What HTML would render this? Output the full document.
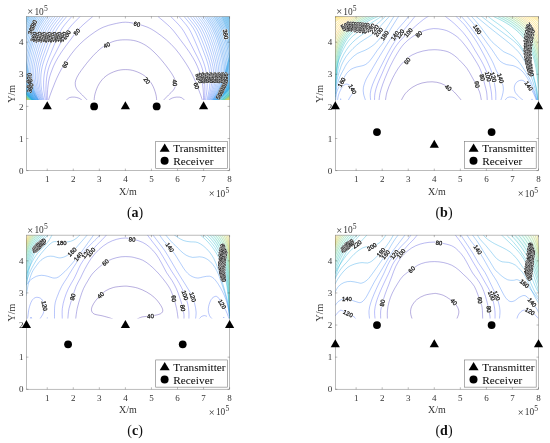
<!DOCTYPE html>
<html><head><meta charset="utf-8"><title>Figure</title>
<style>
html,body{margin:0;padding:0;background:#fff;}
svg{display:block;font-family:"Liberation Serif",serif;}
.tk{font-size:9px;fill:#333;}
.ax{stroke:#262626;stroke-width:0.6;fill:none;opacity:.52}
.lg{font-size:11.3px;fill:#000;}
.cap{font-size:14px;fill:#111;}
.clh{font-family:"Liberation Sans",sans-serif;font-size:6px;fill:#fff;stroke:#fff;stroke-width:1.3px;stroke-linejoin:round;}
.cmh{font-family:"Liberation Sans",sans-serif;font-size:6px;fill:#fff;stroke:#fff;stroke-width:0.55px;stroke-linejoin:round;}
.cc{font-family:"Liberation Sans",sans-serif;font-size:6px;fill:#1a1a1a;stroke:#1a1a1a;stroke-width:0.28px;}
.ct{fill:none;stroke-width:0.5;stroke-opacity:.74;}
</style></head><body>
<svg width="550" height="443" viewBox="0 0 550 443">
<rect width="550" height="443" fill="#fff"/>
<g id="panel-a">
<clipPath id="clip-a"><rect x="26.40" y="16.50" width="203.20" height="83.47"/></clipPath>
<g clip-path="url(#clip-a)">
<path d="M221.50 16.50L226.00 28.00L228.30 40.00L229.20 52.00L229.60 62.00L229.80 70.00L232.00 70.00L232.00 16.50Z" fill="#a6dbf3" fill-opacity=".55"/>
<path d="M18.80 16.50L18.80 70.00L21.00 70.00L21.20 62.00L21.60 52.00L22.50 40.00L24.80 28.00L29.30 16.50Z" fill="#a6dbf3" fill-opacity=".55"/>
<path d="M204.25 16.50L211.75 28.00L216.75 40.00L220.25 52.00L222.25 62.00L222.90 70.00L222.00 78.00L219.60 86.00L216.30 93.00L210.85 101.60L203.80 105.40L240.00 106.00L240.00 16.50Z" fill="#8fc3f5" fill-opacity="0.16"/>
<path d="M10.80 16.50L10.80 106.00L47.00 105.40L39.95 101.60L34.50 93.00L31.20 86.00L28.80 78.00L27.90 70.00L28.55 62.00L30.55 52.00L34.05 40.00L39.05 28.00L46.55 16.50Z" fill="#8fc3f5" fill-opacity="0.16"/>
<path d="M213.34 16.50L220.12 28.00L224.76 40.00L227.72 52.00L229.00 62.00L229.06 70.00L227.40 78.00L224.06 86.00L219.79 93.00L212.88 101.60L203.80 105.40L240.00 106.00L240.00 16.50Z" fill="#8fc3f5" fill-opacity="0.2"/>
<path d="M10.80 16.50L10.80 106.00L47.00 105.40L37.92 101.60L31.01 93.00L26.74 86.00L23.40 78.00L21.74 70.00L21.80 62.00L23.08 52.00L26.04 40.00L30.68 28.00L37.46 16.50Z" fill="#8fc3f5" fill-opacity="0.2"/>
<path d="M229.00 62.00L232.00 62.00L237.50 12.79L233.25 36.62L229.00 56.69L224.75 73.11L220.50 86.03L216.25 95.58L212.00 101.97L207.75 105.44L203.50 106.40L210.00 103.00L216.00 95.00L221.00 86.00L225.00 78.00L228.00 70.00Z" fill="#1da0e4" fill-opacity=".38"/>
<path d="M22.80 70.00L25.80 78.00L29.80 86.00L34.80 95.00L40.80 103.00L47.30 106.40L43.05 105.44L38.80 101.97L34.55 95.58L30.30 86.03L26.05 73.11L21.80 56.69L17.55 36.62L13.30 12.79L18.80 62.00L21.80 62.00Z" fill="#1da0e4" fill-opacity=".38"/>
<path d="M203.50 106.40L207.75 105.44L212.00 101.97L216.25 95.58L220.50 86.03L224.75 73.11L229.00 56.69L233.25 36.62L237.50 12.79L237.50 36.19L233.25 54.06L229.00 69.12L224.75 81.44L220.50 91.12L216.25 98.29L212.00 103.07L207.75 105.68L203.50 106.40Z" fill="#1ca1e2" fill-opacity="0.31"/>
<path d="M47.30 106.40L43.05 105.35L38.80 101.58L34.55 94.63L30.30 84.24L26.05 70.20L21.80 52.34L17.55 30.51L13.30 4.60L13.30 -29.33L17.55 5.22L21.80 34.32L26.05 58.14L30.30 76.86L34.55 90.71L38.80 99.97L43.05 105.00L47.30 106.40Z" fill="#1ca1e2" fill-opacity="0.31"/>
<path d="M203.50 106.40L207.75 105.68L212.00 103.07L216.25 98.29L220.50 91.12L224.75 81.44L229.00 69.12L233.25 54.06L237.50 36.19L237.50 50.24L233.25 64.53L229.00 76.57L224.75 86.43L220.50 94.18L216.25 99.91L212.00 103.74L207.75 105.82L203.50 106.40Z" fill="#1ba3e1" fill-opacity="0.32"/>
<path d="M47.30 106.40L43.05 105.56L38.80 102.54L34.55 96.99L30.30 88.68L26.05 77.44L21.80 63.15L17.55 45.69L13.30 24.96L13.30 4.60L17.55 30.51L21.80 52.34L26.05 70.20L30.30 84.24L34.55 94.63L38.80 101.58L43.05 105.35L47.30 106.40Z" fill="#1ba3e1" fill-opacity="0.32"/>
<path d="M203.50 106.40L207.75 105.82L212.00 103.74L216.25 99.91L220.50 94.18L224.75 86.43L229.00 76.57L233.25 64.53L237.50 50.24L237.50 57.49L233.25 69.94L229.00 80.43L224.75 89.01L220.50 95.76L216.25 100.75L212.00 104.08L207.75 105.90L203.50 106.40Z" fill="#19a6df" fill-opacity="0.35"/>
<path d="M47.30 106.40L43.05 105.67L38.80 103.04L34.55 98.20L30.30 90.97L26.05 81.18L21.80 68.74L17.55 53.53L13.30 35.48L13.30 24.96L17.55 45.69L21.80 63.15L26.05 77.44L30.30 88.68L34.55 96.99L38.80 102.54L43.05 105.56L47.30 106.40Z" fill="#19a6df" fill-opacity="0.35"/>
<path d="M203.50 106.40L207.75 105.90L212.00 104.08L216.25 100.75L220.50 95.76L224.75 89.01L229.00 80.43L233.25 69.94L237.50 57.49L237.50 66.62L233.25 76.74L229.00 85.27L224.75 92.25L220.50 97.74L216.25 101.80L212.00 104.52L207.75 105.99L203.50 106.40Z" fill="#17a9dd" fill-opacity="0.37"/>
<path d="M47.30 106.40L43.05 105.81L38.80 103.67L34.55 99.73L30.30 93.85L26.05 85.89L21.80 75.77L17.55 63.40L13.30 48.71L13.30 35.48L17.55 53.53L21.80 68.74L26.05 81.18L30.30 90.97L34.55 98.20L38.80 103.04L43.05 105.67L47.30 106.40Z" fill="#17a9dd" fill-opacity="0.37"/>
<path d="M203.50 106.40L207.75 105.99L212.00 104.52L216.25 101.80L220.50 97.74L224.75 92.25L229.00 85.27L233.25 76.74L237.50 66.62L237.50 73.64L233.25 81.98L229.00 89.00L224.75 94.75L220.50 99.27L216.25 102.61L212.00 104.85L207.75 106.06L203.50 106.40Z" fill="#13afd8" fill-opacity="0.42"/>
<path d="M47.30 106.40L43.05 105.91L38.80 104.15L34.55 100.91L30.30 96.06L26.05 89.51L21.80 81.17L17.55 70.99L13.30 58.89L13.30 48.71L17.55 63.40L21.80 75.77L26.05 85.89L30.30 93.85L34.55 99.73L38.80 103.67L43.05 105.81L47.30 106.40Z" fill="#13afd8" fill-opacity="0.42"/>
<path d="M203.50 106.40L207.75 106.06L212.00 104.85L216.25 102.61L220.50 99.27L224.75 94.75L229.00 89.00L233.25 81.98L237.50 73.64L237.50 78.79L233.25 85.81L229.00 91.74L224.75 96.58L220.50 100.39L216.25 103.21L212.00 105.09L207.75 106.12L203.50 106.40Z" fill="#17b5cd" fill-opacity="0.53"/>
<path d="M47.30 106.40L43.05 105.99L38.80 104.50L34.55 101.77L30.30 97.69L26.05 92.16L21.80 85.14L17.55 76.55L13.30 66.36L13.30 58.89L17.55 70.99L21.80 81.17L26.05 89.51L30.30 96.06L34.55 100.91L38.80 104.15L43.05 105.91L47.30 106.40Z" fill="#17b5cd" fill-opacity="0.53"/>
<path d="M203.50 106.40L207.75 106.12L212.00 105.09L216.25 103.21L220.50 100.39L224.75 96.58L229.00 91.74L233.25 85.81L237.50 78.79L237.50 83.23L233.25 89.13L229.00 94.10L224.75 98.16L220.50 101.36L216.25 103.72L212.00 105.30L207.75 106.16L203.50 106.40Z" fill="#22bbbb" fill-opacity="0.66"/>
<path d="M47.30 106.40L43.05 106.05L38.80 104.81L34.55 102.52L30.30 99.09L26.05 94.45L21.80 88.56L17.55 81.36L13.30 72.81L13.30 66.36L17.55 76.55L21.80 85.14L26.05 92.16L30.30 97.69L34.55 101.77L38.80 104.50L43.05 105.99L47.30 106.40Z" fill="#22bbbb" fill-opacity="0.66"/>
<path d="M203.50 106.40L207.75 106.16L212.00 105.30L216.25 103.72L220.50 101.36L224.75 98.16L229.00 94.10L233.25 89.13L237.50 83.23L237.50 85.81L233.25 91.05L229.00 95.46L224.75 99.08L220.50 101.92L216.25 104.02L212.00 105.42L207.75 106.19L203.50 106.40Z" fill="#2fc3a5" fill-opacity="0.79"/>
<path d="M47.30 106.40L43.05 106.09L38.80 104.99L34.55 102.95L30.30 99.90L26.05 95.78L21.80 90.54L17.55 84.14L13.30 76.54L13.30 72.81L17.55 81.36L21.80 88.56L26.05 94.45L30.30 99.09L34.55 102.52L38.80 104.81L43.05 106.05L47.30 106.40Z" fill="#2fc3a5" fill-opacity="0.79"/>
<path d="M203.50 106.40L207.75 106.19L212.00 105.42L216.25 104.02L220.50 101.92L224.75 99.08L229.00 95.46L233.25 91.05L237.50 85.81L237.50 87.68L233.25 92.44L229.00 96.46L224.75 99.74L220.50 102.33L216.25 104.24L212.00 105.51L207.75 106.21L203.50 106.40Z" fill="#4ec884" fill-opacity="0.92"/>
<path d="M47.30 106.40L43.05 106.12L38.80 105.11L34.55 103.26L30.30 100.49L26.05 96.75L21.80 91.98L17.55 86.16L13.30 79.25L13.30 76.54L17.55 84.14L21.80 90.54L26.05 95.78L30.30 99.90L34.55 102.95L38.80 104.99L43.05 106.09L47.30 106.40Z" fill="#4ec884" fill-opacity="0.92"/>
<path d="M203.50 106.40L207.75 106.21L212.00 105.51L216.25 104.24L220.50 102.33L224.75 99.74L229.00 96.46L233.25 92.44L237.50 87.68L237.50 89.32L233.25 93.67L229.00 97.33L224.75 100.33L220.50 102.68L216.25 104.43L212.00 105.59L207.75 106.22L203.50 106.40Z" fill="#7fc75d" fill-opacity="0.93"/>
<path d="M47.30 106.40L43.05 106.14L38.80 105.23L34.55 103.54L30.30 101.01L26.05 97.59L21.80 93.25L17.55 87.93L13.30 81.63L13.30 79.25L17.55 86.16L21.80 91.98L26.05 96.75L30.30 100.49L34.55 103.26L38.80 105.11L43.05 106.12L47.30 106.40Z" fill="#7fc75d" fill-opacity="0.93"/>
<path d="M203.50 106.40L207.75 106.22L212.00 105.59L216.25 104.43L220.50 102.68L224.75 100.33L229.00 97.33L233.25 93.67L237.50 89.32L237.50 90.72L233.25 94.71L229.00 98.07L224.75 100.82L220.50 102.99L216.25 104.59L212.00 105.66L207.75 106.24L203.50 106.40Z" fill="#a8c73c" fill-opacity="0.94"/>
<path d="M47.30 106.40L43.05 106.17L38.80 105.32L34.55 103.77L30.30 101.45L26.05 98.32L21.80 94.33L17.55 89.45L13.30 83.66L13.30 81.63L17.55 87.93L21.80 93.25L26.05 97.59L30.30 101.01L34.55 103.54L38.80 105.23L43.05 106.14L47.30 106.40Z" fill="#a8c73c" fill-opacity="0.94"/>
<path d="M203.50 106.40L207.75 106.24L212.00 105.66L216.25 104.59L220.50 102.99L224.75 100.82L229.00 98.07L233.25 94.71L237.50 90.72L237.50 92.12L233.25 95.76L229.00 98.82L224.75 101.32L220.50 103.29L216.25 104.75L212.00 105.72L207.75 106.25L203.50 106.40Z" fill="#c0c639" fill-opacity="0.95"/>
<path d="M47.30 106.40L43.05 106.19L38.80 105.42L34.55 104.01L30.30 101.90L26.05 99.04L21.80 95.41L17.55 90.97L13.30 85.70L13.30 83.66L17.55 89.45L21.80 94.33L26.05 98.32L30.30 101.45L34.55 103.77L38.80 105.32L43.05 106.17L47.30 106.40Z" fill="#c0c639" fill-opacity="0.95"/>
<path d="M203.50 106.40L207.75 106.25L212.00 105.72L216.25 104.75L220.50 103.29L224.75 101.32L229.00 98.82L233.25 95.76L237.50 92.12L237.50 93.53L233.25 96.81L229.00 99.56L224.75 101.82L220.50 103.60L216.25 104.91L212.00 105.79L207.75 106.27L203.50 106.40Z" fill="#d7c538" fill-opacity="0.96"/>
<path d="M47.30 106.40L43.05 106.21L38.80 105.52L34.55 104.24L30.30 102.34L26.05 99.76L21.80 96.49L17.55 92.49L13.30 87.74L13.30 85.70L17.55 90.97L21.80 95.41L26.05 99.04L30.30 101.90L34.55 104.01L38.80 105.42L43.05 106.19L47.30 106.40Z" fill="#d7c538" fill-opacity="0.96"/>
<path d="M203.50 106.40L207.75 106.27L212.00 105.79L216.25 104.91L220.50 103.60L224.75 101.82L229.00 99.56L233.25 96.81L237.50 93.53L237.50 94.93L233.25 97.85L229.00 100.31L224.75 102.32L220.50 103.90L216.25 105.07L212.00 105.86L207.75 106.28L203.50 106.40Z" fill="#eec438" fill-opacity="0.97"/>
<path d="M47.30 106.40L43.05 106.23L38.80 105.61L34.55 104.48L30.30 102.78L26.05 100.49L21.80 97.57L17.55 94.01L13.30 89.77L13.30 87.74L17.55 92.49L21.80 96.49L26.05 99.76L30.30 102.34L34.55 104.24L38.80 105.52L43.05 106.21L47.30 106.40Z" fill="#eec438" fill-opacity="0.97"/>
<path d="M203.50 106.40L207.75 106.28L212.00 105.86L216.25 105.07L220.50 103.90L224.75 102.32L229.00 100.31L233.25 97.85L237.50 94.93L237.50 96.57L233.25 99.07L229.00 101.18L224.75 102.91L220.50 104.26L216.25 105.26L212.00 105.93L207.75 106.30L203.50 106.40Z" fill="#fec437" fill-opacity="0.97"/>
<path d="M47.30 106.40L43.05 106.25L38.80 105.72L34.55 104.75L30.30 103.30L26.05 101.33L21.80 98.83L17.55 95.78L13.30 92.15L13.30 89.77L17.55 94.01L21.80 97.57L26.05 100.49L30.30 102.78L34.55 104.48L38.80 105.61L43.05 106.23L47.30 106.40Z" fill="#fec437" fill-opacity="0.97"/>
<path d="M203.50 106.40L207.75 106.30L212.00 105.93L216.25 105.26L220.50 104.26L224.75 102.91L229.00 101.18L233.25 99.07L237.50 96.57L237.50 99.38L233.25 101.17L229.00 102.67L224.75 103.90L220.50 104.87L216.25 105.59L212.00 106.07L207.75 106.33L203.50 106.40Z" fill="#fdd030" fill-opacity="0.98"/>
<path d="M47.30 106.40L43.05 106.30L38.80 105.92L34.55 105.22L30.30 104.18L26.05 102.78L21.80 100.99L17.55 98.81L13.30 96.22L13.30 92.15L17.55 95.78L21.80 98.83L26.05 101.33L30.30 103.30L34.55 104.75L38.80 105.72L43.05 106.25L47.30 106.40Z" fill="#fdd030" fill-opacity="0.98"/>
<path d="M203.50 106.40L207.75 106.33L212.00 106.07L216.25 105.59L220.50 104.87L224.75 103.90L229.00 102.67L233.25 101.17L237.50 99.38L237.50 106.40L233.25 106.40L229.00 106.40L224.75 106.40L220.50 106.40L216.25 106.40L212.00 106.40L207.75 106.40L203.50 106.40Z" fill="#fcd82b" fill-opacity="0.98"/>
<path d="M47.30 106.40L43.05 106.40L38.80 106.40L34.55 106.40L30.30 106.40L26.05 106.40L21.80 106.40L17.55 106.40L13.30 106.40L13.30 96.22L17.55 98.81L21.80 100.99L26.05 102.78L30.30 104.18L34.55 105.22L38.80 105.92L43.05 106.30L47.30 106.40Z" fill="#fcd82b" fill-opacity="0.98"/>
<path class="ct" d="M158.00 16.50C160.17 18.42 167.25 24.08 171.00 28.00C174.75 31.92 177.45 36.00 180.50 40.00C183.55 44.00 186.83 48.33 189.30 52.00C191.77 55.67 193.72 59.00 195.30 62.00C196.88 65.00 197.77 67.33 198.80 70.00C199.83 72.67 200.83 75.33 201.50 78.00C202.17 80.67 202.48 83.50 202.80 86.00C203.12 88.50 203.27 90.40 203.40 93.00C203.53 95.60 203.57 100.17 203.60 101.60" stroke="#4442d8"/>
<path class="ct" d="M47.20 101.60C47.23 100.17 47.27 95.60 47.40 93.00C47.53 90.40 47.68 88.50 48.00 86.00C48.32 83.50 48.63 80.67 49.30 78.00C49.97 75.33 50.97 72.67 52.00 70.00C53.03 67.33 53.92 65.00 55.50 62.00C57.08 59.00 59.03 55.67 61.50 52.00C63.97 48.33 67.25 44.00 70.30 40.00C73.35 36.00 76.05 31.92 79.80 28.00C83.55 24.08 90.63 18.42 92.80 16.50" stroke="#4442d8"/>
<path class="ct" d="M170.70 16.50C172.50 18.42 178.52 24.08 181.50 28.00C184.48 31.92 186.38 36.00 188.60 40.00C190.82 44.00 192.93 48.33 194.80 52.00C196.67 55.67 198.48 59.00 199.80 62.00C201.12 65.00 201.97 67.33 202.70 70.00C203.43 72.67 203.85 75.33 204.20 78.00C204.55 80.67 204.70 83.50 204.80 86.00C204.90 88.50 204.88 90.40 204.80 93.00C204.72 95.60 204.38 100.17 204.30 101.60" stroke="#474eed"/>
<path class="ct" d="M46.50 101.60C46.42 100.17 46.08 95.60 46.00 93.00C45.92 90.40 45.90 88.50 46.00 86.00C46.10 83.50 46.25 80.67 46.60 78.00C46.95 75.33 47.37 72.67 48.10 70.00C48.83 67.33 49.68 65.00 51.00 62.00C52.32 59.00 54.13 55.67 56.00 52.00C57.87 48.33 59.98 44.00 62.20 40.00C64.42 36.00 66.32 31.92 69.30 28.00C72.28 24.08 78.30 18.42 80.10 16.50" stroke="#474eed"/>
<path class="ct" d="M179.00 16.50C180.58 18.42 185.92 24.08 188.50 28.00C191.08 31.92 192.67 36.00 194.50 40.00C196.33 44.00 198.00 48.33 199.50 52.00C201.00 55.67 202.45 59.00 203.50 62.00C204.55 65.00 205.22 67.33 205.80 70.00C206.38 72.67 206.77 75.33 207.00 78.00C207.23 80.67 207.27 83.50 207.20 86.00C207.13 88.50 206.93 90.40 206.60 93.00C206.27 95.60 205.43 100.17 205.20 101.60" stroke="#4559f5"/>
<path class="ct" d="M45.60 101.60C45.37 100.17 44.53 95.60 44.20 93.00C43.87 90.40 43.67 88.50 43.60 86.00C43.53 83.50 43.57 80.67 43.80 78.00C44.03 75.33 44.42 72.67 45.00 70.00C45.58 67.33 46.25 65.00 47.30 62.00C48.35 59.00 49.80 55.67 51.30 52.00C52.80 48.33 54.47 44.00 56.30 40.00C58.13 36.00 59.72 31.92 62.30 28.00C64.88 24.08 70.22 18.42 71.80 16.50" stroke="#4559f5"/>
<path class="ct" d="M184.10 16.50C185.62 18.42 190.71 24.08 193.20 28.00C195.68 31.92 197.24 36.00 198.99 40.00C200.74 44.00 202.31 48.33 203.69 52.00C205.07 55.67 206.36 59.00 207.29 62.00C208.21 65.00 208.80 67.33 209.25 70.00C209.71 72.67 209.95 75.33 210.03 78.00C210.10 80.67 209.95 83.50 209.70 86.00C209.46 88.50 209.12 90.40 208.56 93.00C208.00 95.60 207.13 99.53 206.34 101.60C205.55 103.67 204.22 104.77 203.80 105.40" stroke="#3d67f5"/>
<path class="ct" d="M47.00 105.40C46.58 104.77 45.25 103.67 44.46 101.60C43.67 99.53 42.80 95.60 42.24 93.00C41.68 90.40 41.34 88.50 41.10 86.00C40.85 83.50 40.70 80.67 40.77 78.00C40.85 75.33 41.09 72.67 41.55 70.00C42.00 67.33 42.59 65.00 43.51 62.00C44.44 59.00 45.73 55.67 47.11 52.00C48.49 48.33 50.06 44.00 51.81 40.00C53.56 36.00 55.12 31.92 57.60 28.00C60.09 24.08 65.18 18.42 66.70 16.50" stroke="#3d67f5"/>
<path class="ct" d="M187.30 16.50C188.77 18.42 193.72 24.08 196.14 28.00C198.56 31.92 200.12 36.00 201.81 40.00C203.51 44.00 205.01 48.33 206.32 52.00C207.63 55.67 208.81 59.00 209.66 62.00C210.51 65.00 211.04 67.33 211.42 70.00C211.80 72.67 211.95 75.33 211.93 78.00C211.91 80.67 211.63 83.50 211.28 86.00C210.92 88.50 210.49 90.40 209.79 93.00C209.09 95.60 208.06 99.53 207.06 101.60C206.06 103.67 204.34 104.77 203.80 105.40" stroke="#3b6cf6"/>
<path class="ct" d="M47.00 105.40C46.46 104.77 44.74 103.67 43.74 101.60C42.74 99.53 41.71 95.60 41.01 93.00C40.31 90.40 39.88 88.50 39.52 86.00C39.17 83.50 38.89 80.67 38.87 78.00C38.85 75.33 39.00 72.67 39.38 70.00C39.76 67.33 40.29 65.00 41.14 62.00C41.99 59.00 43.17 55.67 44.48 52.00C45.79 48.33 47.29 44.00 48.99 40.00C50.68 36.00 52.24 31.92 54.66 28.00C57.08 24.08 62.03 18.42 63.50 16.50" stroke="#3b6cf6"/>
<path class="ct" d="M190.30 16.50C191.73 18.42 196.55 24.08 198.90 28.00C201.26 31.92 202.81 36.00 204.46 40.00C206.10 44.00 207.55 48.33 208.79 52.00C210.03 55.67 211.11 59.00 211.89 62.00C212.67 65.00 213.15 67.33 213.45 70.00C213.76 72.67 213.83 75.33 213.71 78.00C213.60 80.67 213.21 83.50 212.75 86.00C212.29 88.50 211.78 90.40 210.94 93.00C210.10 95.60 208.92 99.53 207.73 101.60C206.54 103.67 204.45 104.77 203.80 105.40" stroke="#3970f6"/>
<path class="ct" d="M47.00 105.40C46.35 104.77 44.26 103.67 43.07 101.60C41.88 99.53 40.70 95.60 39.86 93.00C39.02 90.40 38.51 88.50 38.05 86.00C37.59 83.50 37.20 80.67 37.09 78.00C36.97 75.33 37.04 72.67 37.35 70.00C37.65 67.33 38.13 65.00 38.91 62.00C39.69 59.00 40.77 55.67 42.01 52.00C43.25 48.33 44.70 44.00 46.34 40.00C47.99 36.00 49.54 31.92 51.90 28.00C54.25 24.08 59.07 18.42 60.50 16.50" stroke="#3970f6"/>
<path class="ct" d="M193.00 16.50C194.40 18.42 199.08 24.08 201.39 28.00C203.70 31.92 205.23 36.00 206.84 40.00C208.44 44.00 209.83 48.33 211.00 52.00C212.18 55.67 213.18 59.00 213.90 62.00C214.61 65.00 215.04 67.33 215.28 70.00C215.52 72.67 215.52 75.33 215.32 78.00C215.12 80.67 214.63 83.50 214.08 86.00C213.52 88.50 212.94 90.40 211.98 93.00C211.02 95.60 209.70 99.53 208.33 101.60C206.97 103.67 204.56 104.77 203.80 105.40" stroke="#3774f6"/>
<path class="ct" d="M47.00 105.40C46.24 104.77 43.83 103.67 42.47 101.60C41.10 99.53 39.78 95.60 38.82 93.00C37.86 90.40 37.28 88.50 36.72 86.00C36.17 83.50 35.68 80.67 35.48 78.00C35.28 75.33 35.28 72.67 35.52 70.00C35.76 67.33 36.19 65.00 36.90 62.00C37.62 59.00 38.62 55.67 39.80 52.00C40.97 48.33 42.36 44.00 43.96 40.00C45.57 36.00 47.10 31.92 49.41 28.00C51.72 24.08 56.40 18.42 57.80 16.50" stroke="#3774f6"/>
<path class="ct" d="M195.60 16.50C196.96 18.42 201.53 24.08 203.79 28.00C206.04 31.92 207.57 36.00 209.13 40.00C210.69 44.00 212.03 48.33 213.14 52.00C214.26 55.67 215.18 59.00 215.83 62.00C216.48 65.00 216.87 67.33 217.04 70.00C217.21 72.67 217.14 75.33 216.86 78.00C216.58 80.67 216.00 83.50 215.35 86.00C214.70 88.50 214.05 90.40 212.98 93.00C211.90 95.60 210.44 99.53 208.91 101.60C207.38 103.67 204.65 104.77 203.80 105.40" stroke="#3578f6"/>
<path class="ct" d="M47.00 105.40C46.15 104.77 43.42 103.67 41.89 101.60C40.36 99.53 38.90 95.60 37.82 93.00C36.75 90.40 36.10 88.50 35.45 86.00C34.80 83.50 34.22 80.67 33.94 78.00C33.66 75.33 33.59 72.67 33.76 70.00C33.93 67.33 34.32 65.00 34.97 62.00C35.62 59.00 36.54 55.67 37.66 52.00C38.77 48.33 40.11 44.00 41.67 40.00C43.23 36.00 44.76 31.92 47.01 28.00C49.27 24.08 53.84 18.42 55.20 16.50" stroke="#3578f6"/>
<path class="ct" d="M198.00 16.50C199.33 18.42 203.79 24.08 206.00 28.00C208.20 31.92 209.72 36.00 211.24 40.00C212.76 44.00 214.05 48.33 215.11 52.00C216.17 55.67 217.02 59.00 217.61 62.00C218.20 65.00 218.55 67.33 218.67 70.00C218.78 72.67 218.64 75.33 218.29 78.00C217.93 80.67 217.26 83.50 216.53 86.00C215.80 88.50 215.08 90.40 213.90 93.00C212.72 95.60 211.13 99.53 209.45 101.60C207.77 103.67 204.74 104.77 203.80 105.40" stroke="#337cf6"/>
<path class="ct" d="M47.00 105.40C46.06 104.77 43.03 103.67 41.35 101.60C39.67 99.53 38.08 95.60 36.90 93.00C35.72 90.40 35.00 88.50 34.27 86.00C33.54 83.50 32.87 80.67 32.51 78.00C32.16 75.33 32.02 72.67 32.13 70.00C32.25 67.33 32.60 65.00 33.19 62.00C33.78 59.00 34.63 55.67 35.69 52.00C36.75 48.33 38.04 44.00 39.56 40.00C41.08 36.00 42.60 31.92 44.80 28.00C47.01 24.08 51.47 18.42 52.80 16.50" stroke="#337cf6"/>
<path class="ct" d="M200.30 16.50C201.60 18.42 205.95 24.08 208.11 28.00C210.27 31.92 211.79 36.00 213.27 40.00C214.75 44.00 216.00 48.33 217.00 52.00C218.01 55.67 218.78 59.00 219.32 62.00C219.85 65.00 220.17 67.33 220.22 70.00C220.28 72.67 220.08 75.33 219.65 78.00C219.23 80.67 218.47 83.50 217.66 86.00C216.85 88.50 216.06 90.40 214.78 93.00C213.50 95.60 211.80 99.53 209.97 101.60C208.14 103.67 204.83 104.77 203.80 105.40" stroke="#317ff6"/>
<path class="ct" d="M47.00 105.40C45.97 104.77 42.66 103.67 40.83 101.60C39.00 99.53 37.30 95.60 36.02 93.00C34.74 90.40 33.95 88.50 33.14 86.00C32.33 83.50 31.57 80.67 31.15 78.00C30.72 75.33 30.52 72.67 30.58 70.00C30.63 67.33 30.95 65.00 31.48 62.00C32.02 59.00 32.79 55.67 33.80 52.00C34.80 48.33 36.05 44.00 37.53 40.00C39.01 36.00 40.53 31.92 42.69 28.00C44.85 24.08 49.20 18.42 50.50 16.50" stroke="#317ff6"/>
<path class="ct" d="M202.50 16.50C203.77 18.42 208.02 24.08 210.14 28.00C212.26 31.92 213.76 36.00 215.21 40.00C216.65 44.00 217.85 48.33 218.81 52.00C219.77 55.67 220.47 59.00 220.95 62.00C221.43 65.00 221.71 67.33 221.71 70.00C221.72 72.67 221.46 75.33 220.96 78.00C220.46 80.67 219.63 83.50 218.74 86.00C217.85 88.50 217.01 90.40 215.63 93.00C214.25 95.60 212.43 99.53 210.46 101.60C208.49 103.67 204.91 104.77 203.80 105.40" stroke="#3082f7"/>
<path class="ct" d="M47.00 105.40C45.89 104.77 42.31 103.67 40.34 101.60C38.37 99.53 36.55 95.60 35.17 93.00C33.79 90.40 32.95 88.50 32.06 86.00C31.17 83.50 30.34 80.67 29.84 78.00C29.34 75.33 29.08 72.67 29.09 70.00C29.09 67.33 29.37 65.00 29.85 62.00C30.33 59.00 31.03 55.67 31.99 52.00C32.95 48.33 34.15 44.00 35.59 40.00C37.04 36.00 38.54 31.92 40.66 28.00C42.78 24.08 47.03 18.42 48.30 16.50" stroke="#3082f7"/>
<path class="ct" d="M204.60 16.50C205.85 18.42 210.00 24.08 212.07 28.00C214.15 31.92 215.65 36.00 217.06 40.00C218.47 44.00 219.63 48.33 220.54 52.00C221.45 55.67 222.08 59.00 222.51 62.00C222.94 65.00 223.19 67.33 223.14 70.00C223.09 72.67 222.77 75.33 222.21 78.00C221.65 80.67 220.73 83.50 219.77 86.00C218.81 88.50 217.91 90.40 216.43 93.00C214.96 95.60 213.03 99.53 210.93 101.60C208.82 103.67 204.99 104.77 203.80 105.40" stroke="#2e85f7"/>
<path class="ct" d="M47.00 105.40C45.81 104.77 41.98 103.67 39.87 101.60C37.77 99.53 35.84 95.60 34.37 93.00C32.89 90.40 31.99 88.50 31.03 86.00C30.07 83.50 29.15 80.67 28.59 78.00C28.03 75.33 27.71 72.67 27.66 70.00C27.61 67.33 27.86 65.00 28.29 62.00C28.72 59.00 29.35 55.67 30.26 52.00C31.17 48.33 32.33 44.00 33.74 40.00C35.15 36.00 36.65 31.92 38.73 28.00C40.80 24.08 44.95 18.42 46.20 16.50" stroke="#2e85f7"/>
<path class="ct" d="M206.60 16.50C207.82 18.42 211.88 24.08 213.91 28.00C215.95 31.92 217.44 36.00 218.82 40.00C220.20 44.00 221.32 48.33 222.18 52.00C223.04 55.67 223.61 59.00 224.00 62.00C224.38 65.00 224.59 67.33 224.49 70.00C224.39 72.67 224.02 75.33 223.40 78.00C222.77 80.67 221.79 83.50 220.75 86.00C219.72 88.50 218.77 90.40 217.20 93.00C215.64 95.60 213.61 99.53 211.38 101.60C209.14 103.67 205.06 104.77 203.80 105.40" stroke="#2d88f6"/>
<path class="ct" d="M47.00 105.40C45.74 104.77 41.66 103.67 39.42 101.60C37.19 99.53 35.16 95.60 33.60 93.00C32.03 90.40 31.08 88.50 30.05 86.00C29.01 83.50 28.03 80.67 27.40 78.00C26.78 75.33 26.41 72.67 26.31 70.00C26.21 67.33 26.42 65.00 26.80 62.00C27.19 59.00 27.76 55.67 28.62 52.00C29.48 48.33 30.60 44.00 31.98 40.00C33.36 36.00 34.85 31.92 36.89 28.00C38.92 24.08 42.98 18.42 44.20 16.50" stroke="#2d88f6"/>
<path class="ct" d="M208.50 16.50C209.69 18.42 213.66 24.08 215.66 28.00C217.66 31.92 219.15 36.00 220.50 40.00C221.84 44.00 222.92 48.33 223.74 52.00C224.56 55.67 225.07 59.00 225.41 62.00C225.75 65.00 225.93 67.33 225.78 70.00C225.63 72.67 225.21 75.33 224.52 78.00C223.84 80.67 222.79 83.50 221.69 86.00C220.59 88.50 219.58 90.40 217.93 93.00C216.28 95.60 214.16 99.53 211.80 101.60C209.45 103.67 205.13 104.77 203.80 105.40" stroke="#2b8af4"/>
<path class="ct" d="M47.00 105.40C45.67 104.77 41.35 103.67 39.00 101.60C36.64 99.53 34.52 95.60 32.87 93.00C31.22 90.40 30.21 88.50 29.11 86.00C28.01 83.50 26.96 80.67 26.28 78.00C25.59 75.33 25.17 72.67 25.02 70.00C24.87 67.33 25.05 65.00 25.39 62.00C25.73 59.00 26.24 55.67 27.06 52.00C27.88 48.33 28.96 44.00 30.30 40.00C31.65 36.00 33.14 31.92 35.14 28.00C37.14 24.08 41.11 18.42 42.30 16.50" stroke="#2b8af4"/>
<path class="ct" d="M210.40 16.50C211.57 18.42 215.45 24.08 217.41 28.00C219.37 31.92 220.85 36.00 222.17 40.00C223.48 44.00 224.53 48.33 225.30 52.00C226.08 55.67 226.52 59.00 226.82 62.00C227.11 65.00 227.26 67.33 227.06 70.00C226.87 72.67 226.39 75.33 225.65 78.00C224.91 80.67 223.79 83.50 222.62 86.00C221.46 88.50 220.39 90.40 218.66 93.00C216.93 95.60 214.70 99.53 212.23 101.60C209.75 103.67 205.20 104.77 203.80 105.40" stroke="#2a8cf3"/>
<path class="ct" d="M47.00 105.40C45.60 104.77 41.05 103.67 38.57 101.60C36.10 99.53 33.87 95.60 32.14 93.00C30.41 90.40 29.34 88.50 28.18 86.00C27.01 83.50 25.89 80.67 25.15 78.00C24.41 75.33 23.93 72.67 23.74 70.00C23.54 67.33 23.69 65.00 23.98 62.00C24.28 59.00 24.72 55.67 25.50 52.00C26.27 48.33 27.32 44.00 28.63 40.00C29.95 36.00 31.43 31.92 33.39 28.00C35.35 24.08 39.23 18.42 40.40 16.50" stroke="#2a8cf3"/>
<path class="ct" d="M212.20 16.50C213.35 18.42 217.14 24.08 219.07 28.00C221.00 31.92 222.47 36.00 223.76 40.00C225.04 44.00 226.05 48.33 226.78 52.00C227.52 55.67 227.90 59.00 228.15 62.00C228.40 65.00 228.52 67.33 228.28 70.00C228.05 72.67 227.52 75.33 226.72 78.00C225.93 80.67 224.73 83.50 223.50 86.00C222.28 88.50 221.17 90.40 219.35 93.00C217.54 95.60 215.22 99.53 212.63 101.60C210.04 103.67 205.27 104.77 203.80 105.40" stroke="#288ff1"/>
<path class="ct" d="M47.00 105.40C45.53 104.77 40.76 103.67 38.17 101.60C35.58 99.53 33.26 95.60 31.45 93.00C29.63 90.40 28.52 88.50 27.30 86.00C26.07 83.50 24.87 80.67 24.08 78.00C23.28 75.33 22.75 72.67 22.52 70.00C22.28 67.33 22.40 65.00 22.65 62.00C22.90 59.00 23.28 55.67 24.02 52.00C24.75 48.33 25.76 44.00 27.04 40.00C28.33 36.00 29.80 31.92 31.73 28.00C33.66 24.08 37.45 18.42 38.60 16.50" stroke="#288ff1"/>
<path class="ct" d="M214.00 16.50C215.12 18.42 218.84 24.08 220.73 28.00C222.62 31.92 224.09 36.00 225.34 40.00C226.60 44.00 227.57 48.33 228.26 52.00C228.95 55.67 229.28 59.00 229.49 62.00C229.70 65.00 229.79 67.33 229.50 70.00C229.22 72.67 228.64 75.33 227.79 78.00C226.94 80.67 225.68 83.50 224.39 86.00C223.10 88.50 221.94 90.40 220.05 93.00C218.15 95.60 215.74 99.53 213.03 101.60C210.32 103.67 205.34 104.77 203.80 105.40" stroke="#2791ef"/>
<path class="ct" d="M47.00 105.40C45.46 104.77 40.48 103.67 37.77 101.60C35.06 99.53 32.65 95.60 30.75 93.00C28.86 90.40 27.70 88.50 26.41 86.00C25.12 83.50 23.86 80.67 23.01 78.00C22.16 75.33 21.58 72.67 21.30 70.00C21.01 67.33 21.10 65.00 21.31 62.00C21.52 59.00 21.85 55.67 22.54 52.00C23.23 48.33 24.20 44.00 25.46 40.00C26.71 36.00 28.18 31.92 30.07 28.00C31.96 24.08 35.68 18.42 36.80 16.50" stroke="#2791ef"/>
<path class="ct" d="M215.70 16.50C216.80 18.42 220.44 24.08 222.29 28.00C224.15 31.92 225.61 36.00 226.84 40.00C228.07 44.00 229.01 48.33 229.66 52.00C230.31 55.67 230.59 59.00 230.75 62.00C230.92 65.00 230.98 67.33 230.65 70.00C230.33 72.67 229.71 75.33 228.80 78.00C227.90 80.67 226.57 83.50 225.22 86.00C223.87 88.50 222.67 90.40 220.70 93.00C218.73 95.60 216.23 99.53 213.41 101.60C210.60 103.67 205.40 104.77 203.80 105.40" stroke="#2693ee"/>
<path class="ct" d="M47.00 105.40C45.40 104.77 40.20 103.67 37.39 101.60C34.57 99.53 32.07 95.60 30.10 93.00C28.13 90.40 26.93 88.50 25.58 86.00C24.23 83.50 22.90 80.67 22.00 78.00C21.09 75.33 20.47 72.67 20.15 70.00C19.82 67.33 19.88 65.00 20.05 62.00C20.21 59.00 20.49 55.67 21.14 52.00C21.79 48.33 22.73 44.00 23.96 40.00C25.19 36.00 26.65 31.92 28.51 28.00C30.36 24.08 34.00 18.42 35.10 16.50" stroke="#2693ee"/>
<path class="ct" d="M217.30 16.50C218.38 18.42 221.94 24.08 223.77 28.00C225.59 31.92 227.05 36.00 228.25 40.00C229.45 44.00 230.36 48.33 230.97 52.00C231.59 55.67 231.81 59.00 231.94 62.00C232.07 65.00 232.10 67.33 231.74 70.00C231.37 72.67 230.71 75.33 229.75 78.00C228.80 80.67 227.42 83.50 226.01 86.00C224.60 88.50 223.35 90.40 221.31 93.00C219.27 95.60 216.69 99.53 213.77 101.60C210.85 103.67 205.46 104.77 203.80 105.40" stroke="#2594ec"/>
<path class="ct" d="M47.00 105.40C45.34 104.77 39.95 103.67 37.03 101.60C34.11 99.53 31.53 95.60 29.49 93.00C27.45 90.40 26.20 88.50 24.79 86.00C23.38 83.50 22.00 80.67 21.05 78.00C20.09 75.33 19.43 72.67 19.06 70.00C18.70 67.33 18.73 65.00 18.86 62.00C18.99 59.00 19.21 55.67 19.83 52.00C20.44 48.33 21.35 44.00 22.55 40.00C23.75 36.00 25.21 31.92 27.03 28.00C28.86 24.08 32.42 18.42 33.50 16.50" stroke="#2594ec"/>
<path class="ct" d="M218.90 16.50C219.96 18.42 223.45 24.08 225.24 28.00C227.03 31.92 228.48 36.00 229.66 40.00C230.83 44.00 231.71 48.33 232.29 52.00C232.87 55.67 233.04 59.00 233.13 62.00C233.22 65.00 233.23 67.33 232.82 70.00C232.42 72.67 231.71 75.33 230.70 78.00C229.70 80.67 228.26 83.50 226.79 86.00C225.33 88.50 224.04 90.40 221.93 93.00C219.82 95.60 217.15 99.53 214.13 101.60C211.11 103.67 205.52 104.77 203.80 105.40" stroke="#2396eb"/>
<path class="ct" d="M47.00 105.40C45.28 104.77 39.69 103.67 36.67 101.60C33.65 99.53 30.98 95.60 28.87 93.00C26.76 90.40 25.47 88.50 24.01 86.00C22.54 83.50 21.10 80.67 20.10 78.00C19.09 75.33 18.38 72.67 17.98 70.00C17.57 67.33 17.58 65.00 17.67 62.00C17.76 59.00 17.93 55.67 18.51 52.00C19.09 48.33 19.97 44.00 21.14 40.00C22.32 36.00 23.77 31.92 25.56 28.00C27.35 24.08 30.84 18.42 31.90 16.50" stroke="#2396eb"/>
<path class="ct" d="M220.40 16.50C221.44 18.42 224.86 24.08 226.62 28.00C228.38 31.92 229.83 36.00 230.98 40.00C232.13 44.00 232.98 48.33 233.52 52.00C234.07 55.67 234.19 59.00 234.24 62.00C234.30 65.00 234.28 67.33 233.84 70.00C233.40 72.67 232.65 75.33 231.59 78.00C230.54 80.67 229.05 83.50 227.53 86.00C226.02 88.50 224.68 90.40 222.50 93.00C220.33 95.60 217.58 99.53 214.46 101.60C211.35 103.67 205.58 104.77 203.80 105.40" stroke="#2298e9"/>
<path class="ct" d="M47.00 105.40C45.22 104.77 39.45 103.67 36.34 101.60C33.22 99.53 30.47 95.60 28.30 93.00C26.12 90.40 24.78 88.50 23.27 86.00C21.75 83.50 20.26 80.67 19.21 78.00C18.15 75.33 17.40 72.67 16.96 70.00C16.52 67.33 16.50 65.00 16.56 62.00C16.61 59.00 16.73 55.67 17.28 52.00C17.82 48.33 18.67 44.00 19.82 40.00C20.97 36.00 22.42 31.92 24.18 28.00C25.94 24.08 29.36 18.42 30.40 16.50" stroke="#2298e9"/>
<path class="ct" d="M221.80 16.50C222.82 18.42 226.17 24.08 227.91 28.00C229.65 31.92 231.09 36.00 232.21 40.00C233.34 44.00 234.16 48.33 234.67 52.00C235.18 55.67 235.26 59.00 235.28 62.00C235.30 65.00 235.26 67.33 234.79 70.00C234.31 72.67 233.52 75.33 232.43 78.00C231.33 80.67 229.78 83.50 228.22 86.00C226.65 88.50 225.28 90.40 223.04 93.00C220.80 95.60 217.98 99.53 214.78 101.60C211.57 103.67 205.63 104.77 203.80 105.40" stroke="#219ae8"/>
<path class="ct" d="M47.00 105.40C45.17 104.77 39.23 103.67 36.02 101.60C32.82 99.53 30.00 95.60 27.76 93.00C25.52 90.40 24.15 88.50 22.58 86.00C21.02 83.50 19.47 80.67 18.37 78.00C17.28 75.33 16.49 72.67 16.01 70.00C15.54 67.33 15.50 65.00 15.52 62.00C15.54 59.00 15.62 55.67 16.13 52.00C16.64 48.33 17.46 44.00 18.59 40.00C19.71 36.00 21.15 31.92 22.89 28.00C24.63 24.08 27.98 18.42 29.00 16.50" stroke="#219ae8"/>
<path class="ct" d="M223.20 16.50C224.20 18.42 227.49 24.08 229.20 28.00C230.91 31.92 232.34 36.00 233.45 40.00C234.55 44.00 235.34 48.33 235.82 52.00C236.30 55.67 236.34 59.00 236.32 62.00C236.31 65.00 236.24 67.33 235.73 70.00C235.22 72.67 234.40 75.33 233.26 78.00C232.12 80.67 230.52 83.50 228.91 86.00C227.29 88.50 225.88 90.40 223.58 93.00C221.28 95.60 218.39 99.53 215.09 101.60C211.79 103.67 205.68 104.77 203.80 105.40" stroke="#209be7"/>
<path class="ct" d="M47.00 105.40C45.12 104.77 39.01 103.67 35.71 101.60C32.41 99.53 29.52 95.60 27.22 93.00C24.92 90.40 23.51 88.50 21.89 86.00C20.28 83.50 18.68 80.67 17.54 78.00C16.40 75.33 15.58 72.67 15.07 70.00C14.56 67.33 14.49 65.00 14.48 62.00C14.46 59.00 14.50 55.67 14.98 52.00C15.46 48.33 16.25 44.00 17.35 40.00C18.46 36.00 19.89 31.92 21.60 28.00C23.31 24.08 26.60 18.42 27.60 16.50" stroke="#209be7"/>
<path class="ct" d="M224.50 16.50C225.48 18.42 228.71 24.08 230.40 28.00C232.08 31.92 233.51 36.00 234.59 40.00C235.68 44.00 236.44 48.33 236.89 52.00C237.34 55.67 237.33 59.00 237.29 62.00C237.24 65.00 237.16 67.33 236.61 70.00C236.07 72.67 235.21 75.33 234.03 78.00C232.85 80.67 231.20 83.50 229.54 86.00C227.89 88.50 226.44 90.40 224.08 93.00C221.72 95.60 218.76 99.53 215.38 101.60C212.00 103.67 205.73 104.77 203.80 105.40" stroke="#1f9de6"/>
<path class="ct" d="M47.00 105.40C45.07 104.77 38.80 103.67 35.42 101.60C32.04 99.53 29.08 95.60 26.72 93.00C24.36 90.40 22.91 88.50 21.26 86.00C19.60 83.50 17.95 80.67 16.77 78.00C15.59 75.33 14.73 72.67 14.19 70.00C13.64 67.33 13.56 65.00 13.51 62.00C13.47 59.00 13.46 55.67 13.91 52.00C14.36 48.33 15.12 44.00 16.21 40.00C17.29 36.00 18.72 31.92 20.40 28.00C22.09 24.08 25.32 18.42 26.30 16.50" stroke="#1f9de6"/>
<path class="ct" d="M225.70 16.50C226.67 18.42 229.84 24.08 231.50 28.00C233.16 31.92 234.59 36.00 235.65 40.00C236.71 44.00 237.46 48.33 237.88 52.00C238.30 55.67 238.25 59.00 238.18 62.00C238.10 65.00 238.00 67.33 237.43 70.00C236.85 72.67 235.96 75.33 234.74 78.00C233.53 80.67 231.83 83.50 230.13 86.00C228.43 88.50 226.95 90.40 224.54 93.00C222.13 95.60 219.11 99.53 215.65 101.60C212.19 103.67 205.77 104.77 203.80 105.40" stroke="#1e9ee5"/>
<path class="ct" d="M47.00 105.40C45.03 104.77 38.61 103.67 35.15 101.60C31.69 99.53 28.67 95.60 26.26 93.00C23.85 90.40 22.37 88.50 20.67 86.00C18.97 83.50 17.27 80.67 16.06 78.00C14.84 75.33 13.95 72.67 13.37 70.00C12.80 67.33 12.70 65.00 12.62 62.00C12.55 59.00 12.50 55.67 12.92 52.00C13.34 48.33 14.09 44.00 15.15 40.00C16.21 36.00 17.64 31.92 19.30 28.00C20.96 24.08 24.13 18.42 25.10 16.50" stroke="#1e9ee5"/>
<path class="ct" d="M226.80 16.50C227.75 18.42 230.88 24.08 232.51 28.00C234.15 31.92 235.58 36.00 236.62 40.00C237.67 44.00 238.39 48.33 238.78 52.00C239.18 55.67 239.10 59.00 239.00 62.00C238.89 65.00 238.77 67.33 238.17 70.00C237.57 72.67 236.65 75.33 235.40 78.00C234.15 80.67 232.41 83.50 230.67 86.00C228.94 88.50 227.43 90.40 224.96 93.00C222.50 95.60 219.42 99.53 215.90 101.60C212.37 103.67 205.82 104.77 203.80 105.40" stroke="#1da0e4"/>
<path class="ct" d="M47.00 105.40C44.98 104.77 38.43 103.67 34.90 101.60C31.38 99.53 28.30 95.60 25.84 93.00C23.37 90.40 21.86 88.50 20.13 86.00C18.39 83.50 16.65 80.67 15.40 78.00C14.15 75.33 13.23 72.67 12.63 70.00C12.03 67.33 11.91 65.00 11.80 62.00C11.70 59.00 11.62 55.67 12.02 52.00C12.41 48.33 13.13 44.00 14.18 40.00C15.22 36.00 16.65 31.92 18.29 28.00C19.92 24.08 23.05 18.42 24.00 16.50" stroke="#1da0e4"/>
<path class="ct" d="M227.80 16.50C228.74 18.42 231.82 24.08 233.43 28.00C235.05 31.92 236.47 36.00 237.50 40.00C238.53 44.00 239.23 48.33 239.60 52.00C239.98 55.67 239.86 59.00 239.74 62.00C239.61 65.00 239.47 67.33 238.85 70.00C238.22 72.67 237.27 75.33 235.99 78.00C234.71 80.67 232.94 83.50 231.17 86.00C229.39 88.50 227.85 90.40 225.35 93.00C222.84 95.60 219.71 99.53 216.12 101.60C212.53 103.67 205.85 104.77 203.80 105.40" stroke="#1ca1e3"/>
<path class="ct" d="M47.00 105.40C44.95 104.77 38.27 103.67 34.68 101.60C31.09 99.53 27.96 95.60 25.45 93.00C22.95 90.40 21.41 88.50 19.63 86.00C17.86 83.50 16.09 80.67 14.81 78.00C13.53 75.33 12.58 72.67 11.95 70.00C11.33 67.33 11.19 65.00 11.06 62.00C10.94 59.00 10.82 55.67 11.20 52.00C11.57 48.33 12.27 44.00 13.30 40.00C14.33 36.00 15.75 31.92 17.37 28.00C18.98 24.08 22.06 18.42 23.00 16.50" stroke="#1ca1e3"/>
<path class="ct" d="M228.80 16.50C229.73 18.42 232.76 24.08 234.36 28.00C235.95 31.92 237.37 36.00 238.38 40.00C239.39 44.00 240.08 48.33 240.42 52.00C240.77 55.67 240.63 59.00 240.48 62.00C240.33 65.00 240.18 67.33 239.53 70.00C238.88 72.67 237.90 75.33 236.58 78.00C235.27 80.67 233.47 83.50 231.66 86.00C229.85 88.50 228.28 90.40 225.73 93.00C223.18 95.60 220.00 99.53 216.34 101.60C212.69 103.67 205.89 104.77 203.80 105.40" stroke="#1ca2e2"/>
<path class="ct" d="M47.00 105.40C44.91 104.77 38.11 103.67 34.46 101.60C30.80 99.53 27.62 95.60 25.07 93.00C22.52 90.40 20.95 88.50 19.14 86.00C17.33 83.50 15.53 80.67 14.22 78.00C12.90 75.33 11.92 72.67 11.27 70.00C10.62 67.33 10.47 65.00 10.32 62.00C10.17 59.00 10.03 55.67 10.38 52.00C10.72 48.33 11.41 44.00 12.42 40.00C13.43 36.00 14.85 31.92 16.44 28.00C18.04 24.08 21.07 18.42 22.00 16.50" stroke="#1ca2e2"/>
<path class="ct" d="M94.00 102.00C94.17 100.67 94.17 97.00 95.00 94.00C95.83 91.00 97.17 87.00 99.00 84.00C100.83 81.00 103.17 78.17 106.00 76.00C108.83 73.83 112.77 72.07 116.00 71.00C119.23 69.93 122.27 69.60 125.40 69.60C128.53 69.60 131.57 69.93 134.80 71.00C138.03 72.07 141.97 73.83 144.80 76.00C147.63 78.17 149.97 81.00 151.80 84.00C153.63 87.00 154.97 91.00 155.80 94.00C156.63 97.00 156.63 100.67 156.80 102.00" stroke="#3e26a8"/>
<path class="ct" d="M87.60 100.50C86.72 99.58 84.02 96.75 82.30 95.00C80.58 93.25 78.47 91.67 77.30 90.00C76.13 88.33 75.55 86.67 75.30 85.00C75.05 83.33 75.22 81.83 75.80 80.00C76.38 78.17 77.47 76.17 78.80 74.00C80.13 71.83 81.97 69.42 83.80 67.00C85.63 64.58 87.63 62.00 89.80 59.50C91.97 57.00 94.30 54.33 96.80 52.00C99.30 49.67 101.80 47.33 104.80 45.50C107.80 43.67 111.37 41.95 114.80 41.00C118.23 40.05 121.87 39.80 125.40 39.80C128.93 39.80 132.57 40.05 136.00 41.00C139.43 41.95 143.00 43.67 146.00 45.50C149.00 47.33 151.50 49.67 154.00 52.00C156.50 54.33 158.83 57.00 161.00 59.50C163.17 62.00 165.17 64.58 167.00 67.00C168.83 69.42 170.67 71.83 172.00 74.00C173.33 76.17 174.42 78.17 175.00 80.00C175.58 81.83 175.75 83.33 175.50 85.00C175.25 86.67 174.67 88.33 173.50 90.00C172.33 91.67 170.22 93.25 168.50 95.00C166.78 96.75 164.08 99.58 163.20 100.50" stroke="#3f2db3"/>
<path class="ct" d="M168.30 100.60C168.75 100.27 169.97 99.13 171.00 98.60C172.03 98.07 173.33 97.65 174.50 97.40C175.67 97.15 176.83 97.05 178.00 97.10C179.17 97.15 180.33 97.12 181.50 97.70C182.67 98.28 184.42 100.12 185.00 100.60" stroke="#3f2db3"/>
<path class="ct" d="M65.80 100.60C66.38 100.12 68.13 98.28 69.30 97.70C70.47 97.12 71.63 97.15 72.80 97.10C73.97 97.05 75.13 97.15 76.30 97.40C77.47 97.65 78.77 98.07 79.80 98.60C80.83 99.13 82.05 100.27 82.50 100.60" stroke="#3f2db3"/>
<path class="ct" d="M48.20 101.00C48.58 99.83 49.60 96.50 50.50 94.00C51.40 91.50 52.55 88.63 53.60 86.00C54.65 83.37 55.52 80.98 56.80 78.20C58.08 75.42 59.47 72.50 61.30 69.30C63.13 66.10 65.47 62.38 67.80 59.00C70.13 55.62 72.55 52.17 75.30 49.00C78.05 45.83 81.05 42.83 84.30 40.00C87.55 37.17 91.55 34.17 94.80 32.00C98.05 29.83 100.63 28.33 103.80 27.00C106.97 25.67 110.20 24.80 113.80 24.00C117.40 23.20 121.53 22.20 125.40 22.20C129.27 22.20 133.40 23.20 137.00 24.00C140.60 24.80 143.83 25.67 147.00 27.00C150.17 28.33 152.75 29.83 156.00 32.00C159.25 34.17 163.25 37.17 166.50 40.00C169.75 42.83 172.75 45.83 175.50 49.00C178.25 52.17 180.67 55.62 183.00 59.00C185.33 62.38 187.67 66.10 189.50 69.30C191.33 72.50 192.72 75.42 194.00 78.20C195.28 80.98 196.15 83.37 197.20 86.00C198.25 88.63 199.40 91.50 200.30 94.00C201.20 96.50 202.22 99.83 202.60 101.00" stroke="#4136c3"/>
</g>
<text class="clh" transform="translate(147.00 80.60) rotate(52.0)" text-anchor="middle" dy="2.05">20</text><text class="cc" transform="translate(147.00 80.60) rotate(52.0)" text-anchor="middle" dy="2.05">20</text>
<text class="clh" transform="translate(106.80 45.20) rotate(-27.0)" text-anchor="middle" dy="2.05">40</text><text class="cc" transform="translate(106.80 45.20) rotate(-27.0)" text-anchor="middle" dy="2.05">40</text>
<text class="clh" transform="translate(174.80 82.80) rotate(84.0)" text-anchor="middle" dy="2.05">40</text><text class="cc" transform="translate(174.80 82.80) rotate(84.0)" text-anchor="middle" dy="2.05">40</text>
<text class="clh" transform="translate(137.00 24.20) rotate(12.0)" text-anchor="middle" dy="2.05">60</text><text class="cc" transform="translate(137.00 24.20) rotate(12.0)" text-anchor="middle" dy="2.05">60</text>
<text class="clh" transform="translate(65.20 64.80) rotate(-62.0)" text-anchor="middle" dy="2.05">60</text><text class="cc" transform="translate(65.20 64.80) rotate(-62.0)" text-anchor="middle" dy="2.05">60</text>
<text class="clh" transform="translate(196.40 85.80) rotate(74.0)" text-anchor="middle" dy="2.05">60</text><text class="cc" transform="translate(196.40 85.80) rotate(74.0)" text-anchor="middle" dy="2.05">60</text>
<text class="clh" transform="translate(76.80 32.00) rotate(-50.0)" text-anchor="middle" dy="2.05">80</text><text class="cc" transform="translate(76.80 32.00) rotate(-50.0)" text-anchor="middle" dy="2.05">80</text>
<text class="clh" transform="translate(66.60 35.00) rotate(-56.0)" text-anchor="middle" dy="2.05">100</text><text class="cc" transform="translate(66.60 35.00) rotate(-56.0)" text-anchor="middle" dy="2.05">100</text>
<text class="cmh" transform="translate(63.20 36.80) rotate(-66.0)" text-anchor="middle" dy="2.05">120</text><text class="cc" transform="translate(63.20 36.80) rotate(-66.0)" text-anchor="middle" dy="2.05">120</text>
<text class="cmh" transform="translate(60.75 37.70) rotate(-66.6)" text-anchor="middle" dy="2.05">140</text><text class="cc" transform="translate(60.75 37.70) rotate(-66.6)" text-anchor="middle" dy="2.05">140</text>
<text class="cmh" transform="translate(58.30 36.80) rotate(-67.2)" text-anchor="middle" dy="2.05">160</text><text class="cc" transform="translate(58.30 36.80) rotate(-67.2)" text-anchor="middle" dy="2.05">160</text>
<text class="cmh" transform="translate(55.85 37.70) rotate(-67.8)" text-anchor="middle" dy="2.05">180</text><text class="cc" transform="translate(55.85 37.70) rotate(-67.8)" text-anchor="middle" dy="2.05">180</text>
<text class="cmh" transform="translate(53.40 36.80) rotate(-68.5)" text-anchor="middle" dy="2.05">200</text><text class="cc" transform="translate(53.40 36.80) rotate(-68.5)" text-anchor="middle" dy="2.05">200</text>
<text class="cmh" transform="translate(50.95 37.70) rotate(-69.1)" text-anchor="middle" dy="2.05">220</text><text class="cc" transform="translate(50.95 37.70) rotate(-69.1)" text-anchor="middle" dy="2.05">220</text>
<text class="cmh" transform="translate(48.50 36.80) rotate(-69.7)" text-anchor="middle" dy="2.05">240</text><text class="cc" transform="translate(48.50 36.80) rotate(-69.7)" text-anchor="middle" dy="2.05">240</text>
<text class="cmh" transform="translate(46.05 37.70) rotate(-70.3)" text-anchor="middle" dy="2.05">260</text><text class="cc" transform="translate(46.05 37.70) rotate(-70.3)" text-anchor="middle" dy="2.05">260</text>
<text class="cmh" transform="translate(43.60 36.80) rotate(-70.9)" text-anchor="middle" dy="2.05">280</text><text class="cc" transform="translate(43.60 36.80) rotate(-70.9)" text-anchor="middle" dy="2.05">280</text>
<text class="cmh" transform="translate(41.15 37.70) rotate(-71.5)" text-anchor="middle" dy="2.05">300</text><text class="cc" transform="translate(41.15 37.70) rotate(-71.5)" text-anchor="middle" dy="2.05">300</text>
<text class="cmh" transform="translate(38.70 36.80) rotate(-72.1)" text-anchor="middle" dy="2.05">320</text><text class="cc" transform="translate(38.70 36.80) rotate(-72.1)" text-anchor="middle" dy="2.05">320</text>
<text class="cmh" transform="translate(36.25 37.70) rotate(-72.7)" text-anchor="middle" dy="2.05">340</text><text class="cc" transform="translate(36.25 37.70) rotate(-72.7)" text-anchor="middle" dy="2.05">340</text>
<text class="cmh" transform="translate(33.80 36.80) rotate(-73.4)" text-anchor="middle" dy="2.05">360</text><text class="cc" transform="translate(33.80 36.80) rotate(-73.4)" text-anchor="middle" dy="2.05">360</text>
<text class="cmh" transform="translate(31.30 29.50) rotate(-70.0)" text-anchor="middle" dy="2.05">360</text><text class="cc" transform="translate(31.30 29.50) rotate(-70.0)" text-anchor="middle" dy="2.05">360</text>
<text class="cmh" transform="translate(33.40 25.00) rotate(-68.0)" text-anchor="middle" dy="2.05">380</text><text class="cc" transform="translate(33.40 25.00) rotate(-68.0)" text-anchor="middle" dy="2.05">380</text>
<text class="cmh" transform="translate(29.20 78.00) rotate(-85.0)" text-anchor="middle" dy="2.05">320</text><text class="cc" transform="translate(29.20 78.00) rotate(-85.0)" text-anchor="middle" dy="2.05">320</text>
<text class="cmh" transform="translate(29.60 83.50) rotate(-80.0)" text-anchor="middle" dy="2.05">340</text><text class="cc" transform="translate(29.60 83.50) rotate(-80.0)" text-anchor="middle" dy="2.05">340</text>
<text class="cmh" transform="translate(30.40 88.00) rotate(-74.0)" text-anchor="middle" dy="2.05">360</text><text class="cc" transform="translate(30.40 88.00) rotate(-74.0)" text-anchor="middle" dy="2.05">360</text>
<text class="cmh" transform="translate(198.00 77.00) rotate(80.0)" text-anchor="middle" dy="2.05">80</text><text class="cc" transform="translate(198.00 77.00) rotate(80.0)" text-anchor="middle" dy="2.05">80</text>
<text class="cmh" transform="translate(199.90 78.20) rotate(80.7)" text-anchor="middle" dy="2.05">100</text><text class="cc" transform="translate(199.90 78.20) rotate(80.7)" text-anchor="middle" dy="2.05">100</text>
<text class="cmh" transform="translate(201.80 77.00) rotate(81.3)" text-anchor="middle" dy="2.05">120</text><text class="cc" transform="translate(201.80 77.00) rotate(81.3)" text-anchor="middle" dy="2.05">120</text>
<text class="cmh" transform="translate(203.70 78.20) rotate(82.0)" text-anchor="middle" dy="2.05">140</text><text class="cc" transform="translate(203.70 78.20) rotate(82.0)" text-anchor="middle" dy="2.05">140</text>
<text class="cmh" transform="translate(205.60 77.00) rotate(82.7)" text-anchor="middle" dy="2.05">160</text><text class="cc" transform="translate(205.60 77.00) rotate(82.7)" text-anchor="middle" dy="2.05">160</text>
<text class="cmh" transform="translate(207.50 78.20) rotate(83.3)" text-anchor="middle" dy="2.05">180</text><text class="cc" transform="translate(207.50 78.20) rotate(83.3)" text-anchor="middle" dy="2.05">180</text>
<text class="cmh" transform="translate(209.40 77.00) rotate(84.0)" text-anchor="middle" dy="2.05">200</text><text class="cc" transform="translate(209.40 77.00) rotate(84.0)" text-anchor="middle" dy="2.05">200</text>
<text class="cmh" transform="translate(211.30 78.20) rotate(84.7)" text-anchor="middle" dy="2.05">220</text><text class="cc" transform="translate(211.30 78.20) rotate(84.7)" text-anchor="middle" dy="2.05">220</text>
<text class="cmh" transform="translate(213.20 77.00) rotate(85.3)" text-anchor="middle" dy="2.05">240</text><text class="cc" transform="translate(213.20 77.00) rotate(85.3)" text-anchor="middle" dy="2.05">240</text>
<text class="cmh" transform="translate(215.10 78.20) rotate(86.0)" text-anchor="middle" dy="2.05">260</text><text class="cc" transform="translate(215.10 78.20) rotate(86.0)" text-anchor="middle" dy="2.05">260</text>
<text class="cmh" transform="translate(217.00 77.00) rotate(86.7)" text-anchor="middle" dy="2.05">280</text><text class="cc" transform="translate(217.00 77.00) rotate(86.7)" text-anchor="middle" dy="2.05">280</text>
<text class="cmh" transform="translate(218.90 78.20) rotate(87.3)" text-anchor="middle" dy="2.05">300</text><text class="cc" transform="translate(218.90 78.20) rotate(87.3)" text-anchor="middle" dy="2.05">300</text>
<text class="cmh" transform="translate(220.80 77.00) rotate(88.0)" text-anchor="middle" dy="2.05">320</text><text class="cc" transform="translate(220.80 77.00) rotate(88.0)" text-anchor="middle" dy="2.05">320</text>
<text class="cmh" transform="translate(222.70 78.20) rotate(88.6)" text-anchor="middle" dy="2.05">340</text><text class="cc" transform="translate(222.70 78.20) rotate(88.6)" text-anchor="middle" dy="2.05">340</text>
<text class="cmh" transform="translate(224.60 77.00) rotate(89.3)" text-anchor="middle" dy="2.05">360</text><text class="cc" transform="translate(224.60 77.00) rotate(89.3)" text-anchor="middle" dy="2.05">360</text>
<text class="cmh" transform="translate(226.50 78.20) rotate(90.0)" text-anchor="middle" dy="2.05">380</text><text class="cc" transform="translate(226.50 78.20) rotate(90.0)" text-anchor="middle" dy="2.05">380</text>
<text class="cmh" transform="translate(223.60 86.00) rotate(-62.0)" text-anchor="middle" dy="2.05">400</text><text class="cc" transform="translate(223.60 86.00) rotate(-62.0)" text-anchor="middle" dy="2.05">400</text>
<text class="cmh" transform="translate(222.85 87.70) rotate(-62.0)" text-anchor="middle" dy="2.05">420</text><text class="cc" transform="translate(222.85 87.70) rotate(-62.0)" text-anchor="middle" dy="2.05">420</text>
<text class="cmh" transform="translate(222.10 89.40) rotate(-62.0)" text-anchor="middle" dy="2.05">440</text><text class="cc" transform="translate(222.10 89.40) rotate(-62.0)" text-anchor="middle" dy="2.05">440</text>
<text class="cmh" transform="translate(221.35 91.10) rotate(-62.0)" text-anchor="middle" dy="2.05">460</text><text class="cc" transform="translate(221.35 91.10) rotate(-62.0)" text-anchor="middle" dy="2.05">460</text>
<text class="cmh" transform="translate(220.60 92.80) rotate(-62.0)" text-anchor="middle" dy="2.05">480</text><text class="cc" transform="translate(220.60 92.80) rotate(-62.0)" text-anchor="middle" dy="2.05">480</text>
<text class="cmh" transform="translate(219.85 94.50) rotate(-62.0)" text-anchor="middle" dy="2.05">500</text><text class="cc" transform="translate(219.85 94.50) rotate(-62.0)" text-anchor="middle" dy="2.05">500</text>
<text class="clh" transform="translate(225.60 34.20) rotate(80.0)" text-anchor="middle" dy="2.05">380</text><text class="cc" transform="translate(225.60 34.20) rotate(80.0)" text-anchor="middle" dy="2.05">380</text>
<rect class="ax" x="26.40" y="16.50" width="203.20" height="154.10"/>
<path class="ax" d="M47.24 170.60v-2.0M47.24 16.50v2.0M73.29 170.60v-2.0M73.29 16.50v2.0M99.34 170.60v-2.0M99.34 16.50v2.0M125.39 170.60v-2.0M125.39 16.50v2.0M151.45 170.60v-2.0M151.45 16.50v2.0M177.50 170.60v-2.0M177.50 16.50v2.0M203.55 170.60v-2.0M203.55 16.50v2.0M229.60 170.60v-2.0M229.60 16.50v2.0M26.40 170.60h2.0M229.60 170.60h-2.0M26.40 138.50h2.0M229.60 138.50h-2.0M26.40 106.39h2.0M229.60 106.39h-2.0M26.40 74.29h2.0M229.60 74.29h-2.0M26.40 42.18h2.0M229.60 42.18h-2.0"/>
<text class="tk" x="47.24" y="182.40" text-anchor="middle">1</text>
<text class="tk" x="73.29" y="182.40" text-anchor="middle">2</text>
<text class="tk" x="99.34" y="182.40" text-anchor="middle">3</text>
<text class="tk" x="125.39" y="182.40" text-anchor="middle">4</text>
<text class="tk" x="151.45" y="182.40" text-anchor="middle">5</text>
<text class="tk" x="177.50" y="182.40" text-anchor="middle">6</text>
<text class="tk" x="203.55" y="182.40" text-anchor="middle">7</text>
<text class="tk" x="229.60" y="182.40" text-anchor="middle">8</text>
<text class="tk" x="23.40" y="173.80" text-anchor="end">0</text>
<text class="tk" x="23.40" y="141.70" text-anchor="end">1</text>
<text class="tk" x="23.40" y="109.59" text-anchor="end">2</text>
<text class="tk" x="23.40" y="77.49" text-anchor="end">3</text>
<text class="tk" x="23.40" y="45.38" text-anchor="end">4</text>
<text class="tk" x="128.00" y="194.70" text-anchor="middle" style="font-size:10px">X/m</text>
<text class="tk" transform="translate(14.50 93.85) rotate(-90)" text-anchor="middle" style="font-size:10px">Y/m</text>
<text class="tk" x="229.20" y="196.80" text-anchor="end" style="font-size:9.4px"><tspan style="font-size:10.5px" dy="0.6">×</tspan><tspan dx="1.2" dy="-0.6">10</tspan><tspan dy="-4.0" dx="0.1" style="font-size:7.6px">5</tspan></text>
<text class="tk" x="27.30" y="14.50" style="font-size:9.4px"><tspan style="font-size:10.5px" dy="0.6">×</tspan><tspan dx="1.2" dy="-0.6">10</tspan><tspan dy="-4.0" dx="0.1" style="font-size:7.6px">5</tspan></text>
<path d="M42.64 109.27L51.84 109.27L47.24 101.27Z" fill="#000"/>
<path d="M120.79 109.27L129.99 109.27L125.39 101.27Z" fill="#000"/>
<path d="M198.95 109.27L208.15 109.27L203.55 101.27Z" fill="#000"/>
<circle cx="94.13" cy="106.39" r="3.9" fill="#000"/>
<circle cx="156.66" cy="106.39" r="3.9" fill="#000"/>
<rect x="155.70" y="141.30" width="71.6" height="27.2" fill="#fff" stroke="#262626" stroke-width="0.6" stroke-opacity=".62"/>
<path d="M159.70 151.69L169.70 151.69L164.70 143.39Z" fill="#000"/>
<circle cx="164.60" cy="160.80" r="4.0" fill="#000"/>
<text class="lg" x="173.30" y="152.30">Transmitter</text>
<text class="lg" x="173.30" y="164.90">Receiver</text>
<text class="cap" x="135.10" y="216.60" text-anchor="middle">(<tspan font-weight="bold">a</tspan>)</text>
</g>
<g id="panel-b">
<clipPath id="clip-b"><rect x="335.30" y="16.50" width="203.20" height="83.47"/></clipPath>
<g clip-path="url(#clip-b)">
<path d="M378.00 16.50L368.88 20.76L359.86 26.28L352.60 32.42L347.14 38.98L343.19 45.88L340.41 53.06L338.49 60.49L337.19 68.14L336.32 75.98L335.75 83.99L335.38 92.17L335.14 100.50L335.03 88.50L335.36 81.36L335.84 74.35L336.55 67.48L337.56 60.76L339.00 54.21L341.03 47.84L343.83 41.68L347.63 35.77L352.64 30.14L359.04 24.89L366.70 20.15L374.20 16.50Z" fill="#1fb9c0" fill-opacity="0.07"/>
<path d="M374.20 16.50L366.70 20.15L359.04 24.89L352.64 30.14L347.63 35.77L343.83 41.68L341.03 47.84L339.00 54.21L337.56 60.76L336.55 67.48L335.84 74.35L335.36 81.36L335.03 88.50L334.89 78.50L335.31 72.35L335.90 66.32L336.71 60.40L337.84 54.61L339.38 48.97L341.45 43.49L344.20 38.18L347.78 33.09L352.34 28.25L357.95 23.72L364.47 19.64L370.67 16.50Z" fill="#2ac0ad" fill-opacity="0.07"/>
<path d="M370.67 16.50L364.47 19.64L357.95 23.72L352.34 28.25L347.78 33.09L344.20 38.18L341.45 43.49L339.38 48.97L337.84 54.61L336.71 60.40L335.90 66.32L335.31 72.35L334.89 78.50L334.75 71.00L335.24 65.60L335.89 60.29L336.78 55.09L337.95 50.00L339.51 45.04L341.55 40.22L344.18 35.56L347.50 31.08L351.62 26.83L356.56 22.85L362.16 19.26L367.38 16.50Z" fill="#35c79a" fill-opacity="0.07"/>
<path d="M367.38 16.50L362.16 19.26L356.56 22.85L351.62 26.83L347.50 31.08L344.18 35.56L341.55 40.22L339.51 45.04L337.95 50.00L336.78 55.09L335.89 60.29L335.24 65.60L334.75 71.00L334.54 63.50L335.11 58.84L335.84 54.26L336.80 49.78L338.04 45.39L339.63 41.11L341.63 36.96L344.13 32.94L347.20 29.08L350.90 25.40L355.21 21.97L359.97 18.88L364.32 16.50Z" fill="#55c87e" fill-opacity="0.07"/>
<path d="M364.32 16.50L359.97 18.88L355.21 21.97L350.90 25.40L347.20 29.08L344.13 32.94L341.63 36.96L339.63 41.11L338.04 45.39L336.80 49.78L335.84 54.26L335.11 58.84L334.54 63.50L334.36 58.17L334.97 54.04L335.74 49.98L336.72 46.00L337.96 42.11L339.50 38.32L341.42 34.64L343.75 31.07L346.56 27.65L349.87 24.39L353.66 21.35L357.77 18.61L361.48 16.50Z" fill="#79c762" fill-opacity="0.07"/>
<path d="M361.48 16.50L357.77 18.61L353.66 21.35L349.87 24.39L346.56 27.65L343.75 31.07L341.42 34.64L339.50 38.32L337.96 42.11L336.72 46.00L335.74 49.98L334.97 54.04L334.36 58.17L334.12 52.83L334.77 49.23L335.58 45.69L336.59 42.23L337.83 38.84L339.34 35.53L341.16 32.32L343.34 29.21L345.90 26.22L348.85 23.38L352.17 20.73L355.70 18.34L358.84 16.50Z" fill="#9cc745" fill-opacity="0.07"/>
<path d="M358.84 16.50L355.70 18.34L352.17 20.73L348.85 23.38L345.90 26.22L343.34 29.21L341.16 32.32L339.34 35.53L337.83 38.84L336.59 42.23L335.58 45.69L334.77 49.23L334.12 52.83L333.75 47.50L334.46 44.43L335.33 41.41L336.37 38.45L337.62 35.56L339.10 32.74L340.84 29.99L342.87 27.34L345.20 24.79L347.83 22.37L350.72 20.11L353.74 18.07L356.38 16.50Z" fill="#bac639" fill-opacity="0.07"/>
<path d="M356.38 16.50L353.74 18.07L350.72 20.11L347.83 22.37L345.20 24.79L342.87 27.34L340.84 29.99L339.10 32.74L337.62 35.56L336.37 38.45L335.33 41.41L334.46 44.43L333.75 47.50L333.45 43.67L334.18 40.97L335.05 38.33L336.09 35.74L337.30 33.20L338.71 30.73L340.34 28.32L342.21 26.00L344.33 23.77L346.68 21.65L349.22 19.66L351.83 17.88L354.09 16.50Z" fill="#d3c538" fill-opacity="0.07"/>
<path d="M354.09 16.50L351.83 17.88L349.22 19.66L346.68 21.65L344.33 23.77L342.21 26.00L340.34 28.32L338.71 30.73L337.30 33.20L336.09 35.74L335.05 38.33L334.18 40.97L333.45 43.67L333.01 39.83L333.77 37.52L334.66 35.25L335.70 33.02L336.88 30.84L338.24 28.72L339.78 26.66L341.51 24.66L343.43 22.74L345.53 20.92L347.76 19.22L350.03 17.68L351.97 16.50Z" fill="#ecc438" fill-opacity="0.07"/>
<path d="M351.97 16.50L350.03 17.68L347.76 19.22L345.53 20.92L343.43 22.74L341.51 24.66L339.78 26.66L338.24 28.72L336.88 30.84L335.70 33.02L334.66 35.25L333.77 37.52L333.01 39.83L332.32 36.00L333.14 34.07L334.06 32.17L335.11 30.31L336.29 28.49L337.62 26.71L339.09 24.99L340.71 23.32L342.47 21.72L344.36 20.19L346.34 18.77L348.32 17.49L349.99 16.50Z" fill="#fec835" fill-opacity="0.07"/>
<path d="M349.99 16.50L348.32 17.49L346.34 18.77L344.36 20.19L342.47 21.72L340.71 23.32L339.09 24.99L337.62 26.71L336.29 28.49L335.11 30.31L334.06 32.17L333.14 34.07L332.32 36.00L331.75 33.33L332.57 31.66L333.49 30.03L334.52 28.42L335.67 26.85L336.93 25.32L338.32 23.83L339.82 22.39L341.44 21.00L343.16 19.69L344.93 18.46L346.69 17.35L348.15 16.50Z" fill="#fdd42d" fill-opacity="0.07"/>
<path d="M348.15 16.50L346.69 17.35L344.93 18.46L343.16 19.69L341.44 21.00L339.82 22.39L338.32 23.83L336.93 25.32L335.67 26.85L334.52 28.42L333.49 30.03L332.57 31.66L331.75 33.33L330.81 30.67L331.67 29.26L332.61 27.88L333.66 26.53L334.80 25.21L336.03 23.92L337.37 22.67L338.81 21.45L340.33 20.29L341.92 19.18L343.54 18.15L345.13 17.22L346.44 16.50Z" fill="#fdd42d" fill-opacity="0.07"/>
<path d="M346.44 16.50L345.13 17.22L343.54 18.15L341.92 19.18L340.33 20.29L338.81 21.45L337.37 22.67L336.03 23.92L334.80 25.21L333.66 26.53L332.61 27.88L331.67 29.26L330.81 30.67L328.97 28.00L329.93 26.86L330.98 25.74L332.10 24.64L333.31 23.57L334.61 22.52L335.98 21.51L337.44 20.52L338.95 19.58L340.51 18.68L342.09 17.84L343.61 17.08L344.85 16.50Z" fill="#fdd42d" fill-opacity="0.07"/>
<path d="M344.85 16.50L343.61 17.08L342.09 17.84L340.51 18.68L338.95 19.58L337.44 20.52L335.98 21.51L334.61 22.52L333.31 23.57L332.10 24.64L330.98 25.74L329.93 26.86L328.97 28.00L328.36 26.88L329.29 25.85L330.30 24.84L331.39 23.85L332.55 22.88L333.78 21.93L335.09 21.02L336.46 20.13L337.88 19.28L339.34 18.47L340.81 17.71L342.22 17.03L343.37 16.50Z" fill="#fdd42d" fill-opacity="0.07"/>
<path d="M343.37 16.50L342.22 17.03L340.81 17.71L339.34 18.47L337.88 19.28L336.46 20.13L335.09 21.02L333.78 21.93L332.55 22.88L331.39 23.85L330.30 24.84L329.29 25.85L328.36 26.88L327.27 25.75L328.22 24.83L329.24 23.93L330.33 23.05L331.48 22.19L332.70 21.34L333.99 20.53L335.33 19.74L336.71 18.98L338.13 18.25L339.54 17.58L340.89 16.97L341.99 16.50Z" fill="#fdd42d" fill-opacity="0.07"/>
<path d="M341.99 16.50L340.89 16.97L339.54 17.58L338.13 18.25L336.71 18.98L335.33 19.74L333.99 20.53L332.70 21.34L331.48 22.19L330.33 23.05L329.24 23.93L328.22 24.83L327.27 25.75L324.99 24.62L326.04 23.82L327.16 23.03L328.34 22.25L329.60 21.49L330.91 20.76L332.29 20.04L333.72 19.34L335.19 18.67L336.68 18.04L338.16 17.45L339.57 16.91L340.71 16.50Z" fill="#fdd42d" fill-opacity="0.07"/>
<path d="M340.71 16.50L339.57 16.91L338.16 17.45L336.68 18.04L335.19 18.67L333.72 19.34L332.29 20.04L330.91 20.76L329.60 21.49L328.34 22.25L327.16 23.03L326.04 23.82L324.99 24.62L317.49 23.50L319.02 22.81L320.64 22.12L322.34 21.46L324.13 20.80L325.99 20.17L327.93 19.55L329.92 18.95L331.96 18.37L334.02 17.83L336.05 17.32L337.97 16.85L339.52 16.50Z" fill="#fdd42d" fill-opacity="0.07"/>
<path d="M339.52 16.50L337.97 16.85L336.05 17.32L334.02 17.83L331.96 18.37L329.92 18.95L327.93 19.55L325.99 20.17L324.13 20.80L322.34 21.46L320.64 22.12L319.02 22.81L317.49 23.50L322.40 23.50L323.49 22.81L324.65 22.12L325.87 21.46L327.15 20.80L328.50 20.17L329.91 19.55L331.36 18.95L332.85 18.37L334.36 17.83L335.85 17.32L337.27 16.85L338.42 16.50Z" fill="#fdd42d" fill-opacity="0.07"/>
<path d="M338.42 16.50L337.27 16.85L335.85 17.32L334.36 17.83L332.85 18.37L331.36 18.95L329.91 19.55L328.50 20.17L327.15 20.80L325.87 21.46L324.65 22.12L323.49 22.81L322.40 23.50L327.12 23.50L327.80 22.81L328.52 22.12L329.29 21.46L330.10 20.80L330.95 20.17L331.84 19.55L332.77 18.95L333.72 18.37L334.69 17.83L335.65 17.32L336.57 16.85L337.32 16.50Z" fill="#fdd42d" fill-opacity="0.07"/>
<path d="M337.32 16.50L336.57 16.85L335.65 17.32L334.69 17.83L333.72 18.37L332.77 18.95L331.84 19.55L330.95 20.17L330.10 20.80L329.29 21.46L328.52 22.12L327.80 22.81L327.12 23.50L331.67 23.50L331.96 22.81L332.28 22.12L332.61 21.46L332.97 20.80L333.35 20.17L333.75 19.55L334.16 18.95L334.59 18.37L335.02 17.83L335.46 17.32L335.88 16.85L336.22 16.50Z" fill="#fdd42d" fill-opacity="0.07"/>
<path d="M336.22 16.50L335.88 16.85L335.46 17.32L335.02 17.83L334.59 18.37L334.16 18.95L333.75 19.55L333.35 20.17L332.97 20.80L332.61 21.46L332.28 22.12L331.96 22.81L331.67 23.50L332.30 23.50L332.30 16.50Z" fill="#fdd42d" fill-opacity="0.10"/>
<path class="ct" d="M378.00 16.50C376.48 17.21 371.91 19.13 368.88 20.76C365.86 22.39 362.57 24.34 359.86 26.28C357.14 28.23 354.72 30.30 352.60 32.42C350.49 34.53 348.71 36.73 347.14 38.98C345.58 41.22 344.31 43.53 343.19 45.88C342.07 48.23 341.19 50.63 340.41 53.06C339.62 55.50 339.02 57.98 338.49 60.49C337.95 63.01 337.55 65.56 337.19 68.14C336.83 70.72 336.56 73.33 336.32 75.98C336.08 78.62 335.91 81.29 335.75 83.99C335.59 86.69 335.48 89.42 335.38 92.17C335.28 94.92 335.18 99.11 335.14 100.50" stroke="#1fb9c0"/>
<path class="ct" d="M374.20 16.50C372.95 17.11 369.23 18.75 366.70 20.15C364.18 21.55 361.38 23.22 359.04 24.89C356.70 26.55 354.55 28.33 352.64 30.14C350.74 31.95 349.09 33.84 347.63 35.77C346.16 37.69 344.93 39.67 343.83 41.68C342.73 43.69 341.83 45.75 341.03 47.84C340.22 49.93 339.58 52.05 339.00 54.21C338.42 56.36 337.97 58.55 337.56 60.76C337.15 62.97 336.83 65.22 336.55 67.48C336.26 69.75 336.04 72.04 335.84 74.35C335.65 76.66 335.50 79.00 335.36 81.36C335.23 83.72 335.09 87.31 335.03 88.50" stroke="#2ac0ad" stroke-opacity="0.72"/>
<path class="ct" d="M370.67 16.50C369.63 17.02 366.58 18.44 364.47 19.64C362.35 20.85 359.98 22.29 357.95 23.72C355.93 25.16 354.04 26.69 352.34 28.25C350.65 29.81 349.14 31.43 347.78 33.09C346.42 34.75 345.25 36.45 344.20 38.18C343.14 39.92 342.25 41.69 341.45 43.49C340.64 45.28 339.98 47.12 339.38 48.97C338.77 50.83 338.28 52.71 337.84 54.61C337.40 56.52 337.04 58.45 336.71 60.40C336.39 62.35 336.13 64.32 335.90 66.32C335.66 68.31 335.48 70.32 335.31 72.35C335.14 74.38 334.96 77.48 334.89 78.50" stroke="#35c79a" stroke-opacity="0.68"/>
<path class="ct" d="M367.38 16.50C366.51 16.96 363.96 18.21 362.16 19.26C360.35 20.32 358.32 21.59 356.56 22.85C354.81 24.11 353.13 25.45 351.62 26.83C350.11 28.20 348.74 29.63 347.50 31.08C346.26 32.54 345.17 34.04 344.18 35.56C343.19 37.08 342.33 38.64 341.55 40.22C340.77 41.80 340.11 43.41 339.51 45.04C338.91 46.67 338.41 48.33 337.95 50.00C337.50 51.68 337.12 53.38 336.78 55.09C336.43 56.80 336.15 58.54 335.89 60.29C335.64 62.04 335.43 63.81 335.24 65.60C335.05 67.38 334.83 70.10 334.75 71.00" stroke="#55c87e" stroke-opacity="0.64"/>
<path class="ct" d="M364.32 16.50C363.60 16.90 361.49 17.97 359.97 18.88C358.45 19.80 356.72 20.89 355.21 21.97C353.70 23.06 352.23 24.22 350.90 25.40C349.57 26.59 348.33 27.82 347.20 29.08C346.08 30.33 345.06 31.62 344.13 32.94C343.20 34.25 342.38 35.60 341.63 36.96C340.88 38.32 340.23 39.71 339.63 41.11C339.03 42.52 338.51 43.95 338.04 45.39C337.57 46.84 337.17 48.30 336.80 49.78C336.44 51.26 336.13 52.75 335.84 54.26C335.56 55.77 335.32 57.30 335.11 58.84C334.89 60.38 334.64 62.72 334.54 63.50" stroke="#79c762" stroke-opacity="0.60"/>
<path class="ct" d="M361.48 16.50C360.86 16.85 359.08 17.80 357.77 18.61C356.47 19.42 354.98 20.39 353.66 21.35C352.34 22.32 351.05 23.34 349.87 24.39C348.69 25.44 347.58 26.54 346.56 27.65C345.54 28.76 344.61 29.91 343.75 31.07C342.89 32.24 342.12 33.43 341.42 34.64C340.71 35.84 340.08 37.08 339.50 38.32C338.93 39.57 338.42 40.83 337.96 42.11C337.50 43.39 337.09 44.69 336.72 46.00C336.35 47.31 336.03 48.64 335.74 49.98C335.45 51.32 335.20 52.67 334.97 54.04C334.74 55.40 334.47 57.48 334.36 58.17" stroke="#9cc745" stroke-opacity="0.56"/>
<path class="ct" d="M358.84 16.50C358.31 16.81 356.81 17.64 355.70 18.34C354.59 19.05 353.31 19.89 352.17 20.73C351.03 21.57 349.90 22.47 348.85 23.38C347.81 24.30 346.82 25.25 345.90 26.22C344.98 27.19 344.13 28.19 343.34 29.21C342.55 30.22 341.83 31.26 341.16 32.32C340.49 33.37 339.89 34.44 339.34 35.53C338.78 36.62 338.29 37.72 337.83 38.84C337.37 39.95 336.97 41.08 336.59 42.23C336.22 43.37 335.89 44.53 335.58 45.69C335.28 46.86 335.01 48.04 334.77 49.23C334.53 50.42 334.23 52.23 334.12 52.83" stroke="#bac639" stroke-opacity="0.52"/>
<path class="ct" d="M356.38 16.50C355.94 16.76 354.69 17.47 353.74 18.07C352.80 18.67 351.71 19.39 350.72 20.11C349.74 20.83 348.75 21.59 347.83 22.37C346.91 23.15 346.03 23.97 345.20 24.79C344.38 25.62 343.60 26.48 342.87 27.34C342.14 28.21 341.47 29.09 340.84 29.99C340.21 30.89 339.64 31.81 339.10 32.74C338.56 33.66 338.07 34.60 337.62 35.56C337.16 36.51 336.75 37.47 336.37 38.45C335.99 39.43 335.65 40.41 335.33 41.41C335.01 42.40 334.73 43.41 334.46 44.43C334.20 45.44 333.87 46.99 333.75 47.50" stroke="#d3c538" stroke-opacity="0.49"/>
<path class="ct" d="M354.09 16.50C353.72 16.73 352.65 17.35 351.83 17.88C351.02 18.40 350.07 19.04 349.22 19.66C348.36 20.29 347.49 20.96 346.68 21.65C345.86 22.33 345.07 23.04 344.33 23.77C343.58 24.49 342.88 25.24 342.21 26.00C341.55 26.76 340.93 27.54 340.34 28.32C339.76 29.11 339.22 29.92 338.71 30.73C338.20 31.54 337.73 32.37 337.30 33.20C336.86 34.04 336.46 34.88 336.09 35.74C335.71 36.59 335.37 37.46 335.05 38.33C334.74 39.20 334.45 40.08 334.18 40.97C333.91 41.86 333.57 43.22 333.45 43.67" stroke="#ecc438" stroke-opacity="0.45"/>
<path class="ct" d="M351.97 16.50C351.64 16.70 350.73 17.23 350.03 17.68C349.33 18.14 348.51 18.68 347.76 19.22C347.01 19.76 346.25 20.33 345.53 20.92C344.81 21.51 344.10 22.12 343.43 22.74C342.76 23.37 342.12 24.01 341.51 24.66C340.90 25.31 340.32 25.98 339.78 26.66C339.23 27.33 338.72 28.02 338.24 28.72C337.76 29.42 337.31 30.13 336.88 30.84C336.46 31.56 336.07 32.29 335.70 33.02C335.33 33.76 334.99 34.50 334.66 35.25C334.34 36.00 334.05 36.76 333.77 37.52C333.50 38.28 333.14 39.45 333.01 39.83" stroke="#fec835" stroke-opacity="0.41"/>
<path class="ct" d="M349.99 16.50C349.71 16.66 348.93 17.11 348.32 17.49C347.72 17.87 347.00 18.32 346.34 18.77C345.68 19.22 345.01 19.70 344.36 20.19C343.72 20.69 343.08 21.20 342.47 21.72C341.86 22.24 341.27 22.77 340.71 23.32C340.14 23.86 339.60 24.42 339.09 24.99C338.57 25.55 338.08 26.13 337.62 26.71C337.15 27.30 336.71 27.89 336.29 28.49C335.88 29.09 335.48 29.69 335.11 30.31C334.74 30.92 334.39 31.54 334.06 32.17C333.73 32.79 333.43 33.43 333.14 34.07C332.85 34.71 332.46 35.68 332.32 36.00" stroke="#fdd42d" stroke-opacity="0.40"/>
<path class="ct" d="M348.15 16.50C347.90 16.64 347.22 17.03 346.69 17.35C346.15 17.68 345.52 18.07 344.93 18.46C344.34 18.85 343.74 19.27 343.16 19.69C342.58 20.11 342.00 20.55 341.44 21.00C340.89 21.45 340.34 21.92 339.82 22.39C339.30 22.86 338.80 23.34 338.32 23.83C337.84 24.32 337.37 24.81 336.93 25.32C336.49 25.82 336.07 26.33 335.67 26.85C335.27 27.37 334.89 27.89 334.52 28.42C334.16 28.95 333.82 29.48 333.49 30.03C333.17 30.57 332.86 31.11 332.57 31.66C332.28 32.22 331.89 33.06 331.75 33.33" stroke="#fdd42d" stroke-opacity="0.40"/>
<path class="ct" d="M346.44 16.50C346.22 16.62 345.61 16.94 345.13 17.22C344.64 17.49 344.07 17.82 343.54 18.15C343.00 18.48 342.45 18.83 341.92 19.18C341.38 19.54 340.85 19.91 340.33 20.29C339.81 20.67 339.30 21.06 338.81 21.45C338.31 21.85 337.83 22.26 337.37 22.67C336.91 23.08 336.46 23.50 336.03 23.92C335.60 24.34 335.19 24.77 334.80 25.21C334.40 25.64 334.02 26.09 333.66 26.53C333.29 26.98 332.95 27.43 332.61 27.88C332.28 28.34 331.97 28.80 331.67 29.26C331.36 29.73 330.95 30.43 330.81 30.67" stroke="#fdd42d" stroke-opacity="0.40"/>
<path class="ct" d="M344.85 16.50C344.64 16.60 344.07 16.86 343.61 17.08C343.15 17.31 342.60 17.57 342.09 17.84C341.57 18.11 341.04 18.39 340.51 18.68C339.99 18.97 339.46 19.27 338.95 19.58C338.44 19.88 337.93 20.20 337.44 20.52C336.94 20.84 336.45 21.17 335.98 21.51C335.51 21.84 335.05 22.18 334.61 22.52C334.16 22.87 333.73 23.22 333.31 23.57C332.90 23.92 332.49 24.28 332.10 24.64C331.71 25.00 331.34 25.37 330.98 25.74C330.62 26.11 330.27 26.48 329.93 26.86C329.60 27.24 329.13 27.81 328.97 28.00" stroke="#fdd42d" stroke-opacity="0.40"/>
<path class="ct" d="M343.37 16.50C343.18 16.59 342.65 16.82 342.22 17.03C341.79 17.23 341.29 17.47 340.81 17.71C340.33 17.95 339.83 18.20 339.34 18.47C338.86 18.73 338.36 19.00 337.88 19.28C337.40 19.55 336.93 19.84 336.46 20.13C335.99 20.42 335.54 20.72 335.09 21.02C334.64 21.32 334.21 21.62 333.78 21.93C333.36 22.24 332.95 22.56 332.55 22.88C332.15 23.20 331.76 23.52 331.39 23.85C331.02 24.17 330.65 24.50 330.30 24.84C329.96 25.17 329.62 25.51 329.29 25.85C328.97 26.19 328.51 26.70 328.36 26.88" stroke="#fdd42d" stroke-opacity="0.40"/>
<path class="ct" d="M341.99 16.50C341.81 16.58 341.30 16.79 340.89 16.97C340.49 17.15 340.00 17.36 339.54 17.58C339.08 17.79 338.60 18.02 338.13 18.25C337.66 18.49 337.18 18.73 336.71 18.98C336.25 19.22 335.78 19.48 335.33 19.74C334.87 19.99 334.42 20.26 333.99 20.53C333.55 20.79 333.12 21.07 332.70 21.34C332.28 21.62 331.88 21.90 331.48 22.19C331.08 22.47 330.70 22.76 330.33 23.05C329.95 23.34 329.59 23.64 329.24 23.93C328.89 24.23 328.55 24.53 328.22 24.83C327.89 25.14 327.43 25.60 327.27 25.75" stroke="#fdd42d" stroke-opacity="0.40"/>
<path class="ct" d="M340.71 16.50C340.52 16.57 340.00 16.75 339.57 16.91C339.15 17.07 338.64 17.26 338.16 17.45C337.68 17.63 337.17 17.83 336.68 18.04C336.18 18.24 335.68 18.46 335.19 18.67C334.69 18.89 334.20 19.11 333.72 19.34C333.24 19.57 332.76 19.80 332.29 20.04C331.82 20.27 331.36 20.51 330.91 20.76C330.46 21.00 330.03 21.25 329.60 21.49C329.17 21.74 328.75 22.00 328.34 22.25C327.94 22.51 327.54 22.77 327.16 23.03C326.77 23.29 326.40 23.55 326.04 23.82C325.68 24.09 325.16 24.49 324.99 24.62" stroke="#fdd42d" stroke-opacity="0.40"/>
<path class="ct" d="M339.52 16.50C339.26 16.56 338.55 16.72 337.97 16.85C337.39 16.99 336.71 17.15 336.05 17.32C335.39 17.48 334.70 17.65 334.02 17.83C333.33 18.00 332.64 18.19 331.96 18.37C331.28 18.56 330.59 18.75 329.92 18.95C329.25 19.14 328.58 19.34 327.93 19.55C327.27 19.75 326.62 19.96 325.99 20.17C325.36 20.38 324.74 20.59 324.13 20.80C323.52 21.02 322.92 21.24 322.34 21.46C321.76 21.68 321.19 21.90 320.64 22.12C320.08 22.35 319.54 22.58 319.02 22.81C318.49 23.04 317.74 23.38 317.49 23.50" stroke="#fdd42d" stroke-opacity="0.40"/>
<path class="ct" d="M338.42 16.50C338.23 16.56 337.70 16.72 337.27 16.85C336.84 16.99 336.34 17.15 335.85 17.32C335.36 17.48 334.86 17.65 334.36 17.83C333.86 18.00 333.35 18.19 332.85 18.37C332.35 18.56 331.85 18.75 331.36 18.95C330.87 19.14 330.38 19.34 329.91 19.55C329.43 19.75 328.96 19.96 328.50 20.17C328.04 20.38 327.59 20.59 327.15 20.80C326.71 21.02 326.29 21.24 325.87 21.46C325.45 21.68 325.04 21.90 324.65 22.12C324.25 22.35 323.86 22.58 323.49 22.81C323.11 23.04 322.58 23.38 322.40 23.50" stroke="#fdd42d" stroke-opacity="0.40"/>
<path class="ct" d="M337.32 16.50C337.19 16.56 336.85 16.72 336.57 16.85C336.30 16.99 335.97 17.15 335.65 17.32C335.34 17.48 335.01 17.65 334.69 17.83C334.37 18.00 334.04 18.19 333.72 18.37C333.40 18.56 333.08 18.75 332.77 18.95C332.46 19.14 332.15 19.34 331.84 19.55C331.54 19.75 331.24 19.96 330.95 20.17C330.66 20.38 330.38 20.59 330.10 20.80C329.82 21.02 329.55 21.24 329.29 21.46C329.03 21.68 328.77 21.90 328.52 22.12C328.27 22.35 328.03 22.58 327.80 22.81C327.57 23.04 327.24 23.38 327.12 23.50" stroke="#fdd42d" stroke-opacity="0.40"/>
<path class="ct" d="M336.22 16.50C336.16 16.56 336.00 16.72 335.88 16.85C335.75 16.99 335.60 17.15 335.46 17.32C335.32 17.48 335.17 17.65 335.02 17.83C334.88 18.00 334.73 18.19 334.59 18.37C334.44 18.56 334.30 18.75 334.16 18.95C334.02 19.14 333.88 19.34 333.75 19.55C333.61 19.75 333.48 19.96 333.35 20.17C333.22 20.38 333.09 20.59 332.97 20.80C332.85 21.02 332.73 21.24 332.61 21.46C332.50 21.68 332.39 21.90 332.28 22.12C332.17 22.35 332.06 22.58 331.96 22.81C331.86 23.04 331.72 23.38 331.67 23.50" stroke="#fdd42d" stroke-opacity="0.40"/>
<path d="M493.40 16.50L502.23 20.76L511.21 26.28L518.66 32.42L524.47 38.98L528.84 45.88L532.03 53.06L534.33 60.49L535.95 68.14L537.08 75.98L537.86 83.99L538.38 92.17L538.74 100.50L538.87 88.50L538.42 81.36L537.78 74.35L536.88 67.48L535.62 60.76L533.90 54.21L531.57 47.84L528.44 41.68L524.34 35.77L519.08 30.14L512.57 24.89L504.97 20.15L497.70 16.50Z" fill="#1fb9c0" fill-opacity="0.07"/>
<path d="M497.70 16.50L504.97 20.15L512.57 24.89L519.08 30.14L524.34 35.77L528.44 41.68L531.57 47.84L533.90 54.21L535.62 60.76L536.88 67.48L537.78 74.35L538.42 81.36L538.87 88.50L539.02 78.50L538.48 72.35L537.75 66.32L536.75 60.40L535.42 54.61L533.66 48.97L531.34 43.49L528.35 38.18L524.55 33.09L519.83 28.25L514.16 23.72L507.72 19.64L501.70 16.50Z" fill="#2ac0ad" fill-opacity="0.07"/>
<path d="M501.70 16.50L507.72 19.64L514.16 23.72L519.83 28.25L524.55 33.09L528.35 38.18L531.34 43.49L533.66 48.97L535.42 54.61L536.75 60.40L537.75 66.32L538.48 72.35L539.02 78.50L539.17 71.00L538.58 65.60L537.79 60.29L536.76 55.09L535.41 50.00L533.67 45.04L531.45 40.22L528.65 35.56L525.18 31.08L520.96 26.83L516.01 22.85L510.49 19.26L505.42 16.50Z" fill="#35c79a" fill-opacity="0.07"/>
<path d="M505.42 16.50L510.49 19.26L516.01 22.85L520.96 26.83L525.18 31.08L528.65 35.56L531.45 40.22L533.67 45.04L535.41 50.00L536.76 55.09L537.79 60.29L538.58 65.60L539.17 71.00L539.38 63.50L538.73 58.84L537.88 54.26L536.80 49.78L535.43 45.39L533.72 41.11L531.58 36.96L528.97 32.94L525.81 29.08L522.07 25.40L517.78 21.97L513.10 18.88L508.88 16.50Z" fill="#55c87e" fill-opacity="0.07"/>
<path d="M508.88 16.50L513.10 18.88L517.78 21.97L522.07 25.40L525.81 29.08L528.97 32.94L531.58 36.96L533.72 41.11L535.43 45.39L536.80 49.78L537.88 54.26L538.73 58.84L539.38 63.50L539.54 58.17L538.87 54.04L538.01 49.98L536.95 46.00L535.62 42.11L533.99 38.32L532.00 34.64L529.61 31.07L526.76 27.65L523.45 24.39L519.71 21.35L515.68 18.61L512.09 16.50Z" fill="#79c762" fill-opacity="0.07"/>
<path d="M512.09 16.50L515.68 18.61L519.71 21.35L523.45 24.39L526.76 27.65L529.61 31.07L532.00 34.64L533.99 38.32L535.62 42.11L536.95 46.00L538.01 49.98L538.87 54.04L539.54 58.17L539.77 52.83L539.06 49.23L538.20 45.69L537.14 42.23L535.85 38.84L534.30 35.53L532.45 32.32L530.26 29.21L527.70 26.22L524.79 23.38L521.54 20.73L518.11 18.34L515.08 16.50Z" fill="#9cc745" fill-opacity="0.07"/>
<path d="M515.08 16.50L518.11 18.34L521.54 20.73L524.79 23.38L527.70 26.22L530.26 29.21L532.45 32.32L534.30 35.53L535.85 38.84L537.14 42.23L538.20 45.69L539.06 49.23L539.77 52.83L540.09 47.50L539.36 44.43L538.47 41.41L537.41 38.45L536.16 35.56L534.68 32.74L532.94 29.99L530.94 27.34L528.66 24.79L526.09 22.37L523.30 20.11L520.39 18.07L517.87 16.50Z" fill="#bac639" fill-opacity="0.07"/>
<path d="M517.87 16.50L520.39 18.07L523.30 20.11L526.09 22.37L528.66 24.79L530.94 27.34L532.94 29.99L534.68 32.74L536.16 35.56L537.41 38.45L538.47 41.41L539.36 44.43L540.09 47.50L540.33 43.67L539.60 40.97L538.74 38.33L537.73 35.74L536.55 33.20L535.17 30.73L533.59 28.32L531.78 26.00L529.75 23.77L527.51 21.65L525.08 19.66L522.60 17.88L520.45 16.50Z" fill="#d3c538" fill-opacity="0.07"/>
<path d="M520.45 16.50L522.60 17.88L525.08 19.66L527.51 21.65L529.75 23.77L531.78 26.00L533.59 28.32L535.17 30.73L536.55 33.20L537.73 35.74L538.74 38.33L539.60 40.97L540.33 43.67L540.67 39.83L539.95 37.52L539.10 35.25L538.13 33.02L537.00 30.84L535.72 28.72L534.27 26.66L532.65 24.66L530.84 22.74L528.88 20.92L526.79 19.22L524.67 17.68L522.86 16.50Z" fill="#ecc438" fill-opacity="0.07"/>
<path d="M522.86 16.50L524.67 17.68L526.79 19.22L528.88 20.92L530.84 22.74L532.65 24.66L534.27 26.66L535.72 28.72L537.00 30.84L538.13 33.02L539.10 35.25L539.95 37.52L540.67 39.83L541.20 36.00L540.47 34.07L539.62 32.17L538.67 30.31L537.60 28.49L536.39 26.71L535.05 24.99L533.57 23.32L531.96 21.72L530.24 20.19L528.43 18.77L526.62 17.49L525.10 16.50Z" fill="#fec835" fill-opacity="0.07"/>
<path d="M525.10 16.50L526.62 17.49L528.43 18.77L530.24 20.19L531.96 21.72L533.57 23.32L535.05 24.99L536.39 26.71L537.60 28.49L538.67 30.31L539.62 32.17L540.47 34.07L541.20 36.00L541.58 33.33L540.87 31.66L540.07 30.03L539.18 28.42L538.18 26.85L537.07 25.32L535.86 23.83L534.54 22.39L533.11 21.00L531.60 19.69L530.03 18.46L528.48 17.35L527.18 16.50Z" fill="#fdd42d" fill-opacity="0.07"/>
<path d="M527.18 16.50L528.48 17.35L530.03 18.46L531.60 19.69L533.11 21.00L534.54 22.39L535.86 23.83L537.07 25.32L538.18 26.85L539.18 28.42L540.07 30.03L540.87 31.66L541.58 33.33L542.19 30.67L541.49 29.26L540.72 27.88L539.86 26.53L538.92 25.21L537.89 23.92L536.77 22.67L535.57 21.45L534.30 20.29L532.96 19.18L531.58 18.15L530.23 17.22L529.11 16.50Z" fill="#fdd42d" fill-opacity="0.07"/>
<path d="M529.11 16.50L530.23 17.22L531.58 18.15L532.96 19.18L534.30 20.29L535.57 21.45L536.77 22.67L537.89 23.92L538.92 25.21L539.86 26.53L540.72 27.88L541.49 29.26L542.19 30.67L543.37 28.00L542.64 26.86L541.85 25.74L540.98 24.64L540.05 23.57L539.04 22.52L537.96 21.51L536.82 20.52L535.63 19.58L534.39 18.68L533.13 17.84L531.91 17.08L530.91 16.50Z" fill="#fdd42d" fill-opacity="0.07"/>
<path d="M530.91 16.50L531.91 17.08L533.13 17.84L534.39 18.68L535.63 19.58L536.82 20.52L537.96 21.51L539.04 22.52L540.05 23.57L540.98 24.64L541.85 25.74L542.64 26.86L543.37 28.00L543.39 26.88L542.74 25.85L542.04 24.84L541.28 23.85L540.46 22.88L539.59 21.93L538.65 21.02L537.66 20.13L536.63 19.28L535.56 18.47L534.48 17.71L533.44 17.03L532.59 16.50Z" fill="#fdd42d" fill-opacity="0.07"/>
<path d="M532.59 16.50L533.44 17.03L534.48 17.71L535.56 18.47L536.63 19.28L537.66 20.13L538.65 21.02L539.59 21.93L540.46 22.88L541.28 23.85L542.04 24.84L542.74 25.85L543.39 26.88L543.48 25.75L542.91 24.83L542.29 23.93L541.62 23.05L540.91 22.19L540.15 21.34L539.34 20.53L538.48 19.74L537.59 18.98L536.68 18.25L535.76 17.58L534.87 16.97L534.15 16.50Z" fill="#fdd42d" fill-opacity="0.07"/>
<path d="M534.15 16.50L534.87 16.97L535.76 17.58L536.68 18.25L537.59 18.98L538.48 19.74L539.34 20.53L540.15 21.34L540.91 22.19L541.62 23.05L542.29 23.93L542.91 24.83L543.48 25.75L543.74 24.62L543.22 23.82L542.67 23.03L542.08 22.25L541.45 21.49L540.78 20.76L540.07 20.04L539.33 19.34L538.56 18.67L537.77 18.04L536.98 17.45L536.21 16.91L535.59 16.50Z" fill="#fdd42d" fill-opacity="0.07"/>
<path d="M535.59 16.50L536.21 16.91L536.98 17.45L537.77 18.04L538.56 18.67L539.33 19.34L540.07 20.04L540.78 20.76L541.45 21.49L542.08 22.25L542.67 23.03L543.22 23.82L543.74 24.62L544.68 23.50L544.18 22.81L543.64 22.12L543.07 21.46L542.46 20.80L541.82 20.17L541.15 19.55L540.44 18.95L539.71 18.37L538.97 17.83L538.23 17.32L537.52 16.85L536.94 16.50Z" fill="#fdd42d" fill-opacity="0.07"/>
<path d="M536.94 16.50L537.52 16.85L538.23 17.32L538.97 17.83L539.71 18.37L540.44 18.95L541.15 19.55L541.82 20.17L542.46 20.80L543.07 21.46L543.64 22.12L544.18 22.81L544.68 23.50L541.50 23.50L541.50 16.50Z" fill="#fdd42d" fill-opacity="0.10"/>
<path class="ct" d="M493.40 16.50C494.87 17.21 499.26 19.13 502.23 20.76C505.20 22.39 508.47 24.34 511.21 26.28C513.95 28.23 516.45 30.30 518.66 32.42C520.87 34.53 522.77 36.73 524.47 38.98C526.17 41.22 527.58 43.53 528.84 45.88C530.10 48.23 531.12 50.63 532.03 53.06C532.95 55.50 533.68 57.98 534.33 60.49C534.98 63.01 535.49 65.56 535.95 68.14C536.41 70.72 536.76 73.33 537.08 75.98C537.40 78.62 537.64 81.29 537.86 83.99C538.07 86.69 538.24 89.42 538.38 92.17C538.53 94.92 538.68 99.11 538.74 100.50" stroke="#1fb9c0"/>
<path class="ct" d="M497.70 16.50C498.91 17.11 502.49 18.75 504.97 20.15C507.45 21.55 510.22 23.22 512.57 24.89C514.92 26.55 517.12 28.33 519.08 30.14C521.04 31.95 522.78 33.84 524.34 35.77C525.90 37.69 527.24 39.67 528.44 41.68C529.65 43.69 530.66 45.75 531.57 47.84C532.48 49.93 533.23 52.05 533.90 54.21C534.58 56.36 535.13 58.55 535.62 60.76C536.12 62.97 536.52 65.22 536.88 67.48C537.23 69.75 537.52 72.04 537.78 74.35C538.03 76.66 538.23 79.00 538.42 81.36C538.60 83.72 538.79 87.31 538.87 88.50" stroke="#2ac0ad" stroke-opacity="0.72"/>
<path class="ct" d="M501.70 16.50C502.70 17.02 505.64 18.44 507.72 19.64C509.80 20.85 512.14 22.29 514.16 23.72C516.18 25.16 518.10 26.69 519.83 28.25C521.56 29.81 523.13 31.43 524.55 33.09C525.97 34.75 527.22 36.45 528.35 38.18C529.48 39.92 530.46 41.69 531.34 43.49C532.23 45.28 532.98 47.12 533.66 48.97C534.34 50.83 534.91 52.71 535.42 54.61C535.94 56.52 536.37 58.45 536.75 60.40C537.14 62.35 537.46 64.32 537.75 66.32C538.04 68.31 538.27 70.32 538.48 72.35C538.70 74.38 538.93 77.48 539.02 78.50" stroke="#35c79a" stroke-opacity="0.68"/>
<path class="ct" d="M505.42 16.50C506.26 16.96 508.73 18.21 510.49 19.26C512.26 20.32 514.26 21.59 516.01 22.85C517.75 24.11 519.43 25.45 520.96 26.83C522.49 28.20 523.89 29.63 525.18 31.08C526.46 32.54 527.60 34.04 528.65 35.56C529.69 37.08 530.61 38.64 531.45 40.22C532.29 41.80 533.01 43.41 533.67 45.04C534.33 46.67 534.90 48.33 535.41 50.00C535.93 51.68 536.36 53.38 536.76 55.09C537.15 56.80 537.49 58.54 537.79 60.29C538.09 62.04 538.35 63.81 538.58 65.60C538.81 67.38 539.07 70.10 539.17 71.00" stroke="#55c87e" stroke-opacity="0.64"/>
<path class="ct" d="M508.88 16.50C509.58 16.90 511.62 17.97 513.10 18.88C514.59 19.80 516.28 20.89 517.78 21.97C519.27 23.06 520.73 24.22 522.07 25.40C523.41 26.59 524.66 27.82 525.81 29.08C526.96 30.33 528.01 31.62 528.97 32.94C529.93 34.25 530.79 35.60 531.58 36.96C532.38 38.32 533.07 39.71 533.72 41.11C534.36 42.52 534.92 43.95 535.43 45.39C535.95 46.84 536.39 48.30 536.80 49.78C537.21 51.26 537.56 52.75 537.88 54.26C538.20 55.77 538.47 57.30 538.73 58.84C538.98 60.38 539.27 62.72 539.38 63.50" stroke="#79c762" stroke-opacity="0.60"/>
<path class="ct" d="M512.09 16.50C512.69 16.85 514.42 17.80 515.68 18.61C516.95 19.42 518.41 20.39 519.71 21.35C521.00 22.32 522.28 23.34 523.45 24.39C524.63 25.44 525.74 26.54 526.76 27.65C527.79 28.76 528.73 29.91 529.61 31.07C530.48 32.24 531.27 33.43 532.00 34.64C532.73 35.84 533.39 37.08 533.99 38.32C534.60 39.57 535.13 40.83 535.62 42.11C536.12 43.39 536.55 44.69 536.95 46.00C537.35 47.31 537.69 48.64 538.01 49.98C538.33 51.32 538.61 52.67 538.87 54.04C539.12 55.40 539.43 57.48 539.54 58.17" stroke="#9cc745" stroke-opacity="0.56"/>
<path class="ct" d="M515.08 16.50C515.59 16.81 517.03 17.64 518.11 18.34C519.18 19.05 520.43 19.89 521.54 20.73C522.65 21.57 523.76 22.47 524.79 23.38C525.81 24.30 526.79 25.25 527.70 26.22C528.62 27.19 529.47 28.19 530.26 29.21C531.05 30.22 531.77 31.26 532.45 32.32C533.12 33.37 533.74 34.44 534.30 35.53C534.87 36.62 535.38 37.72 535.85 38.84C536.33 39.95 536.75 41.08 537.14 42.23C537.53 43.37 537.88 44.53 538.20 45.69C538.52 46.86 538.80 48.04 539.06 49.23C539.33 50.42 539.65 52.23 539.77 52.83" stroke="#bac639" stroke-opacity="0.52"/>
<path class="ct" d="M517.87 16.50C518.29 16.76 519.49 17.47 520.39 18.07C521.30 18.67 522.35 19.39 523.30 20.11C524.25 20.83 525.20 21.59 526.09 22.37C526.99 23.15 527.85 23.97 528.66 24.79C529.46 25.62 530.23 26.48 530.94 27.34C531.66 28.21 532.32 29.09 532.94 29.99C533.57 30.89 534.14 31.81 534.68 32.74C535.21 33.66 535.70 34.60 536.16 35.56C536.61 36.51 537.03 37.47 537.41 38.45C537.80 39.43 538.15 40.41 538.47 41.41C538.79 42.40 539.09 43.41 539.36 44.43C539.63 45.44 539.97 46.99 540.09 47.50" stroke="#d3c538" stroke-opacity="0.49"/>
<path class="ct" d="M520.45 16.50C520.81 16.73 521.82 17.35 522.60 17.88C523.37 18.40 524.27 19.04 525.08 19.66C525.90 20.29 526.73 20.96 527.51 21.65C528.28 22.33 529.04 23.04 529.75 23.77C530.47 24.49 531.15 25.24 531.78 26.00C532.42 26.76 533.02 27.54 533.59 28.32C534.15 29.11 534.68 29.92 535.17 30.73C535.66 31.54 536.12 32.37 536.55 33.20C536.97 34.04 537.36 34.88 537.73 35.74C538.09 36.59 538.43 37.46 538.74 38.33C539.05 39.20 539.34 40.08 539.60 40.97C539.87 41.86 540.21 43.22 540.33 43.67" stroke="#ecc438" stroke-opacity="0.45"/>
<path class="ct" d="M522.86 16.50C523.16 16.70 524.01 17.23 524.67 17.68C525.32 18.14 526.09 18.68 526.79 19.22C527.49 19.76 528.20 20.33 528.88 20.92C529.55 21.51 530.22 22.12 530.84 22.74C531.47 23.37 532.08 24.01 532.65 24.66C533.22 25.31 533.76 25.98 534.27 26.66C534.79 27.33 535.27 28.02 535.72 28.72C536.18 29.42 536.60 30.13 537.00 30.84C537.40 31.56 537.78 32.29 538.13 33.02C538.48 33.76 538.80 34.50 539.10 35.25C539.40 36.00 539.68 36.76 539.95 37.52C540.21 38.28 540.55 39.45 540.67 39.83" stroke="#fec835" stroke-opacity="0.41"/>
<path class="ct" d="M525.10 16.50C525.35 16.66 526.06 17.11 526.62 17.49C527.18 17.87 527.83 18.32 528.43 18.77C529.03 19.22 529.65 19.70 530.24 20.19C530.83 20.69 531.41 21.20 531.96 21.72C532.52 22.24 533.06 22.77 533.57 23.32C534.09 23.86 534.58 24.42 535.05 24.99C535.52 25.55 535.97 26.13 536.39 26.71C536.82 27.30 537.22 27.89 537.60 28.49C537.98 29.09 538.33 29.69 538.67 30.31C539.01 30.92 539.33 31.54 539.62 32.17C539.92 32.79 540.20 33.43 540.47 34.07C540.73 34.71 541.08 35.68 541.20 36.00" stroke="#fdd42d" stroke-opacity="0.40"/>
<path class="ct" d="M527.18 16.50C527.40 16.64 528.00 17.03 528.48 17.35C528.95 17.68 529.51 18.07 530.03 18.46C530.55 18.85 531.09 19.27 531.60 19.69C532.11 20.11 532.62 20.55 533.11 21.00C533.60 21.45 534.08 21.92 534.54 22.39C535.00 22.86 535.44 23.34 535.86 23.83C536.28 24.32 536.69 24.81 537.07 25.32C537.46 25.82 537.83 26.33 538.18 26.85C538.53 27.37 538.86 27.89 539.18 28.42C539.49 28.95 539.79 29.48 540.07 30.03C540.35 30.57 540.62 31.11 540.87 31.66C541.12 32.22 541.46 33.06 541.58 33.33" stroke="#fdd42d" stroke-opacity="0.40"/>
<path class="ct" d="M529.11 16.50C529.30 16.62 529.82 16.94 530.23 17.22C530.64 17.49 531.13 17.82 531.58 18.15C532.03 18.48 532.50 18.83 532.96 19.18C533.41 19.54 533.86 19.91 534.30 20.29C534.73 20.67 535.16 21.06 535.57 21.45C535.99 21.85 536.39 22.26 536.77 22.67C537.16 23.08 537.53 23.50 537.89 23.92C538.25 24.34 538.59 24.77 538.92 25.21C539.25 25.64 539.56 26.09 539.86 26.53C540.16 26.98 540.44 27.43 540.72 27.88C540.99 28.34 541.25 28.80 541.49 29.26C541.74 29.73 542.08 30.43 542.19 30.67" stroke="#fdd42d" stroke-opacity="0.40"/>
<path class="ct" d="M530.91 16.50C531.08 16.60 531.54 16.86 531.91 17.08C532.28 17.31 532.72 17.57 533.13 17.84C533.54 18.11 533.97 18.39 534.39 18.68C534.80 18.97 535.22 19.27 535.63 19.58C536.03 19.88 536.43 20.20 536.82 20.52C537.21 20.84 537.60 21.17 537.96 21.51C538.33 21.84 538.69 22.18 539.04 22.52C539.39 22.87 539.72 23.22 540.05 23.57C540.37 23.92 540.68 24.28 540.98 24.64C541.28 25.00 541.57 25.37 541.85 25.74C542.12 26.11 542.39 26.48 542.64 26.86C542.90 27.24 543.25 27.81 543.37 28.00" stroke="#fdd42d" stroke-opacity="0.40"/>
<path class="ct" d="M532.59 16.50C532.73 16.59 533.13 16.82 533.44 17.03C533.76 17.23 534.13 17.47 534.48 17.71C534.84 17.95 535.20 18.20 535.56 18.47C535.92 18.73 536.28 19.00 536.63 19.28C536.98 19.55 537.33 19.84 537.66 20.13C538.00 20.42 538.33 20.72 538.65 21.02C538.97 21.32 539.28 21.62 539.59 21.93C539.89 22.24 540.18 22.56 540.46 22.88C540.75 23.20 541.02 23.52 541.28 23.85C541.54 24.17 541.80 24.50 542.04 24.84C542.28 25.17 542.52 25.51 542.74 25.85C542.97 26.19 543.28 26.70 543.39 26.88" stroke="#fdd42d" stroke-opacity="0.40"/>
<path class="ct" d="M534.15 16.50C534.27 16.58 534.60 16.79 534.87 16.97C535.14 17.15 535.46 17.36 535.76 17.58C536.06 17.79 536.37 18.02 536.68 18.25C536.99 18.49 537.29 18.73 537.59 18.98C537.89 19.22 538.19 19.48 538.48 19.74C538.77 19.99 539.06 20.26 539.34 20.53C539.61 20.79 539.88 21.07 540.15 21.34C540.41 21.62 540.66 21.90 540.91 22.19C541.15 22.47 541.39 22.76 541.62 23.05C541.85 23.34 542.07 23.64 542.29 23.93C542.50 24.23 542.71 24.53 542.91 24.83C543.10 25.14 543.38 25.60 543.48 25.75" stroke="#fdd42d" stroke-opacity="0.40"/>
<path class="ct" d="M535.59 16.50C535.70 16.57 535.98 16.75 536.21 16.91C536.44 17.07 536.72 17.26 536.98 17.45C537.23 17.63 537.50 17.83 537.77 18.04C538.03 18.24 538.30 18.46 538.56 18.67C538.82 18.89 539.08 19.11 539.33 19.34C539.58 19.57 539.83 19.80 540.07 20.04C540.32 20.27 540.55 20.51 540.78 20.76C541.01 21.00 541.24 21.25 541.45 21.49C541.67 21.74 541.88 22.00 542.08 22.25C542.29 22.51 542.48 22.77 542.67 23.03C542.86 23.29 543.05 23.55 543.22 23.82C543.40 24.09 543.65 24.49 543.74 24.62" stroke="#fdd42d" stroke-opacity="0.40"/>
<path class="ct" d="M536.94 16.50C537.04 16.56 537.30 16.72 537.52 16.85C537.73 16.99 537.98 17.15 538.23 17.32C538.47 17.48 538.72 17.65 538.97 17.83C539.22 18.00 539.47 18.19 539.71 18.37C539.96 18.56 540.20 18.75 540.44 18.95C540.68 19.14 540.92 19.34 541.15 19.55C541.38 19.75 541.60 19.96 541.82 20.17C542.04 20.38 542.26 20.59 542.46 20.80C542.67 21.02 542.88 21.24 543.07 21.46C543.27 21.68 543.46 21.90 543.64 22.12C543.83 22.35 544.01 22.58 544.18 22.81C544.35 23.04 544.60 23.38 544.68 23.50" stroke="#fdd42d" stroke-opacity="0.40"/>
<path class="ct" d="M401.00 100.80C401.75 99.55 403.50 95.62 405.50 93.30C407.50 90.98 410.25 88.62 413.00 86.90C415.75 85.18 418.80 83.85 422.00 83.00C425.20 82.15 429.03 81.73 432.20 81.80C435.37 81.87 438.37 82.50 441.00 83.40C443.63 84.30 445.80 85.77 448.00 87.20C450.20 88.63 451.90 89.73 454.20 92.00C456.50 94.27 460.53 99.33 461.80 100.80" stroke="#3e26a8"/>
<path class="ct" d="M385.40 100.80C385.67 99.33 385.98 95.38 387.00 92.00C388.02 88.62 389.70 84.33 391.50 80.50C393.30 76.67 395.72 72.17 397.80 69.00C399.88 65.83 401.63 63.83 404.00 61.50C406.37 59.17 408.83 56.75 412.00 55.00C415.17 53.25 419.25 51.88 423.00 51.00C426.75 50.12 430.67 49.67 434.50 49.70C438.33 49.73 442.92 50.38 446.00 51.20C449.08 52.02 450.78 53.13 453.00 54.60C455.22 56.07 456.97 57.68 459.30 60.00C461.63 62.32 464.88 65.67 467.00 68.50C469.12 71.33 470.50 74.35 472.00 77.00C473.50 79.65 474.73 81.90 476.00 84.40C477.27 86.90 478.68 89.27 479.60 92.00C480.52 94.73 481.18 99.33 481.50 100.80" stroke="#4134bf"/>
<path class="ct" d="M379.00 100.80C379.17 99.55 379.37 96.10 380.00 93.30C380.63 90.50 381.57 87.47 382.80 84.00C384.03 80.53 385.62 76.53 387.40 72.50C389.18 68.47 391.10 64.13 393.50 59.80C395.90 55.47 399.13 49.98 401.80 46.50C404.47 43.02 407.05 40.93 409.50 38.90C411.95 36.87 414.00 35.70 416.50 34.30C419.00 32.90 421.67 31.45 424.50 30.50C427.33 29.55 430.42 28.75 433.50 28.60C436.58 28.45 440.18 28.97 443.00 29.60C445.82 30.23 447.68 30.88 450.40 32.40C453.12 33.92 456.33 35.85 459.30 38.70C462.27 41.55 465.67 46.12 468.20 49.50C470.73 52.88 472.60 55.95 474.50 59.00C476.40 62.05 478.25 64.97 479.60 67.80C480.95 70.63 481.75 73.23 482.60 76.00C483.45 78.77 484.03 81.73 484.70 84.40C485.37 87.07 486.17 89.27 486.60 92.00C487.03 94.73 487.18 99.33 487.30 100.80" stroke="#4441d7"/>
<path class="ct" d="M374.50 100.80C374.58 99.50 374.48 95.80 375.00 93.00C375.52 90.20 376.40 87.28 377.60 84.00C378.80 80.72 380.50 77.22 382.20 73.30C383.90 69.38 385.70 64.75 387.80 60.50C389.90 56.25 392.47 51.40 394.80 47.80C397.13 44.20 399.50 41.47 401.80 38.90C404.10 36.33 406.30 34.55 408.60 32.40C410.90 30.25 413.15 28.13 415.60 26.00C418.05 23.87 421.10 21.27 423.30 19.60C425.50 17.93 427.88 16.60 428.80 16.00" stroke="#474eee"/>
<path class="ct" d="M444.80 16.00C446.37 17.25 451.17 20.77 454.20 23.50C457.23 26.23 460.45 29.48 463.00 32.40C465.55 35.32 467.53 38.07 469.50 41.00C471.47 43.93 472.88 46.80 474.80 50.00C476.72 53.20 479.23 57.03 481.00 60.20C482.77 63.37 484.20 66.28 485.40 69.00C486.60 71.72 487.47 73.93 488.20 76.50C488.93 79.07 489.28 81.82 489.80 84.40C490.32 86.98 490.93 89.27 491.30 92.00C491.67 94.73 491.88 99.33 492.00 100.80" stroke="#474eee"/>
<path class="ct" d="M370.70 100.80C370.63 99.55 370.02 95.93 370.30 93.30C370.58 90.67 371.28 88.13 372.40 85.00C373.52 81.87 375.20 78.33 377.00 74.50C378.80 70.67 380.97 66.33 383.20 62.00C385.43 57.67 388.03 52.57 390.40 48.50C392.77 44.43 395.32 40.52 397.40 37.60C399.48 34.68 400.92 33.35 402.90 31.00C404.88 28.65 407.23 26.00 409.30 23.50C411.37 21.00 414.30 17.25 415.30 16.00" stroke="#425ef5"/>
<path class="ct" d="M455.60 16.00C457.07 17.45 461.67 21.55 464.40 24.70C467.13 27.85 469.90 31.93 472.00 34.90C474.10 37.87 475.45 39.98 477.00 42.50C478.55 45.02 479.70 47.05 481.30 50.00C482.90 52.95 485.07 57.03 486.60 60.20C488.13 63.37 489.43 66.37 490.50 69.00C491.57 71.63 492.32 73.43 493.00 76.00C493.68 78.57 494.15 81.73 494.60 84.40C495.05 87.07 495.50 89.27 495.70 92.00C495.90 94.73 495.78 99.33 495.80 100.80" stroke="#425ef5"/>
<path class="ct" d="M365.70 100.80C365.35 99.67 363.98 96.22 363.60 94.00C363.22 91.78 362.97 89.97 363.40 87.50C363.83 85.03 364.93 81.95 366.20 79.20C367.47 76.45 369.23 74.03 371.00 71.00C372.77 67.97 374.72 64.50 376.80 61.00C378.88 57.50 381.30 53.53 383.50 50.00C385.70 46.47 387.67 43.22 390.00 39.80C392.33 36.38 395.08 32.55 397.50 29.50C399.92 26.45 402.58 23.75 404.50 21.50C406.42 19.25 408.25 16.92 409.00 16.00" stroke="#3a6ef6"/>
<path class="ct" d="M461.00 16.00C462.42 17.67 466.83 22.63 469.50 26.00C472.17 29.37 474.92 33.28 477.00 36.20C479.08 39.12 480.50 41.20 482.00 43.50C483.50 45.80 484.27 47.00 486.00 50.00C487.73 53.00 490.70 58.10 492.40 61.50C494.10 64.90 495.05 67.98 496.20 70.40C497.35 72.82 498.27 73.85 499.30 76.00C500.33 78.15 501.72 81.03 502.40 83.30C503.08 85.57 503.43 87.48 503.40 89.60C503.37 91.72 502.67 94.13 502.20 96.00C501.73 97.87 500.87 100.00 500.60 100.80" stroke="#3a6ef6"/>
<path class="ct" d="M337.40 100.80C337.58 99.83 338.02 96.72 338.50 95.00C338.98 93.28 339.63 91.90 340.30 90.50C340.97 89.10 341.67 87.63 342.50 86.60C343.33 85.57 344.35 84.67 345.30 84.30C346.25 83.93 347.20 83.98 348.20 84.40C349.20 84.82 350.50 85.87 351.30 86.80C352.10 87.73 352.83 88.83 353.00 90.00C353.17 91.17 352.75 92.70 352.30 93.80C351.85 94.90 351.02 95.43 350.30 96.60C349.58 97.77 348.38 100.10 348.00 100.80" stroke="#3a6ef6"/>
<path class="ct" d="M523.80 100.80C523.05 100.17 520.70 98.37 519.30 97.00C517.90 95.63 516.23 94.23 515.40 92.60C514.57 90.97 514.15 88.87 514.30 87.20C514.45 85.53 515.42 83.72 516.30 82.60C517.18 81.48 518.55 80.87 519.60 80.50C520.65 80.13 521.63 80.10 522.60 80.40C523.57 80.70 524.37 81.37 525.40 82.30C526.43 83.23 527.70 84.63 528.80 86.00C529.90 87.37 531.02 88.83 532.00 90.50C532.98 92.17 533.95 94.28 534.70 96.00C535.45 97.72 536.20 100.00 536.50 100.80" stroke="#3a6ef6"/>
<path class="ct" d="M504.50 100.80C505.00 100.27 506.42 98.23 507.50 97.60C508.58 96.97 509.80 96.95 511.00 97.00C512.20 97.05 513.53 97.27 514.70 97.90C515.87 98.53 517.45 100.32 518.00 100.80" stroke="#3a6ef6"/>
<circle cx="340.7" cy="99.2" r="0.6" fill="#3a6ef6" fill-opacity=".6"/>
<circle cx="532" cy="99.3" r="0.6" fill="#3a6ef6" fill-opacity=".6"/>
<path class="ct" d="M335.60 100.80C335.73 99.50 335.90 95.22 336.40 93.00C336.90 90.78 337.78 89.33 338.60 87.50C339.42 85.67 340.43 83.58 341.30 82.00C342.17 80.42 342.88 79.47 343.80 78.00C344.72 76.53 345.57 74.67 346.80 73.20C348.03 71.73 349.57 70.23 351.20 69.20C352.83 68.17 354.63 67.60 356.60 67.00C358.57 66.40 361.18 66.23 363.00 65.60C364.82 64.97 366.00 64.47 367.50 63.20C369.00 61.93 370.33 60.20 372.00 58.00C373.67 55.80 375.67 52.50 377.50 50.00C379.33 47.50 381.50 45.27 383.00 43.00C384.50 40.73 385.30 38.60 386.50 36.40C387.70 34.20 388.78 32.20 390.20 29.80C391.62 27.40 393.57 24.30 395.00 22.00C396.43 19.70 398.17 17.00 398.80 16.00" stroke="#327ef6"/>
<path class="ct" d="M466.70 16.00C467.80 17.25 471.50 21.25 473.30 23.50C475.10 25.75 476.02 27.38 477.50 29.50C478.98 31.62 480.62 33.95 482.20 36.20C483.78 38.45 485.33 40.70 487.00 43.00C488.67 45.30 490.62 47.75 492.20 50.00C493.78 52.25 495.12 54.58 496.50 56.50C497.88 58.42 498.83 60.15 500.50 61.50C502.17 62.85 504.42 63.92 506.50 64.60C508.58 65.28 511.02 65.00 513.00 65.60C514.98 66.20 516.73 67.13 518.40 68.20C520.07 69.27 521.48 70.33 523.00 72.00C524.52 73.67 526.17 76.03 527.50 78.20C528.83 80.37 529.83 82.45 531.00 85.00C532.17 87.55 533.50 90.87 534.50 93.50C535.50 96.13 536.58 99.58 537.00 100.80" stroke="#327ef6"/>
<path class="ct" d="M335.50 97.00C335.68 95.50 336.08 90.83 336.60 88.00C337.12 85.17 337.83 82.33 338.60 80.00C339.37 77.67 340.32 75.83 341.20 74.00C342.08 72.17 343.00 70.67 343.90 69.00C344.80 67.33 345.38 65.75 346.60 64.00C347.82 62.25 349.38 60.27 351.20 58.50C353.02 56.73 355.23 54.75 357.50 53.40C359.77 52.05 362.52 51.52 364.80 50.40C367.08 49.28 369.23 48.07 371.20 46.70C373.17 45.33 374.80 44.07 376.60 42.20C378.40 40.33 380.27 37.95 382.00 35.50C383.73 33.05 384.97 30.75 387.00 27.50C389.03 24.25 393.00 17.92 394.20 16.00" stroke="#2a8cf3"/>
<path class="ct" d="M471.20 16.00C472.00 16.92 474.37 19.58 476.00 21.50C477.63 23.42 479.25 25.25 481.00 27.50C482.75 29.75 484.67 32.62 486.50 35.00C488.33 37.38 490.17 39.87 492.00 41.80C493.83 43.73 495.53 44.93 497.50 46.60C499.47 48.27 501.68 50.47 503.80 51.80C505.92 53.13 508.23 53.53 510.20 54.60C512.17 55.67 513.93 56.70 515.60 58.20C517.27 59.70 518.83 61.80 520.20 63.60C521.57 65.40 522.43 66.87 523.80 69.00C525.17 71.13 527.12 74.07 528.40 76.40C529.68 78.73 530.40 80.23 531.50 83.00C532.60 85.77 534.03 90.03 535.00 93.00C535.97 95.97 536.92 99.50 537.30 100.80" stroke="#2a8cf3"/>
<path class="ct" d="M335.40 94.00C335.55 92.33 335.87 87.00 336.30 84.00C336.73 81.00 337.35 78.50 338.00 76.00C338.65 73.50 339.53 71.00 340.20 69.00C340.87 67.00 340.93 66.20 342.00 64.00C343.07 61.80 344.77 58.38 346.60 55.80C348.43 53.22 350.72 50.77 353.00 48.50C355.28 46.23 357.88 44.02 360.30 42.20C362.72 40.38 365.22 39.13 367.50 37.60C369.78 36.07 371.75 35.02 374.00 33.00C376.25 30.98 378.38 28.33 381.00 25.50C383.62 22.67 388.25 17.58 389.70 16.00" stroke="#2199e9"/>
<path class="ct" d="M475.60 16.00C477.00 17.17 481.27 20.75 484.00 23.00C486.73 25.25 489.50 27.50 492.00 29.50C494.50 31.50 496.73 33.22 499.00 35.00C501.27 36.78 503.43 38.45 505.60 40.20C507.77 41.95 509.87 43.57 512.00 45.50C514.13 47.43 516.57 49.68 518.40 51.80C520.23 53.92 521.73 56.17 523.00 58.20C524.27 60.23 524.92 61.70 526.00 64.00C527.08 66.30 528.33 69.00 529.50 72.00C530.67 75.00 531.92 78.67 533.00 82.00C534.08 85.33 535.20 88.87 536.00 92.00C536.80 95.13 537.50 99.33 537.80 100.80" stroke="#2199e9"/>
<path class="ct" d="M335.40 90.00C335.53 88.33 335.83 83.00 336.20 80.00C336.57 77.00 337.07 74.67 337.60 72.00C338.13 69.33 338.35 67.00 339.40 64.00C340.45 61.00 342.23 57.03 343.90 54.00C345.57 50.97 347.43 48.22 349.40 45.80C351.37 43.38 353.43 41.47 355.70 39.50C357.97 37.53 360.72 35.52 363.00 34.00C365.28 32.48 367.07 32.07 369.40 30.40C371.73 28.73 374.23 26.40 377.00 24.00C379.77 21.60 384.50 17.33 386.00 16.00" stroke="#19a6df"/>
<path class="ct" d="M481.10 16.00C482.58 17.17 487.18 20.83 490.00 23.00C492.82 25.17 495.33 27.00 498.00 29.00C500.67 31.00 503.50 33.10 506.00 35.00C508.50 36.90 510.78 38.50 513.00 40.40C515.22 42.30 517.50 44.35 519.30 46.40C521.10 48.45 522.55 50.68 523.80 52.70C525.05 54.72 525.77 56.12 526.80 58.50C527.83 60.88 528.88 63.75 530.00 67.00C531.12 70.25 532.45 74.33 533.50 78.00C534.55 81.67 535.55 85.20 536.30 89.00C537.05 92.80 537.72 98.83 538.00 100.80" stroke="#19a6df"/>
<path class="ct" d="M335.40 86.00C335.50 84.33 335.65 79.67 336.00 76.00C336.35 72.33 336.63 67.67 337.50 64.00C338.37 60.33 339.83 57.18 341.20 54.00C342.57 50.82 344.03 47.63 345.70 44.90C347.37 42.17 349.38 39.58 351.20 37.60C353.02 35.62 354.47 34.67 356.60 33.00C358.73 31.33 361.43 29.35 364.00 27.60C366.57 25.85 368.97 24.43 372.00 22.50C375.03 20.57 380.50 17.08 382.20 16.00" stroke="#13b2d3"/>
<path class="ct" d="M487.40 16.00C488.50 16.83 491.73 19.33 494.00 21.00C496.27 22.67 498.67 24.17 501.00 26.00C503.33 27.83 505.75 29.92 508.00 32.00C510.25 34.08 512.50 36.33 514.50 38.50C516.50 40.67 518.38 42.83 520.00 45.00C521.62 47.17 523.00 49.42 524.20 51.50C525.40 53.58 526.15 55.08 527.20 57.50C528.25 59.92 529.40 62.75 530.50 66.00C531.60 69.25 532.78 73.17 533.80 77.00C534.82 80.83 535.88 85.03 536.60 89.00C537.32 92.97 537.85 98.83 538.10 100.80" stroke="#13b2d3"/>
</g>
<text class="cmh" transform="translate(345.60 25.30) rotate(-30.0)" text-anchor="middle" dy="2.05">560</text><text class="cc" transform="translate(345.60 25.30) rotate(-30.0)" text-anchor="middle" dy="2.05">560</text>
<text class="cmh" transform="translate(346.86 27.22) rotate(-30.8)" text-anchor="middle" dy="2.05">540</text><text class="cc" transform="translate(346.86 27.22) rotate(-30.8)" text-anchor="middle" dy="2.05">540</text>
<text class="cmh" transform="translate(348.12 25.54) rotate(-31.6)" text-anchor="middle" dy="2.05">520</text><text class="cc" transform="translate(348.12 25.54) rotate(-31.6)" text-anchor="middle" dy="2.05">520</text>
<text class="cmh" transform="translate(349.38 27.45) rotate(-32.5)" text-anchor="middle" dy="2.05">500</text><text class="cc" transform="translate(349.38 27.45) rotate(-32.5)" text-anchor="middle" dy="2.05">500</text>
<text class="cmh" transform="translate(350.64 25.77) rotate(-33.3)" text-anchor="middle" dy="2.05">480</text><text class="cc" transform="translate(350.64 25.77) rotate(-33.3)" text-anchor="middle" dy="2.05">480</text>
<text class="cmh" transform="translate(351.89 27.69) rotate(-34.1)" text-anchor="middle" dy="2.05">460</text><text class="cc" transform="translate(351.89 27.69) rotate(-34.1)" text-anchor="middle" dy="2.05">460</text>
<text class="cmh" transform="translate(353.15 26.01) rotate(-34.9)" text-anchor="middle" dy="2.05">440</text><text class="cc" transform="translate(353.15 26.01) rotate(-34.9)" text-anchor="middle" dy="2.05">440</text>
<text class="cmh" transform="translate(354.41 27.92) rotate(-35.8)" text-anchor="middle" dy="2.05">420</text><text class="cc" transform="translate(354.41 27.92) rotate(-35.8)" text-anchor="middle" dy="2.05">420</text>
<text class="cmh" transform="translate(355.67 26.24) rotate(-36.6)" text-anchor="middle" dy="2.05">400</text><text class="cc" transform="translate(355.67 26.24) rotate(-36.6)" text-anchor="middle" dy="2.05">400</text>
<text class="cmh" transform="translate(356.93 28.16) rotate(-37.4)" text-anchor="middle" dy="2.05">380</text><text class="cc" transform="translate(356.93 28.16) rotate(-37.4)" text-anchor="middle" dy="2.05">380</text>
<text class="cmh" transform="translate(358.19 26.48) rotate(-38.2)" text-anchor="middle" dy="2.05">360</text><text class="cc" transform="translate(358.19 26.48) rotate(-38.2)" text-anchor="middle" dy="2.05">360</text>
<text class="cmh" transform="translate(359.45 28.39) rotate(-39.1)" text-anchor="middle" dy="2.05">340</text><text class="cc" transform="translate(359.45 28.39) rotate(-39.1)" text-anchor="middle" dy="2.05">340</text>
<text class="cmh" transform="translate(360.71 26.71) rotate(-39.9)" text-anchor="middle" dy="2.05">320</text><text class="cc" transform="translate(360.71 26.71) rotate(-39.9)" text-anchor="middle" dy="2.05">320</text>
<text class="cmh" transform="translate(361.96 28.63) rotate(-40.7)" text-anchor="middle" dy="2.05">300</text><text class="cc" transform="translate(361.96 28.63) rotate(-40.7)" text-anchor="middle" dy="2.05">300</text>
<text class="cmh" transform="translate(363.22 26.95) rotate(-41.5)" text-anchor="middle" dy="2.05">280</text><text class="cc" transform="translate(363.22 26.95) rotate(-41.5)" text-anchor="middle" dy="2.05">280</text>
<text class="cmh" transform="translate(364.48 28.86) rotate(-42.4)" text-anchor="middle" dy="2.05">260</text><text class="cc" transform="translate(364.48 28.86) rotate(-42.4)" text-anchor="middle" dy="2.05">260</text>
<text class="cmh" transform="translate(365.74 27.18) rotate(-43.2)" text-anchor="middle" dy="2.05">240</text><text class="cc" transform="translate(365.74 27.18) rotate(-43.2)" text-anchor="middle" dy="2.05">240</text>
<text class="cmh" transform="translate(367.00 29.10) rotate(-44.0)" text-anchor="middle" dy="2.05">220</text><text class="cc" transform="translate(367.00 29.10) rotate(-44.0)" text-anchor="middle" dy="2.05">220</text>
<text class="clh" transform="translate(370.30 27.80) rotate(-42.0)" text-anchor="middle" dy="2.05">240</text><text class="cc" transform="translate(370.30 27.80) rotate(-42.0)" text-anchor="middle" dy="2.05">240</text>
<text class="clh" transform="translate(374.40 29.20) rotate(-46.0)" text-anchor="middle" dy="2.05">220</text><text class="cc" transform="translate(374.40 29.20) rotate(-46.0)" text-anchor="middle" dy="2.05">220</text>
<text class="clh" transform="translate(378.70 32.20) rotate(-50.0)" text-anchor="middle" dy="2.05">200</text><text class="cc" transform="translate(378.70 32.20) rotate(-50.0)" text-anchor="middle" dy="2.05">200</text>
<text class="clh" transform="translate(384.50 35.60) rotate(-56.0)" text-anchor="middle" dy="2.05">180</text><text class="cc" transform="translate(384.50 35.60) rotate(-56.0)" text-anchor="middle" dy="2.05">180</text>
<text class="clh" transform="translate(395.00 35.80) rotate(-56.0)" text-anchor="middle" dy="2.05">140</text><text class="cc" transform="translate(395.00 35.80) rotate(-56.0)" text-anchor="middle" dy="2.05">140</text>
<text class="clh" transform="translate(400.20 34.00) rotate(-54.0)" text-anchor="middle" dy="2.05">120</text><text class="cc" transform="translate(400.20 34.00) rotate(-54.0)" text-anchor="middle" dy="2.05">120</text>
<text class="clh" transform="translate(408.40 32.60) rotate(-50.0)" text-anchor="middle" dy="2.05">100</text><text class="cc" transform="translate(408.40 32.60) rotate(-50.0)" text-anchor="middle" dy="2.05">100</text>
<text class="clh" transform="translate(418.80 34.30) rotate(-43.0)" text-anchor="middle" dy="2.05">80</text><text class="cc" transform="translate(418.80 34.30) rotate(-43.0)" text-anchor="middle" dy="2.05">80</text>
<text class="clh" transform="translate(407.20 61.00) rotate(-50.0)" text-anchor="middle" dy="2.05">60</text><text class="cc" transform="translate(407.20 61.00) rotate(-50.0)" text-anchor="middle" dy="2.05">60</text>
<text class="clh" transform="translate(341.60 82.40) rotate(-62.0)" text-anchor="middle" dy="2.05">160</text><text class="cc" transform="translate(341.60 82.40) rotate(-62.0)" text-anchor="middle" dy="2.05">160</text>
<text class="clh" transform="translate(352.50 89.20) rotate(62.0)" text-anchor="middle" dy="2.05">140</text><text class="cc" transform="translate(352.50 89.20) rotate(62.0)" text-anchor="middle" dy="2.05">140</text>
<text class="clh" transform="translate(448.20 87.80) rotate(36.0)" text-anchor="middle" dy="2.05">40</text><text class="cc" transform="translate(448.20 87.80) rotate(36.0)" text-anchor="middle" dy="2.05">40</text>
<text class="clh" transform="translate(477.20 29.40) rotate(57.0)" text-anchor="middle" dy="2.05">160</text><text class="cc" transform="translate(477.20 29.40) rotate(57.0)" text-anchor="middle" dy="2.05">160</text>
<text class="clh" transform="translate(477.00 84.40) rotate(80.0)" text-anchor="middle" dy="2.05">60</text><text class="cc" transform="translate(477.00 84.40) rotate(80.0)" text-anchor="middle" dy="2.05">60</text>
<text class="clh" transform="translate(482.30 77.60) rotate(76.0)" text-anchor="middle" dy="2.05">80</text><text class="cc" transform="translate(482.30 77.60) rotate(76.0)" text-anchor="middle" dy="2.05">80</text>
<text class="clh" transform="translate(488.00 76.60) rotate(75.0)" text-anchor="middle" dy="2.05">100</text><text class="cc" transform="translate(488.00 76.60) rotate(75.0)" text-anchor="middle" dy="2.05">100</text>
<text class="clh" transform="translate(493.30 77.20) rotate(76.0)" text-anchor="middle" dy="2.05">120</text><text class="cc" transform="translate(493.30 77.20) rotate(76.0)" text-anchor="middle" dy="2.05">120</text>
<text class="clh" transform="translate(500.50 78.30) rotate(72.0)" text-anchor="middle" dy="2.05">140</text><text class="cc" transform="translate(500.50 78.30) rotate(72.0)" text-anchor="middle" dy="2.05">140</text>
<text class="cmh" transform="translate(529.80 27.50) rotate(60.0)" text-anchor="middle" dy="2.05">700</text><text class="cc" transform="translate(529.80 27.50) rotate(60.0)" text-anchor="middle" dy="2.05">700</text>
<text class="cmh" transform="translate(531.07 29.13) rotate(60.7)" text-anchor="middle" dy="2.05">680</text><text class="cc" transform="translate(531.07 29.13) rotate(60.7)" text-anchor="middle" dy="2.05">680</text>
<text class="cmh" transform="translate(529.14 30.76) rotate(61.3)" text-anchor="middle" dy="2.05">660</text><text class="cc" transform="translate(529.14 30.76) rotate(61.3)" text-anchor="middle" dy="2.05">660</text>
<text class="cmh" transform="translate(530.42 32.39) rotate(62.0)" text-anchor="middle" dy="2.05">640</text><text class="cc" transform="translate(530.42 32.39) rotate(62.0)" text-anchor="middle" dy="2.05">640</text>
<text class="cmh" transform="translate(528.51 34.02) rotate(62.7)" text-anchor="middle" dy="2.05">620</text><text class="cc" transform="translate(528.51 34.02) rotate(62.7)" text-anchor="middle" dy="2.05">620</text>
<text class="cmh" transform="translate(529.82 35.65) rotate(63.3)" text-anchor="middle" dy="2.05">600</text><text class="cc" transform="translate(529.82 35.65) rotate(63.3)" text-anchor="middle" dy="2.05">600</text>
<text class="cmh" transform="translate(527.94 37.28) rotate(64.0)" text-anchor="middle" dy="2.05">580</text><text class="cc" transform="translate(527.94 37.28) rotate(64.0)" text-anchor="middle" dy="2.05">580</text>
<text class="cmh" transform="translate(529.29 38.91) rotate(64.7)" text-anchor="middle" dy="2.05">560</text><text class="cc" transform="translate(529.29 38.91) rotate(64.7)" text-anchor="middle" dy="2.05">560</text>
<text class="cmh" transform="translate(527.47 40.54) rotate(65.3)" text-anchor="middle" dy="2.05">540</text><text class="cc" transform="translate(527.47 40.54) rotate(65.3)" text-anchor="middle" dy="2.05">540</text>
<text class="cmh" transform="translate(528.88 42.17) rotate(66.0)" text-anchor="middle" dy="2.05">520</text><text class="cc" transform="translate(528.88 42.17) rotate(66.0)" text-anchor="middle" dy="2.05">520</text>
<text class="cmh" transform="translate(527.11 43.80) rotate(66.7)" text-anchor="middle" dy="2.05">500</text><text class="cc" transform="translate(527.11 43.80) rotate(66.7)" text-anchor="middle" dy="2.05">500</text>
<text class="cmh" transform="translate(528.58 45.43) rotate(67.3)" text-anchor="middle" dy="2.05">480</text><text class="cc" transform="translate(528.58 45.43) rotate(67.3)" text-anchor="middle" dy="2.05">480</text>
<text class="cmh" transform="translate(526.88 47.06) rotate(68.0)" text-anchor="middle" dy="2.05">460</text><text class="cc" transform="translate(526.88 47.06) rotate(68.0)" text-anchor="middle" dy="2.05">460</text>
<text class="cmh" transform="translate(528.42 48.69) rotate(68.7)" text-anchor="middle" dy="2.05">440</text><text class="cc" transform="translate(528.42 48.69) rotate(68.7)" text-anchor="middle" dy="2.05">440</text>
<text class="cmh" transform="translate(526.80 50.31) rotate(69.3)" text-anchor="middle" dy="2.05">420</text><text class="cc" transform="translate(526.80 50.31) rotate(69.3)" text-anchor="middle" dy="2.05">420</text>
<text class="cmh" transform="translate(528.41 51.94) rotate(70.0)" text-anchor="middle" dy="2.05">400</text><text class="cc" transform="translate(528.41 51.94) rotate(70.0)" text-anchor="middle" dy="2.05">400</text>
<text class="cmh" transform="translate(526.86 53.57) rotate(70.7)" text-anchor="middle" dy="2.05">380</text><text class="cc" transform="translate(526.86 53.57) rotate(70.7)" text-anchor="middle" dy="2.05">380</text>
<text class="cmh" transform="translate(528.55 55.20) rotate(71.3)" text-anchor="middle" dy="2.05">360</text><text class="cc" transform="translate(528.55 55.20) rotate(71.3)" text-anchor="middle" dy="2.05">360</text>
<text class="cmh" transform="translate(527.07 56.83) rotate(72.0)" text-anchor="middle" dy="2.05">340</text><text class="cc" transform="translate(527.07 56.83) rotate(72.0)" text-anchor="middle" dy="2.05">340</text>
<text class="cmh" transform="translate(528.83 58.46) rotate(72.7)" text-anchor="middle" dy="2.05">320</text><text class="cc" transform="translate(528.83 58.46) rotate(72.7)" text-anchor="middle" dy="2.05">320</text>
<text class="cmh" transform="translate(527.41 60.09) rotate(73.3)" text-anchor="middle" dy="2.05">300</text><text class="cc" transform="translate(527.41 60.09) rotate(73.3)" text-anchor="middle" dy="2.05">300</text>
<text class="cmh" transform="translate(529.23 61.72) rotate(74.0)" text-anchor="middle" dy="2.05">280</text><text class="cc" transform="translate(529.23 61.72) rotate(74.0)" text-anchor="middle" dy="2.05">280</text>
<text class="cmh" transform="translate(527.87 63.35) rotate(74.7)" text-anchor="middle" dy="2.05">260</text><text class="cc" transform="translate(527.87 63.35) rotate(74.7)" text-anchor="middle" dy="2.05">260</text>
<text class="cmh" transform="translate(529.74 64.98) rotate(75.3)" text-anchor="middle" dy="2.05">240</text><text class="cc" transform="translate(529.74 64.98) rotate(75.3)" text-anchor="middle" dy="2.05">240</text>
<text class="cmh" transform="translate(528.43 66.61) rotate(76.0)" text-anchor="middle" dy="2.05">220</text><text class="cc" transform="translate(528.43 66.61) rotate(76.0)" text-anchor="middle" dy="2.05">220</text>
<text class="cmh" transform="translate(530.33 68.24) rotate(76.7)" text-anchor="middle" dy="2.05">200</text><text class="cc" transform="translate(530.33 68.24) rotate(76.7)" text-anchor="middle" dy="2.05">200</text>
<text class="cmh" transform="translate(529.05 69.87) rotate(77.3)" text-anchor="middle" dy="2.05">180</text><text class="cc" transform="translate(529.05 69.87) rotate(77.3)" text-anchor="middle" dy="2.05">180</text>
<text class="cmh" transform="translate(530.98 71.50) rotate(78.0)" text-anchor="middle" dy="2.05">160</text><text class="cc" transform="translate(530.98 71.50) rotate(78.0)" text-anchor="middle" dy="2.05">160</text>
<text class="clh" transform="translate(528.70 86.00) rotate(55.0)" text-anchor="middle" dy="2.05">140</text><text class="cc" transform="translate(528.70 86.00) rotate(55.0)" text-anchor="middle" dy="2.05">140</text>
<rect class="ax" x="335.30" y="16.50" width="203.20" height="154.10"/>
<path class="ax" d="M356.14 170.60v-2.0M356.14 16.50v2.0M382.19 170.60v-2.0M382.19 16.50v2.0M408.24 170.60v-2.0M408.24 16.50v2.0M434.29 170.60v-2.0M434.29 16.50v2.0M460.35 170.60v-2.0M460.35 16.50v2.0M486.40 170.60v-2.0M486.40 16.50v2.0M512.45 170.60v-2.0M512.45 16.50v2.0M538.50 170.60v-2.0M538.50 16.50v2.0M335.30 170.60h2.0M538.50 170.60h-2.0M335.30 138.50h2.0M538.50 138.50h-2.0M335.30 106.39h2.0M538.50 106.39h-2.0M335.30 74.29h2.0M538.50 74.29h-2.0M335.30 42.18h2.0M538.50 42.18h-2.0"/>
<text class="tk" x="356.14" y="182.40" text-anchor="middle">1</text>
<text class="tk" x="382.19" y="182.40" text-anchor="middle">2</text>
<text class="tk" x="408.24" y="182.40" text-anchor="middle">3</text>
<text class="tk" x="434.29" y="182.40" text-anchor="middle">4</text>
<text class="tk" x="460.35" y="182.40" text-anchor="middle">5</text>
<text class="tk" x="486.40" y="182.40" text-anchor="middle">6</text>
<text class="tk" x="512.45" y="182.40" text-anchor="middle">7</text>
<text class="tk" x="538.50" y="182.40" text-anchor="middle">8</text>
<text class="tk" x="332.30" y="173.80" text-anchor="end">0</text>
<text class="tk" x="332.30" y="141.70" text-anchor="end">1</text>
<text class="tk" x="332.30" y="109.59" text-anchor="end">2</text>
<text class="tk" x="332.30" y="77.49" text-anchor="end">3</text>
<text class="tk" x="332.30" y="45.38" text-anchor="end">4</text>
<text class="tk" x="436.90" y="194.70" text-anchor="middle" style="font-size:10px">X/m</text>
<text class="tk" transform="translate(323.40 93.85) rotate(-90)" text-anchor="middle" style="font-size:10px">Y/m</text>
<text class="tk" x="538.10" y="196.80" text-anchor="end" style="font-size:9.4px"><tspan style="font-size:10.5px" dy="0.6">×</tspan><tspan dx="1.2" dy="-0.6">10</tspan><tspan dy="-4.0" dx="0.1" style="font-size:7.6px">5</tspan></text>
<text class="tk" x="336.20" y="14.50" style="font-size:9.4px"><tspan style="font-size:10.5px" dy="0.6">×</tspan><tspan dx="1.2" dy="-0.6">10</tspan><tspan dy="-4.0" dx="0.1" style="font-size:7.6px">5</tspan></text>
<path d="M330.70 109.27L339.90 109.27L335.30 101.27Z" fill="#000"/>
<path d="M429.69 147.80L438.89 147.80L434.29 139.80Z" fill="#000"/>
<path d="M533.90 109.27L543.10 109.27L538.50 101.27Z" fill="#000"/>
<circle cx="376.98" cy="132.07" r="3.9" fill="#000"/>
<circle cx="491.61" cy="132.07" r="3.9" fill="#000"/>
<rect x="464.60" y="141.30" width="71.6" height="27.2" fill="#fff" stroke="#262626" stroke-width="0.6" stroke-opacity=".62"/>
<path d="M468.60 151.69L478.60 151.69L473.60 143.39Z" fill="#000"/>
<circle cx="473.50" cy="160.80" r="4.0" fill="#000"/>
<text class="lg" x="482.20" y="152.30">Transmitter</text>
<text class="lg" x="482.20" y="164.90">Receiver</text>
<text class="cap" x="444.00" y="216.60" text-anchor="middle">(<tspan font-weight="bold">b</tspan>)</text>
</g>
<g id="panel-c">
<clipPath id="clip-c"><rect x="26.40" y="235.15" width="203.20" height="83.47"/></clipPath>
<g clip-path="url(#clip-c)">
<path d="M43.56 235.15L41.42 237.38L38.98 240.27L36.66 243.49L34.55 246.92L32.70 250.54L31.10 254.30L29.74 258.19L28.58 262.20L27.62 266.30L26.82 270.50L26.17 274.79L25.63 279.15L25.54 274.15L26.06 270.28L26.69 266.49L27.45 262.76L28.35 259.12L29.41 255.58L30.66 252.13L32.10 248.79L33.75 245.59L35.61 242.54L37.63 239.69L39.74 237.13L41.57 235.15Z" fill="#1cb8c4" fill-opacity="0.06"/>
<path d="M41.57 235.15L39.74 237.13L37.63 239.69L35.61 242.54L33.75 245.59L32.10 248.79L30.66 252.13L29.41 255.58L28.35 259.12L27.45 262.76L26.69 266.49L26.06 270.28L25.54 274.15L25.41 269.15L25.92 265.78L26.54 262.47L27.26 259.22L28.10 256.05L29.08 252.96L30.22 249.95L31.52 247.04L32.98 244.25L34.61 241.59L36.36 239.11L38.17 236.87L39.72 235.15Z" fill="#23bcb9" fill-opacity="0.07"/>
<path d="M39.72 235.15L38.17 236.87L36.36 239.11L34.61 241.59L32.98 244.25L31.52 247.04L30.22 249.95L29.08 252.96L28.10 256.05L27.26 259.22L26.54 262.47L25.92 265.78L25.41 269.15L25.31 265.15L25.80 262.18L26.38 259.25L27.05 256.39L27.82 253.59L28.72 250.86L29.74 248.21L30.89 245.64L32.18 243.18L33.60 240.83L35.12 238.64L36.67 236.67L38.00 235.15Z" fill="#2ac0ae" fill-opacity="0.07"/>
<path d="M38.00 235.15L36.67 236.67L35.12 238.64L33.60 240.83L32.18 243.18L30.89 245.64L29.74 248.21L28.72 250.86L27.82 253.59L27.05 256.39L26.38 259.25L25.80 262.18L25.31 265.15L25.18 261.15L25.65 258.57L26.19 256.04L26.81 253.56L27.53 251.13L28.34 248.77L29.25 246.47L30.28 244.24L31.41 242.11L32.65 240.08L33.95 238.18L35.28 236.47L36.40 235.15Z" fill="#33c69e" fill-opacity="0.07"/>
<path d="M36.40 235.15L35.28 236.47L33.95 238.18L32.65 240.08L31.41 242.11L30.28 244.24L29.25 246.47L28.34 248.77L27.53 251.13L26.81 253.56L26.19 256.04L25.65 258.57L25.18 261.15L25.15 258.48L25.57 256.17L26.06 253.90L26.61 251.67L27.24 249.49L27.96 247.37L28.76 245.31L29.66 243.31L30.64 241.39L31.70 239.57L32.82 237.87L33.96 236.33L34.91 235.15Z" fill="#48c889" fill-opacity="0.07"/>
<path d="M34.91 235.15L33.96 236.33L32.82 237.87L31.70 239.57L30.64 241.39L29.66 243.31L28.76 245.31L27.96 247.37L27.24 249.49L26.61 251.67L26.06 253.90L25.57 256.17L25.15 258.48L25.11 255.82L25.48 253.77L25.92 251.76L26.41 249.78L26.97 247.85L27.59 245.97L28.29 244.15L29.06 242.38L29.90 240.68L30.81 239.07L31.77 237.56L32.72 236.20L33.53 235.15Z" fill="#65c772" fill-opacity="0.07"/>
<path d="M33.53 235.15L32.72 236.20L31.77 237.56L30.81 239.07L29.90 240.68L29.06 242.38L28.29 244.15L27.59 245.97L26.97 247.85L26.41 249.78L25.92 251.76L25.48 253.77L25.11 255.82L25.03 253.15L25.37 251.37L25.76 249.61L26.19 247.90L26.68 246.22L27.22 244.58L27.82 242.98L28.49 241.45L29.20 239.97L29.97 238.56L30.77 237.25L31.57 236.06L32.24 235.15Z" fill="#82c75a" fill-opacity="0.07"/>
<path d="M32.24 235.15L31.57 236.06L30.77 237.25L29.97 238.56L29.20 239.97L28.49 241.45L27.82 242.98L27.22 244.58L26.68 246.22L26.19 247.90L25.76 249.61L25.37 251.37L25.03 253.15L25.06 251.15L25.35 249.56L25.67 248.01L26.04 246.48L26.45 244.99L26.90 243.53L27.40 242.11L27.95 240.75L28.55 239.43L29.18 238.18L29.84 237.01L30.50 235.96L31.05 235.15Z" fill="#a0c742" fill-opacity="0.07"/>
<path d="M31.05 235.15L30.50 235.96L29.84 237.01L29.18 238.18L28.55 239.43L27.95 240.75L27.40 242.11L26.90 243.53L26.45 244.99L26.04 246.48L25.67 248.01L25.35 249.56L25.06 251.15L25.09 249.15L25.32 247.76L25.59 246.40L25.89 245.06L26.23 243.76L26.60 242.48L27.01 241.24L27.45 240.05L27.93 238.90L28.44 237.80L28.97 236.78L29.49 235.86L29.93 235.15Z" fill="#b8c639" fill-opacity="0.07"/>
<path d="M29.93 235.15L29.49 235.86L28.97 236.78L28.44 237.80L27.93 238.90L27.45 240.05L27.01 241.24L26.60 242.48L26.23 243.76L25.89 245.06L25.59 246.40L25.32 247.76L25.09 249.15L25.14 247.15L25.33 245.96L25.54 244.79L25.78 243.65L26.03 242.53L26.32 241.43L26.63 240.37L26.97 239.35L27.33 238.36L27.72 237.42L28.11 236.55L28.51 235.76L28.83 235.15Z" fill="#cdc539" fill-opacity="0.07"/>
<path d="M28.83 235.15L28.51 235.76L28.11 236.55L27.72 237.42L27.33 238.36L26.97 239.35L26.63 240.37L26.32 241.43L26.03 242.53L25.78 243.65L25.54 244.79L25.33 245.96L25.14 247.15L25.55 245.98L25.66 244.91L25.78 243.85L25.92 242.82L26.07 241.81L26.24 240.82L26.42 239.87L26.62 238.94L26.84 238.05L27.07 237.20L27.30 236.41L27.54 235.70L27.73 235.15Z" fill="#e2c438" fill-opacity="0.07"/>
<path d="M27.73 235.15L27.54 235.70L27.30 236.41L27.07 237.20L26.84 238.05L26.62 238.94L26.42 239.87L26.24 240.82L26.07 241.81L25.92 242.82L25.78 243.85L25.66 244.91L25.55 245.98L23.40 245.98L23.40 235.15Z" fill="#fdd42d" fill-opacity="0.10"/>
<path class="ct" d="M48.00 235.15C47.51 235.63 46.09 236.93 45.05 238.04C44.01 239.15 42.82 240.47 41.76 241.79C40.70 243.11 39.66 244.51 38.71 245.95C37.75 247.39 36.85 248.88 36.02 250.40C35.19 251.92 34.43 253.49 33.72 255.09C33.02 256.68 32.38 258.31 31.80 259.96C31.21 261.61 30.69 263.30 30.21 265.00C29.73 266.71 29.30 268.44 28.91 270.19C28.52 271.94 28.18 273.72 27.87 275.51C27.55 277.30 27.28 279.12 27.03 280.95C26.78 282.78 26.56 284.63 26.36 286.50C26.16 288.37 25.92 291.21 25.84 292.15" stroke="#13afd8"/>
<path class="ct" d="M45.70 235.15C45.28 235.57 44.08 236.71 43.19 237.68C42.30 238.66 41.27 239.82 40.36 240.97C39.44 242.13 38.54 243.36 37.69 244.62C36.85 245.88 36.06 247.19 35.31 248.53C34.57 249.86 33.89 251.24 33.25 252.64C32.61 254.03 32.03 255.46 31.48 256.91C30.94 258.36 30.46 259.84 30.00 261.34C29.55 262.83 29.15 264.35 28.78 265.89C28.40 267.42 28.07 268.98 27.76 270.55C27.46 272.13 27.19 273.72 26.94 275.32C26.69 276.93 26.47 278.56 26.27 280.19C26.07 281.83 25.82 284.32 25.73 285.15" stroke="#16b4cf"/>
<path class="ct" d="M43.56 235.15C43.20 235.52 42.18 236.53 41.42 237.38C40.66 238.23 39.77 239.26 38.98 240.27C38.19 241.29 37.40 242.38 36.66 243.49C35.92 244.59 35.21 245.75 34.55 246.92C33.90 248.10 33.28 249.31 32.70 250.54C32.13 251.77 31.60 253.03 31.10 254.30C30.61 255.58 30.16 256.88 29.74 258.19C29.32 259.51 28.94 260.85 28.58 262.20C28.23 263.55 27.92 264.92 27.62 266.30C27.33 267.69 27.07 269.09 26.82 270.50C26.58 271.92 26.36 273.35 26.17 274.79C25.97 276.23 25.72 278.42 25.63 279.15" stroke="#1cb8c4"/>
<path class="ct" d="M41.57 235.15C41.27 235.48 40.40 236.37 39.74 237.13C39.08 237.88 38.32 238.79 37.63 239.69C36.94 240.59 36.25 241.56 35.61 242.54C34.96 243.52 34.34 244.54 33.75 245.59C33.17 246.63 32.62 247.70 32.10 248.79C31.59 249.88 31.11 250.99 30.66 252.13C30.21 253.26 29.80 254.41 29.41 255.58C29.03 256.74 28.68 257.93 28.35 259.12C28.02 260.32 27.73 261.54 27.45 262.76C27.17 263.99 26.92 265.23 26.69 266.49C26.46 267.74 26.25 269.01 26.06 270.28C25.87 271.56 25.62 273.51 25.54 274.15" stroke="#23bcb9"/>
<path class="ct" d="M39.72 235.15C39.46 235.44 38.73 236.21 38.17 236.87C37.60 237.53 36.95 238.32 36.36 239.11C35.77 239.90 35.17 240.74 34.61 241.59C34.04 242.45 33.50 243.34 32.98 244.25C32.47 245.16 31.98 246.09 31.52 247.04C31.06 247.99 30.62 248.96 30.22 249.95C29.81 250.94 29.44 251.94 29.08 252.96C28.73 253.97 28.41 255.01 28.10 256.05C27.80 257.10 27.52 258.15 27.26 259.22C26.99 260.29 26.76 261.38 26.54 262.47C26.31 263.56 26.11 264.67 25.92 265.78C25.74 266.89 25.50 268.59 25.41 269.15" stroke="#2ac0ae" stroke-opacity="0.72"/>
<path class="ct" d="M38.00 235.15C37.78 235.40 37.15 236.09 36.67 236.67C36.19 237.25 35.63 237.95 35.12 238.64C34.61 239.34 34.09 240.08 33.60 240.83C33.11 241.59 32.64 242.38 32.18 243.18C31.73 243.98 31.30 244.80 30.89 245.64C30.49 246.48 30.10 247.34 29.74 248.21C29.37 249.08 29.04 249.96 28.72 250.86C28.40 251.76 28.10 252.67 27.82 253.59C27.54 254.51 27.29 255.45 27.05 256.39C26.81 257.34 26.58 258.29 26.38 259.25C26.17 260.22 25.98 261.19 25.80 262.18C25.63 263.16 25.40 264.65 25.31 265.15" stroke="#33c69e" stroke-opacity="0.69"/>
<path class="ct" d="M36.40 235.15C36.21 235.37 35.69 235.96 35.28 236.47C34.87 236.97 34.39 237.58 33.95 238.18C33.52 238.78 33.07 239.42 32.65 240.08C32.22 240.73 31.81 241.41 31.41 242.11C31.02 242.80 30.64 243.52 30.28 244.24C29.92 244.97 29.58 245.71 29.25 246.47C28.93 247.22 28.63 247.99 28.34 248.77C28.05 249.54 27.78 250.33 27.53 251.13C27.27 251.93 27.03 252.74 26.81 253.56C26.59 254.38 26.38 255.21 26.19 256.04C25.99 256.88 25.81 257.72 25.65 258.57C25.48 259.42 25.26 260.72 25.18 261.15" stroke="#48c889" stroke-opacity="0.66"/>
<path class="ct" d="M34.91 235.15C34.75 235.35 34.30 235.88 33.96 236.33C33.61 236.79 33.20 237.33 32.82 237.87C32.45 238.41 32.07 238.98 31.70 239.57C31.34 240.16 30.98 240.77 30.64 241.39C30.30 242.02 29.97 242.66 29.66 243.31C29.34 243.96 29.05 244.63 28.76 245.31C28.48 245.98 28.21 246.67 27.96 247.37C27.71 248.07 27.47 248.78 27.24 249.49C27.02 250.21 26.81 250.94 26.61 251.67C26.41 252.41 26.23 253.15 26.06 253.90C25.88 254.65 25.72 255.41 25.57 256.17C25.42 256.93 25.22 258.10 25.15 258.48" stroke="#65c772" stroke-opacity="0.62"/>
<path class="ct" d="M33.53 235.15C33.39 235.32 33.02 235.80 32.72 236.20C32.43 236.60 32.08 237.08 31.77 237.56C31.45 238.04 31.12 238.55 30.81 239.07C30.50 239.59 30.20 240.13 29.90 240.68C29.61 241.23 29.33 241.80 29.06 242.38C28.79 242.96 28.53 243.55 28.29 244.15C28.04 244.74 27.81 245.36 27.59 245.97C27.37 246.59 27.16 247.22 26.97 247.85C26.77 248.49 26.58 249.13 26.41 249.78C26.23 250.43 26.07 251.09 25.92 251.76C25.76 252.42 25.62 253.09 25.48 253.77C25.35 254.44 25.17 255.48 25.11 255.82" stroke="#82c75a" stroke-opacity="0.59"/>
<path class="ct" d="M32.24 235.15C32.13 235.30 31.82 235.71 31.57 236.06C31.33 236.41 31.04 236.83 30.77 237.25C30.51 237.66 30.23 238.11 29.97 238.56C29.71 239.01 29.45 239.49 29.20 239.97C28.96 240.45 28.72 240.94 28.49 241.45C28.26 241.95 28.04 242.46 27.82 242.98C27.61 243.51 27.41 244.04 27.22 244.58C27.03 245.12 26.85 245.66 26.68 246.22C26.51 246.77 26.35 247.33 26.19 247.90C26.04 248.46 25.89 249.03 25.76 249.61C25.62 250.19 25.49 250.78 25.37 251.37C25.25 251.95 25.09 252.85 25.03 253.15" stroke="#a0c742" stroke-opacity="0.56"/>
<path class="ct" d="M31.05 235.15C30.95 235.29 30.70 235.65 30.50 235.96C30.30 236.27 30.06 236.64 29.84 237.01C29.62 237.38 29.40 237.78 29.18 238.18C28.97 238.58 28.75 239.00 28.55 239.43C28.34 239.86 28.14 240.30 27.95 240.75C27.76 241.19 27.58 241.65 27.40 242.11C27.23 242.58 27.06 243.05 26.90 243.53C26.74 244.01 26.59 244.49 26.45 244.99C26.30 245.48 26.17 245.98 26.04 246.48C25.91 246.98 25.79 247.49 25.67 248.01C25.56 248.52 25.45 249.04 25.35 249.56C25.25 250.09 25.11 250.89 25.06 251.15" stroke="#b8c639" stroke-opacity="0.53"/>
<path class="ct" d="M29.93 235.15C29.86 235.27 29.65 235.59 29.49 235.86C29.33 236.13 29.15 236.46 28.97 236.78C28.80 237.10 28.62 237.45 28.44 237.80C28.27 238.16 28.10 238.52 27.93 238.90C27.77 239.27 27.61 239.66 27.45 240.05C27.30 240.44 27.15 240.84 27.01 241.24C26.87 241.65 26.73 242.06 26.60 242.48C26.47 242.90 26.35 243.33 26.23 243.76C26.11 244.19 26.00 244.62 25.89 245.06C25.79 245.50 25.69 245.95 25.59 246.40C25.50 246.85 25.41 247.30 25.32 247.76C25.24 248.22 25.13 248.92 25.09 249.15" stroke="#cdc539" stroke-opacity="0.50"/>
<path class="ct" d="M28.83 235.15C28.78 235.25 28.63 235.53 28.51 235.76C28.39 235.99 28.25 236.27 28.11 236.55C27.98 236.83 27.85 237.12 27.72 237.42C27.59 237.73 27.46 238.04 27.33 238.36C27.21 238.68 27.09 239.01 26.97 239.35C26.85 239.68 26.74 240.03 26.63 240.37C26.52 240.72 26.42 241.08 26.32 241.43C26.22 241.79 26.13 242.16 26.03 242.53C25.94 242.90 25.86 243.27 25.78 243.65C25.69 244.02 25.62 244.41 25.54 244.79C25.47 245.18 25.40 245.57 25.33 245.96C25.27 246.35 25.18 246.95 25.14 247.15" stroke="#e2c438" stroke-opacity="0.46"/>
<path class="ct" d="M27.73 235.15C27.70 235.24 27.61 235.49 27.54 235.70C27.47 235.91 27.38 236.16 27.30 236.41C27.23 236.66 27.14 236.93 27.07 237.20C26.99 237.48 26.91 237.76 26.84 238.05C26.77 238.34 26.69 238.64 26.62 238.94C26.55 239.24 26.49 239.55 26.42 239.87C26.36 240.18 26.30 240.50 26.24 240.82C26.18 241.15 26.13 241.48 26.07 241.81C26.02 242.14 25.97 242.48 25.92 242.82C25.87 243.16 25.83 243.51 25.78 243.85C25.74 244.20 25.70 244.55 25.66 244.91C25.62 245.26 25.57 245.80 25.55 245.98" stroke="#f7c438" stroke-opacity="0.43"/>
<path d="M207.06 235.15L211.25 239.41L215.57 244.93L219.23 251.07L222.13 257.63L224.36 264.53L226.03 271.71L227.26 279.14L228.14 286.79L228.77 294.63L229.22 302.64L229.53 310.82L229.75 319.15L229.76 311.15L229.55 303.61L229.26 296.22L228.84 288.96L228.26 281.87L227.45 274.95L226.35 268.23L224.86 261.73L222.90 255.49L220.37 249.55L217.23 244.00L213.54 239.00L210.00 235.15Z" fill="#1cb8c4" fill-opacity="0.06"/>
<path d="M210.00 235.15L213.54 239.00L217.23 244.00L220.37 249.55L222.90 255.49L224.86 261.73L226.35 268.23L227.45 274.95L228.26 281.87L228.84 288.96L229.26 296.22L229.55 303.61L229.76 311.15L229.77 303.15L229.57 296.41L229.29 289.79L228.91 283.30L228.37 276.95L227.64 270.76L226.65 264.75L225.34 258.93L223.63 253.35L221.46 248.03L218.79 243.07L215.69 238.60L212.74 235.15Z" fill="#23bcb9" fill-opacity="0.07"/>
<path d="M212.74 235.15L215.69 238.60L218.79 243.07L221.46 248.03L223.63 253.35L225.34 258.93L226.65 264.75L227.64 270.76L228.37 276.95L228.91 283.30L229.29 289.79L229.57 296.41L229.77 303.15L229.81 294.15L229.61 288.30L229.33 282.56L228.96 276.93L228.45 271.42L227.78 266.05L226.89 260.83L225.74 255.78L224.26 250.94L222.42 246.33L220.20 242.02L217.66 238.14L215.28 235.15Z" fill="#2ac0ae" fill-opacity="0.07"/>
<path d="M215.28 235.15L217.66 238.14L220.20 242.02L222.42 246.33L224.26 250.94L225.74 255.78L226.89 260.83L227.78 266.05L228.45 271.42L228.96 276.93L229.33 282.56L229.61 288.30L229.81 294.15L229.86 285.15L229.65 280.19L229.38 275.32L229.02 270.55L228.55 265.89L227.93 261.34L227.14 256.91L226.14 252.64L224.88 248.53L223.35 244.62L221.54 240.97L219.52 237.68L217.65 235.15Z" fill="#33c69e" fill-opacity="0.07"/>
<path d="M217.65 235.15L219.52 237.68L221.54 240.97L223.35 244.62L224.88 248.53L226.14 252.64L227.14 256.91L227.93 261.34L228.55 265.89L229.02 270.55L229.38 275.32L229.65 280.19L229.86 285.15L229.87 279.15L229.68 274.79L229.44 270.50L229.13 266.30L228.72 262.20L228.20 258.19L227.53 254.30L226.70 250.54L225.67 246.92L224.42 243.49L222.96 240.27L221.33 237.38L219.85 235.15Z" fill="#48c889" fill-opacity="0.07"/>
<path d="M219.85 235.15L221.33 237.38L222.96 240.27L224.42 243.49L225.67 246.92L226.70 250.54L227.53 254.30L228.20 258.19L228.72 262.20L229.13 266.30L229.44 270.50L229.68 274.79L229.87 279.15L229.88 273.15L229.72 269.38L229.51 265.68L229.24 262.06L228.90 258.51L228.46 255.05L227.92 251.69L227.24 248.44L226.41 245.32L225.43 242.35L224.29 239.58L223.03 237.08L221.89 235.15Z" fill="#65c772" fill-opacity="0.07"/>
<path d="M221.89 235.15L223.03 237.08L224.29 239.58L225.43 242.35L226.41 245.32L227.24 248.44L227.92 251.69L228.46 255.05L228.90 258.51L229.24 262.06L229.51 265.68L229.72 269.38L229.88 273.15L229.90 267.15L229.76 263.98L229.58 260.86L229.36 257.81L229.08 254.82L228.73 251.91L228.30 249.08L227.77 246.34L227.14 243.71L226.40 241.21L225.54 238.88L224.62 236.77L223.79 235.15Z" fill="#82c75a" fill-opacity="0.07"/>
<path d="M223.79 235.15L224.62 236.77L225.54 238.88L226.40 241.21L227.14 243.71L227.77 246.34L228.30 249.08L228.73 251.91L229.08 254.82L229.36 257.81L229.58 260.86L229.76 263.98L229.90 267.15L229.86 262.82L229.76 260.07L229.63 257.38L229.47 254.74L229.27 252.16L229.02 249.64L228.71 247.19L228.33 244.83L227.89 242.55L227.37 240.39L226.77 238.37L226.14 236.55L225.56 235.15Z" fill="#a0c742" fill-opacity="0.07"/>
<path d="M225.56 235.15L226.14 236.55L226.77 238.37L227.37 240.39L227.89 242.55L228.33 244.83L228.71 247.19L229.02 249.64L229.27 252.16L229.47 254.74L229.63 257.38L229.76 260.07L229.86 262.82L229.81 258.48L229.74 256.17L229.66 253.90L229.56 251.67L229.43 249.49L229.28 247.37L229.09 245.31L228.86 243.31L228.59 241.39L228.28 239.57L227.92 237.87L227.55 236.33L227.21 235.15Z" fill="#b8c639" fill-opacity="0.07"/>
<path d="M227.21 235.15L227.55 236.33L227.92 237.87L228.28 239.57L228.59 241.39L228.86 243.31L229.09 245.31L229.28 247.37L229.43 249.49L229.56 251.67L229.66 253.90L229.74 256.17L229.81 258.48L229.71 254.15L229.68 252.27L229.65 250.42L229.61 248.60L229.56 246.83L229.50 245.10L229.43 243.42L229.34 241.80L229.24 240.23L229.13 238.75L229.00 237.36L228.86 236.11L228.74 235.15Z" fill="#cdc539" fill-opacity="0.07"/>
<path d="M228.74 235.15L228.86 236.11L229.00 237.36L229.13 238.75L229.24 240.23L229.34 241.80L229.43 243.42L229.50 245.10L229.56 246.83L229.61 248.60L229.65 250.42L229.68 252.27L229.71 254.15L232.60 254.15L232.60 235.15Z" fill="#fdd42d" fill-opacity="0.10"/>
<path class="ct" d="M200.50 235.15C201.32 235.86 203.71 237.79 205.39 239.42C207.07 241.06 208.96 243.01 210.57 244.96C212.18 246.91 213.71 248.99 215.08 251.11C216.44 253.23 217.67 255.44 218.78 257.69C219.88 259.94 220.85 262.26 221.72 264.62C222.59 266.97 223.33 269.38 224.00 271.82C224.67 274.26 225.23 276.75 225.73 279.27C226.24 281.79 226.66 284.35 227.04 286.94C227.42 289.53 227.73 292.15 228.01 294.80C228.29 297.45 228.51 300.14 228.72 302.84C228.92 305.55 229.09 308.29 229.24 311.05C229.38 313.81 229.55 318.01 229.61 319.40" stroke="#13afd8"/>
<path class="ct" d="M203.90 235.15C204.66 235.86 206.89 237.79 208.43 239.42C209.98 241.06 211.70 243.01 213.17 244.96C214.64 246.91 216.01 248.99 217.23 251.11C218.46 253.23 219.55 255.44 220.52 257.69C221.50 259.94 222.33 262.26 223.09 264.62C223.84 266.97 224.48 269.38 225.05 271.82C225.62 274.26 226.09 276.75 226.51 279.27C226.94 281.79 227.28 284.35 227.59 286.94C227.90 289.53 228.15 292.15 228.38 294.80C228.61 297.45 228.78 300.14 228.95 302.84C229.11 305.55 229.24 308.29 229.35 311.05C229.47 313.81 229.59 318.01 229.64 319.40" stroke="#16b4cf"/>
<path class="ct" d="M207.06 235.15C207.76 235.86 209.83 237.78 211.25 239.41C212.67 241.04 214.24 242.99 215.57 244.93C216.90 246.88 218.13 248.95 219.23 251.07C220.32 253.18 221.27 255.38 222.13 257.63C222.99 259.87 223.71 262.18 224.36 264.53C225.01 266.88 225.55 269.28 226.03 271.71C226.51 274.15 226.90 276.63 227.26 279.14C227.61 281.66 227.89 284.21 228.14 286.79C228.39 289.37 228.59 291.98 228.77 294.63C228.95 297.27 229.09 299.94 229.22 302.64C229.35 305.34 229.44 308.07 229.53 310.82C229.62 313.57 229.71 317.76 229.75 319.15" stroke="#1cb8c4"/>
<path class="ct" d="M210.00 235.15C210.59 235.79 212.34 237.53 213.54 239.00C214.75 240.48 216.09 242.24 217.23 244.00C218.37 245.76 219.43 247.64 220.37 249.55C221.32 251.46 222.15 253.46 222.90 255.49C223.65 257.52 224.29 259.61 224.86 261.73C225.43 263.85 225.91 266.03 226.35 268.23C226.78 270.43 227.13 272.68 227.45 274.95C227.77 277.23 228.02 279.54 228.26 281.87C228.49 284.21 228.67 286.57 228.84 288.96C229.01 291.35 229.14 293.77 229.26 296.22C229.37 298.66 229.47 301.13 229.55 303.61C229.63 306.10 229.72 309.89 229.76 311.15" stroke="#23bcb9"/>
<path class="ct" d="M212.74 235.15C213.23 235.72 214.68 237.28 215.69 238.60C216.70 239.92 217.82 241.50 218.79 243.07C219.75 244.64 220.65 246.32 221.46 248.03C222.27 249.75 222.98 251.53 223.63 253.35C224.28 255.16 224.84 257.03 225.34 258.93C225.84 260.83 226.27 262.78 226.65 264.75C227.03 266.72 227.35 268.73 227.64 270.76C227.92 272.80 228.16 274.86 228.37 276.95C228.58 279.04 228.75 281.16 228.91 283.30C229.06 285.44 229.18 287.60 229.29 289.79C229.41 291.97 229.49 294.18 229.57 296.41C229.65 298.64 229.74 302.03 229.77 303.15" stroke="#2ac0ae" stroke-opacity="0.72"/>
<path class="ct" d="M215.28 235.15C215.68 235.65 216.84 237.00 217.66 238.14C218.48 239.29 219.41 240.66 220.20 242.02C220.99 243.39 221.74 244.84 222.42 246.33C223.10 247.81 223.71 249.36 224.26 250.94C224.82 252.51 225.30 254.14 225.74 255.78C226.18 257.43 226.55 259.12 226.89 260.83C227.23 262.54 227.52 264.28 227.78 266.05C228.04 267.81 228.26 269.61 228.45 271.42C228.65 273.23 228.81 275.07 228.96 276.93C229.10 278.78 229.22 280.66 229.33 282.56C229.44 284.45 229.53 286.37 229.61 288.30C229.69 290.23 229.77 293.18 229.81 294.15" stroke="#33c69e" stroke-opacity="0.69"/>
<path class="ct" d="M217.65 235.15C217.96 235.57 218.87 236.71 219.52 237.68C220.17 238.66 220.90 239.82 221.54 240.97C222.18 242.13 222.80 243.36 223.35 244.62C223.91 245.88 224.42 247.19 224.88 248.53C225.35 249.86 225.76 251.24 226.14 252.64C226.51 254.03 226.84 255.46 227.14 256.91C227.44 258.36 227.70 259.84 227.93 261.34C228.17 262.83 228.36 264.35 228.55 265.89C228.73 267.42 228.88 268.98 229.02 270.55C229.16 272.13 229.27 273.72 229.38 275.32C229.48 276.93 229.57 278.56 229.65 280.19C229.73 281.83 229.82 284.32 229.86 285.15" stroke="#48c889" stroke-opacity="0.66"/>
<path class="ct" d="M219.85 235.15C220.09 235.52 220.82 236.53 221.33 237.38C221.85 238.23 222.44 239.26 222.96 240.27C223.47 241.29 223.97 242.38 224.42 243.49C224.87 244.59 225.29 245.75 225.67 246.92C226.05 248.10 226.39 249.31 226.70 250.54C227.01 251.77 227.28 253.03 227.53 254.30C227.78 255.58 228.00 256.88 228.20 258.19C228.40 259.51 228.57 260.85 228.72 262.20C228.88 263.55 229.01 264.92 229.13 266.30C229.25 267.69 229.35 269.09 229.44 270.50C229.54 271.92 229.61 273.35 229.68 274.79C229.75 276.23 229.84 278.42 229.87 279.15" stroke="#65c772" stroke-opacity="0.62"/>
<path class="ct" d="M221.89 235.15C222.08 235.47 222.63 236.34 223.03 237.08C223.43 237.81 223.89 238.70 224.29 239.58C224.69 240.45 225.07 241.39 225.43 242.35C225.78 243.31 226.11 244.30 226.41 245.32C226.72 246.33 226.99 247.38 227.24 248.44C227.49 249.50 227.71 250.59 227.92 251.69C228.12 252.79 228.30 253.91 228.46 255.05C228.63 256.19 228.77 257.34 228.90 258.51C229.03 259.68 229.14 260.86 229.24 262.06C229.34 263.25 229.43 264.46 229.51 265.68C229.59 266.90 229.66 268.14 229.72 269.38C229.78 270.63 229.85 272.52 229.88 273.15" stroke="#82c75a" stroke-opacity="0.59"/>
<path class="ct" d="M223.79 235.15C223.93 235.42 224.33 236.15 224.62 236.77C224.92 237.39 225.25 238.14 225.54 238.88C225.84 239.62 226.13 240.41 226.40 241.21C226.66 242.02 226.91 242.86 227.14 243.71C227.37 244.57 227.58 245.45 227.77 246.34C227.96 247.24 228.14 248.15 228.30 249.08C228.46 250.01 228.60 250.95 228.73 251.91C228.86 252.87 228.97 253.84 229.08 254.82C229.18 255.80 229.27 256.80 229.36 257.81C229.44 258.81 229.52 259.83 229.58 260.86C229.65 261.89 229.71 262.93 229.76 263.98C229.81 265.03 229.87 266.62 229.90 267.15" stroke="#a0c742" stroke-opacity="0.56"/>
<path class="ct" d="M225.56 235.15C225.66 235.38 225.93 236.02 226.14 236.55C226.34 237.09 226.57 237.73 226.77 238.37C226.98 239.01 227.18 239.70 227.37 240.39C227.55 241.09 227.73 241.81 227.89 242.55C228.05 243.29 228.20 244.05 228.33 244.83C228.47 245.60 228.59 246.39 228.71 247.19C228.82 247.99 228.92 248.81 229.02 249.64C229.11 250.47 229.19 251.31 229.27 252.16C229.34 253.01 229.41 253.87 229.47 254.74C229.53 255.61 229.58 256.49 229.63 257.38C229.68 258.27 229.72 259.17 229.76 260.07C229.80 260.98 229.85 262.36 229.86 262.82" stroke="#b8c639" stroke-opacity="0.53"/>
<path class="ct" d="M227.21 235.15C227.27 235.35 227.43 235.88 227.55 236.33C227.67 236.79 227.80 237.33 227.92 237.87C228.05 238.41 228.17 238.98 228.28 239.57C228.39 240.16 228.49 240.77 228.59 241.39C228.69 242.02 228.78 242.66 228.86 243.31C228.94 243.96 229.02 244.63 229.09 245.31C229.16 245.98 229.22 246.67 229.28 247.37C229.33 248.07 229.39 248.78 229.43 249.49C229.48 250.21 229.52 250.94 229.56 251.67C229.60 252.41 229.63 253.15 229.66 253.90C229.69 254.65 229.72 255.41 229.74 256.17C229.77 256.93 229.80 258.10 229.81 258.48" stroke="#cdc539" stroke-opacity="0.50"/>
<path class="ct" d="M228.74 235.15C228.76 235.31 228.82 235.74 228.86 236.11C228.90 236.48 228.95 236.92 229.00 237.36C229.04 237.80 229.09 238.27 229.13 238.75C229.17 239.23 229.21 239.73 229.24 240.23C229.28 240.74 229.31 241.26 229.34 241.80C229.38 242.33 229.40 242.87 229.43 243.42C229.46 243.97 229.48 244.53 229.50 245.10C229.52 245.67 229.54 246.25 229.56 246.83C229.58 247.41 229.60 248.01 229.61 248.60C229.63 249.20 229.64 249.81 229.65 250.42C229.66 251.03 229.67 251.64 229.68 252.27C229.69 252.89 229.71 253.84 229.71 254.15" stroke="#e2c438" stroke-opacity="0.46"/>
<path class="ct" d="M113.30 319.40C112.75 319.17 111.85 318.60 110.00 318.00C108.15 317.40 104.80 316.45 102.20 315.80C99.60 315.15 96.17 314.93 94.40 314.10C92.63 313.27 91.97 312.08 91.60 310.80C91.23 309.52 91.55 308.07 92.20 306.40C92.85 304.73 94.12 302.65 95.50 300.80C96.88 298.95 98.83 296.95 100.50 295.30C102.17 293.65 103.37 292.20 105.50 290.90C107.63 289.60 110.33 288.28 113.30 287.50C116.27 286.72 120.70 286.38 123.30 286.20C125.90 286.02 126.50 286.08 128.90 286.40C131.30 286.72 134.75 287.17 137.70 288.10C140.65 289.03 143.82 290.43 146.60 292.00C149.38 293.57 152.17 295.47 154.40 297.50C156.63 299.53 158.62 302.17 160.00 304.20C161.38 306.23 162.43 308.23 162.70 309.70C162.97 311.17 162.43 312.17 161.60 313.00C160.77 313.83 159.55 314.18 157.70 314.70C155.85 315.22 153.08 315.73 150.50 316.10C147.92 316.47 144.52 316.35 142.20 316.90C139.88 317.45 137.53 318.98 136.60 319.40" stroke="#3e26a8"/>
<path class="ct" d="M75.60 319.40C75.87 317.60 76.42 312.25 77.20 308.60C77.98 304.95 79.25 300.83 80.30 297.50C81.35 294.17 82.25 291.37 83.50 288.60C84.75 285.83 86.35 283.33 87.80 280.90C89.25 278.47 90.35 276.25 92.20 274.00C94.05 271.75 96.68 269.33 98.90 267.40C101.12 265.47 103.28 263.80 105.50 262.40C107.72 261.00 109.62 259.93 112.20 259.00C114.78 258.07 118.03 257.17 121.00 256.80C123.97 256.43 127.50 256.60 130.00 256.80C132.50 257.00 133.88 257.43 136.00 258.00C138.12 258.57 140.48 259.10 142.70 260.20C144.92 261.30 147.00 262.75 149.30 264.60C151.60 266.45 154.22 268.93 156.50 271.30C158.78 273.67 160.77 275.92 163.00 278.80C165.23 281.68 168.10 285.30 169.90 288.60C171.70 291.90 172.68 295.27 173.80 298.60C174.92 301.93 175.87 305.13 176.60 308.60C177.33 312.07 177.93 317.60 178.20 319.40" stroke="#4135c1"/>
<path class="ct" d="M67.80 319.40C68.00 317.60 68.20 312.33 69.00 308.60C69.80 304.87 71.42 300.70 72.60 297.00C73.78 293.30 74.78 289.57 76.10 286.40C77.42 283.23 79.08 280.82 80.50 278.00C81.92 275.18 82.83 272.75 84.60 269.50C86.37 266.25 88.72 261.82 91.10 258.50C93.48 255.18 96.13 252.18 98.90 249.60C101.67 247.02 104.75 244.72 107.70 243.00C110.65 241.28 113.63 240.13 116.60 239.30C119.57 238.47 122.60 237.98 125.50 238.00C128.40 238.02 131.13 238.67 134.00 239.40C136.87 240.13 140.15 241.15 142.70 242.40C145.25 243.65 147.08 244.97 149.30 246.90C151.52 248.83 153.97 251.32 156.00 254.00C158.03 256.68 159.75 259.92 161.50 263.00C163.25 266.08 164.75 269.58 166.50 272.50C168.25 275.42 170.33 277.75 172.00 280.50C173.67 283.25 175.25 286.25 176.50 289.00C177.75 291.75 178.53 294.17 179.50 297.00C180.47 299.83 181.57 303.15 182.30 306.00C183.03 308.85 183.63 311.87 183.90 314.10C184.17 316.33 183.90 318.52 183.90 319.40" stroke="#4443da"/>
<path class="ct" d="M62.30 319.40C62.30 317.60 61.93 312.07 62.30 308.60C62.67 305.13 63.48 301.93 64.50 298.60C65.52 295.27 66.82 291.92 68.40 288.60C69.98 285.28 72.50 281.55 74.00 278.70C75.50 275.85 76.32 273.82 77.40 271.50C78.48 269.18 79.15 267.15 80.50 264.80C81.85 262.45 83.73 259.60 85.50 257.40C87.27 255.20 89.25 253.63 91.10 251.60C92.95 249.57 94.75 247.18 96.60 245.20C98.45 243.22 100.50 241.47 102.20 239.70C103.90 237.93 106.03 235.45 106.80 234.60" stroke="#4751f3"/>
<path class="ct" d="M147.10 234.60C148.02 235.82 150.57 239.22 152.60 241.90C154.63 244.58 157.07 247.38 159.30 250.70C161.53 254.02 163.92 258.33 166.00 261.80C168.08 265.27 169.97 268.55 171.80 271.50C173.63 274.45 175.38 276.83 177.00 279.50C178.62 282.17 180.17 284.87 181.50 287.50C182.83 290.13 183.95 292.52 185.00 295.30C186.05 298.08 187.15 301.43 187.80 304.20C188.45 306.97 188.72 309.37 188.90 311.90C189.08 314.43 188.90 318.15 188.90 319.40" stroke="#4751f3"/>
<path class="ct" d="M54.50 319.40C54.55 317.05 54.33 309.13 54.80 305.30C55.27 301.47 56.15 299.55 57.30 296.40C58.45 293.25 60.03 289.55 61.70 286.40C63.37 283.25 65.82 279.90 67.30 277.50C68.78 275.10 69.32 274.08 70.60 272.00C71.88 269.92 73.43 267.43 75.00 265.00C76.57 262.57 78.05 260.15 80.00 257.40C81.95 254.65 84.48 251.08 86.70 248.50C88.92 245.92 91.27 243.93 93.30 241.90C95.33 239.87 97.75 237.52 98.90 236.30C100.05 235.08 99.98 234.88 100.20 234.60" stroke="#3e65f5"/>
<path class="ct" d="M152.60 234.60C153.53 235.82 156.17 239.22 158.20 241.90C160.23 244.58 162.58 247.38 164.80 250.70C167.02 254.02 169.38 258.25 171.50 261.80C173.62 265.35 175.67 268.97 177.50 272.00C179.33 275.03 180.83 277.33 182.50 280.00C184.17 282.67 186.00 285.50 187.50 288.00C189.00 290.50 190.32 292.42 191.50 295.00C192.68 297.58 193.83 300.67 194.60 303.50C195.37 306.33 195.95 309.35 196.10 312.00C196.25 314.65 195.60 318.17 195.50 319.40" stroke="#3e65f5"/>
<path class="ct" d="M27.20 319.40C27.32 318.90 27.60 318.20 27.90 316.40C28.20 314.60 28.35 311.20 29.00 308.60C29.65 306.00 30.70 302.65 31.80 300.80C32.90 298.95 34.22 297.97 35.60 297.50C36.98 297.03 38.93 297.48 40.10 298.00C41.27 298.52 41.87 299.30 42.60 300.60C43.33 301.90 44.37 303.73 44.50 305.80C44.63 307.87 44.23 310.73 43.40 313.00C42.57 315.27 40.15 318.33 39.50 319.40" stroke="#3e65f5"/>
<path class="ct" d="M212.70 319.40C212.15 318.72 210.13 317.10 209.40 315.30C208.67 313.50 208.12 311.02 208.30 308.60C208.48 306.18 209.58 302.73 210.50 300.80C211.42 298.87 212.60 297.63 213.80 297.00C215.00 296.37 216.32 295.80 217.70 297.00C219.08 298.20 220.72 301.90 222.10 304.20C223.48 306.50 224.98 308.77 226.00 310.80C227.02 312.83 227.68 314.97 228.20 316.40C228.72 317.83 228.95 318.90 229.10 319.40" stroke="#3e65f5"/>
<path class="ct" d="M198.60 319.40C199.08 318.92 200.52 317.13 201.50 316.50C202.48 315.87 203.58 315.62 204.50 315.60C205.42 315.58 206.58 316.27 207.00 316.40" stroke="#3e65f5"/>
<path class="ct" d="M30.20 319.40C30.33 319.00 30.72 317.00 31.00 317.00C31.28 317.00 31.75 319.00 31.90 319.40" stroke="#3e65f5"/>
<circle cx="47.3" cy="318" r="0.6" fill="#3e65f5" fill-opacity=".6"/>
<circle cx="223.8" cy="317.5" r="0.6" fill="#3e65f5" fill-opacity=".6"/>
<path class="ct" d="M26.00 285.20C26.13 285.03 26.02 285.10 26.80 284.20C27.58 283.30 29.13 281.10 30.70 279.80C32.27 278.50 34.37 277.15 36.20 276.40C38.03 275.65 39.85 275.33 41.70 275.30C43.55 275.27 45.25 275.73 47.30 276.20C49.35 276.67 52.15 277.97 54.00 278.10C55.85 278.23 56.93 277.78 58.40 277.00C59.87 276.22 61.40 274.63 62.80 273.40C64.20 272.17 65.32 271.17 66.80 269.60C68.28 268.03 69.92 266.10 71.70 264.00C73.48 261.90 75.70 259.25 77.50 257.00C79.30 254.75 80.83 252.75 82.50 250.50C84.17 248.25 86.00 245.58 87.50 243.50C89.00 241.42 90.45 239.48 91.50 238.00C92.55 236.52 93.42 235.17 93.80 234.60" stroke="#347af6"/>
<path class="ct" d="M159.30 234.60C160.03 235.63 161.95 238.67 163.70 240.80C165.45 242.93 167.92 245.12 169.80 247.40C171.68 249.68 173.40 252.15 175.00 254.50C176.60 256.85 177.73 258.88 179.40 261.50C181.07 264.12 183.15 267.85 185.00 270.20C186.85 272.55 188.47 274.30 190.50 275.60C192.53 276.90 194.98 277.80 197.20 278.00C199.42 278.20 201.77 277.10 203.80 276.80C205.83 276.50 207.73 275.92 209.40 276.20C211.07 276.48 212.28 277.12 213.80 278.50C215.32 279.88 217.02 282.25 218.50 284.50C219.98 286.75 221.45 289.47 222.70 292.00C223.95 294.53 225.07 297.03 226.00 299.70C226.93 302.37 227.75 305.28 228.30 308.00C228.85 310.72 229.13 314.67 229.30 316.00" stroke="#347af6"/>
<path class="ct" d="M26.00 296.00C26.13 295.33 26.37 294.17 26.80 292.00C27.23 289.83 27.73 286.25 28.60 283.00C29.47 279.75 30.68 275.42 32.00 272.50C33.32 269.58 35.00 267.55 36.50 265.50C38.00 263.45 39.20 261.68 41.00 260.20C42.80 258.72 45.22 257.23 47.30 256.60C49.38 255.97 51.55 256.18 53.50 256.40C55.45 256.62 57.08 257.87 59.00 257.90C60.92 257.93 62.80 257.60 65.00 256.60C67.20 255.60 69.98 253.80 72.20 251.90C74.42 250.00 76.30 247.43 78.30 245.20C80.30 242.97 82.67 240.27 84.20 238.50C85.73 236.73 86.95 235.25 87.50 234.60" stroke="#2a8df2"/>
<path class="ct" d="M165.40 234.60C166.42 235.82 169.90 240.13 171.50 241.90C173.10 243.67 173.50 243.73 175.00 245.20C176.50 246.67 178.65 249.03 180.50 250.70C182.35 252.37 184.07 254.08 186.10 255.20C188.13 256.32 190.48 257.13 192.70 257.40C194.92 257.67 197.35 256.70 199.40 256.80C201.45 256.90 203.15 257.17 205.00 258.00C206.85 258.83 208.85 260.23 210.50 261.80C212.15 263.37 213.60 265.37 214.90 267.40C216.20 269.43 217.20 271.40 218.30 274.00C219.40 276.60 220.42 279.83 221.50 283.00C222.58 286.17 223.80 289.67 224.80 293.00C225.80 296.33 226.77 299.67 227.50 303.00C228.23 306.33 228.78 310.50 229.20 313.00C229.62 315.50 229.87 317.17 230.00 318.00" stroke="#2a8df2"/>
<path class="ct" d="M26.00 284.00C26.13 283.50 26.22 282.83 26.80 281.00C27.38 279.17 28.38 275.67 29.50 273.00C30.62 270.33 32.00 267.67 33.50 265.00C35.00 262.33 36.68 259.55 38.50 257.00C40.32 254.45 42.45 251.88 44.40 249.70C46.35 247.52 48.52 245.25 50.20 243.90C51.88 242.55 52.58 241.85 54.50 241.60C56.42 241.35 59.02 242.45 61.70 242.40C64.38 242.35 68.20 241.95 70.60 241.30C73.00 240.65 74.48 239.62 76.10 238.50C77.72 237.38 79.60 235.25 80.30 234.60" stroke="#1f9de6"/>
<path class="ct" d="M174.00 234.60C174.68 235.10 176.48 236.60 178.10 237.60C179.72 238.60 181.72 239.90 183.70 240.60C185.68 241.30 187.75 241.50 190.00 241.80C192.25 242.10 194.90 241.65 197.20 242.40C199.50 243.15 201.77 244.72 203.80 246.30C205.83 247.88 207.73 249.87 209.40 251.90C211.07 253.93 212.52 256.10 213.80 258.50C215.08 260.90 215.98 263.38 217.10 266.30C218.22 269.22 219.35 272.38 220.50 276.00C221.65 279.62 222.92 284.17 224.00 288.00C225.08 291.83 226.12 295.33 227.00 299.00C227.88 302.67 228.80 307.17 229.30 310.00C229.80 312.83 229.88 315.00 230.00 316.00" stroke="#1f9de6"/>
<path class="ct" d="M26.00 279.00C26.10 278.50 26.27 277.42 26.60 276.00C26.93 274.58 27.35 272.33 28.00 270.50C28.65 268.67 29.35 267.25 30.50 265.00C31.65 262.75 33.32 259.42 34.90 257.00C36.48 254.58 38.30 252.43 40.00 250.50C41.70 248.57 43.52 247.23 45.10 245.40C46.68 243.57 48.32 241.30 49.50 239.50C50.68 237.70 51.75 235.42 52.20 234.60" stroke="#19a6df"/>
</g>
<text class="clh" transform="translate(61.70 242.50) rotate(0.0)" text-anchor="middle" dy="2.05">180</text><text class="cc" transform="translate(61.70 242.50) rotate(0.0)" text-anchor="middle" dy="2.05">180</text>
<text class="clh" transform="translate(72.20 251.90) rotate(-45.0)" text-anchor="middle" dy="2.05">160</text><text class="cc" transform="translate(72.20 251.90) rotate(-45.0)" text-anchor="middle" dy="2.05">160</text>
<text class="clh" transform="translate(78.30 256.60) rotate(-50.0)" text-anchor="middle" dy="2.05">140</text><text class="cc" transform="translate(78.30 256.60) rotate(-50.0)" text-anchor="middle" dy="2.05">140</text>
<text class="clh" transform="translate(85.90 253.80) rotate(-52.0)" text-anchor="middle" dy="2.05">120</text><text class="cc" transform="translate(85.90 253.80) rotate(-52.0)" text-anchor="middle" dy="2.05">120</text>
<text class="clh" transform="translate(91.00 252.40) rotate(-52.0)" text-anchor="middle" dy="2.05">100</text><text class="cc" transform="translate(91.00 252.40) rotate(-52.0)" text-anchor="middle" dy="2.05">100</text>
<text class="clh" transform="translate(132.10 239.40) rotate(5.0)" text-anchor="middle" dy="2.05">80</text><text class="cc" transform="translate(132.10 239.40) rotate(5.0)" text-anchor="middle" dy="2.05">80</text>
<text class="clh" transform="translate(105.50 262.40) rotate(-40.0)" text-anchor="middle" dy="2.05">60</text><text class="cc" transform="translate(105.50 262.40) rotate(-40.0)" text-anchor="middle" dy="2.05">60</text>
<text class="clh" transform="translate(100.50 295.30) rotate(-42.0)" text-anchor="middle" dy="2.05">40</text><text class="cc" transform="translate(100.50 295.30) rotate(-42.0)" text-anchor="middle" dy="2.05">40</text>
<text class="clh" transform="translate(72.70 297.00) rotate(-74.0)" text-anchor="middle" dy="2.05">80</text><text class="cc" transform="translate(72.70 297.00) rotate(-74.0)" text-anchor="middle" dy="2.05">80</text>
<text class="clh" transform="translate(44.50 305.80) rotate(80.0)" text-anchor="middle" dy="2.05">120</text><text class="cc" transform="translate(44.50 305.80) rotate(80.0)" text-anchor="middle" dy="2.05">120</text>
<text class="clh" transform="translate(150.50 316.10) rotate(-4.0)" text-anchor="middle" dy="2.05">40</text><text class="cc" transform="translate(150.50 316.10) rotate(-4.0)" text-anchor="middle" dy="2.05">40</text>
<text class="clh" transform="translate(173.80 298.60) rotate(84.0)" text-anchor="middle" dy="2.05">60</text><text class="cc" transform="translate(173.80 298.60) rotate(84.0)" text-anchor="middle" dy="2.05">60</text>
<text class="clh" transform="translate(182.80 308.00) rotate(82.0)" text-anchor="middle" dy="2.05">80</text><text class="cc" transform="translate(182.80 308.00) rotate(82.0)" text-anchor="middle" dy="2.05">80</text>
<text class="clh" transform="translate(185.00 295.30) rotate(72.0)" text-anchor="middle" dy="2.05">100</text><text class="cc" transform="translate(185.00 295.30) rotate(72.0)" text-anchor="middle" dy="2.05">100</text>
<text class="clh" transform="translate(192.70 297.00) rotate(72.0)" text-anchor="middle" dy="2.05">120</text><text class="cc" transform="translate(192.70 297.00) rotate(72.0)" text-anchor="middle" dy="2.05">120</text>
<text class="clh" transform="translate(169.80 247.40) rotate(55.0)" text-anchor="middle" dy="2.05">140</text><text class="cc" transform="translate(169.80 247.40) rotate(55.0)" text-anchor="middle" dy="2.05">140</text>
<text class="clh" transform="translate(222.10 304.20) rotate(60.0)" text-anchor="middle" dy="2.05">120</text><text class="cc" transform="translate(222.10 304.20) rotate(60.0)" text-anchor="middle" dy="2.05">120</text>
<text class="cmh" transform="translate(35.60 247.30) rotate(-50.0)" text-anchor="middle" dy="2.05">420</text><text class="cc" transform="translate(35.60 247.30) rotate(-50.0)" text-anchor="middle" dy="2.05">420</text>
<text class="cmh" transform="translate(36.20 248.66) rotate(-49.4)" text-anchor="middle" dy="2.05">400</text><text class="cc" transform="translate(36.20 248.66) rotate(-49.4)" text-anchor="middle" dy="2.05">400</text>
<text class="cmh" transform="translate(36.80 246.42) rotate(-48.8)" text-anchor="middle" dy="2.05">380</text><text class="cc" transform="translate(36.80 246.42) rotate(-48.8)" text-anchor="middle" dy="2.05">380</text>
<text class="cmh" transform="translate(37.40 247.78) rotate(-48.2)" text-anchor="middle" dy="2.05">360</text><text class="cc" transform="translate(37.40 247.78) rotate(-48.2)" text-anchor="middle" dy="2.05">360</text>
<text class="cmh" transform="translate(38.00 245.54) rotate(-47.6)" text-anchor="middle" dy="2.05">340</text><text class="cc" transform="translate(38.00 245.54) rotate(-47.6)" text-anchor="middle" dy="2.05">340</text>
<text class="cmh" transform="translate(38.60 246.90) rotate(-47.0)" text-anchor="middle" dy="2.05">320</text><text class="cc" transform="translate(38.60 246.90) rotate(-47.0)" text-anchor="middle" dy="2.05">320</text>
<text class="cmh" transform="translate(39.20 244.66) rotate(-46.4)" text-anchor="middle" dy="2.05">300</text><text class="cc" transform="translate(39.20 244.66) rotate(-46.4)" text-anchor="middle" dy="2.05">300</text>
<text class="cmh" transform="translate(39.80 246.02) rotate(-45.8)" text-anchor="middle" dy="2.05">280</text><text class="cc" transform="translate(39.80 246.02) rotate(-45.8)" text-anchor="middle" dy="2.05">280</text>
<text class="cmh" transform="translate(40.40 243.78) rotate(-45.2)" text-anchor="middle" dy="2.05">260</text><text class="cc" transform="translate(40.40 243.78) rotate(-45.2)" text-anchor="middle" dy="2.05">260</text>
<text class="cmh" transform="translate(41.00 245.14) rotate(-44.6)" text-anchor="middle" dy="2.05">240</text><text class="cc" transform="translate(41.00 245.14) rotate(-44.6)" text-anchor="middle" dy="2.05">240</text>
<text class="cmh" transform="translate(41.60 242.90) rotate(-44.0)" text-anchor="middle" dy="2.05">220</text><text class="cc" transform="translate(41.60 242.90) rotate(-44.0)" text-anchor="middle" dy="2.05">220</text>
<text class="cmh" transform="translate(223.30 248.50) rotate(70.0)" text-anchor="middle" dy="2.05">660</text><text class="cc" transform="translate(223.30 248.50) rotate(70.0)" text-anchor="middle" dy="2.05">660</text>
<text class="cmh" transform="translate(224.07 249.74) rotate(70.3)" text-anchor="middle" dy="2.05">640</text><text class="cc" transform="translate(224.07 249.74) rotate(70.3)" text-anchor="middle" dy="2.05">640</text>
<text class="cmh" transform="translate(222.85 250.98) rotate(70.7)" text-anchor="middle" dy="2.05">620</text><text class="cc" transform="translate(222.85 250.98) rotate(70.7)" text-anchor="middle" dy="2.05">620</text>
<text class="cmh" transform="translate(223.63 252.22) rotate(71.0)" text-anchor="middle" dy="2.05">600</text><text class="cc" transform="translate(223.63 252.22) rotate(71.0)" text-anchor="middle" dy="2.05">600</text>
<text class="cmh" transform="translate(222.43 253.46) rotate(71.4)" text-anchor="middle" dy="2.05">580</text><text class="cc" transform="translate(222.43 253.46) rotate(71.4)" text-anchor="middle" dy="2.05">580</text>
<text class="cmh" transform="translate(223.23 254.70) rotate(71.7)" text-anchor="middle" dy="2.05">560</text><text class="cc" transform="translate(223.23 254.70) rotate(71.7)" text-anchor="middle" dy="2.05">560</text>
<text class="cmh" transform="translate(222.05 255.93) rotate(72.1)" text-anchor="middle" dy="2.05">540</text><text class="cc" transform="translate(222.05 255.93) rotate(72.1)" text-anchor="middle" dy="2.05">540</text>
<text class="cmh" transform="translate(222.88 257.17) rotate(72.4)" text-anchor="middle" dy="2.05">520</text><text class="cc" transform="translate(222.88 257.17) rotate(72.4)" text-anchor="middle" dy="2.05">520</text>
<text class="cmh" transform="translate(221.73 258.41) rotate(72.8)" text-anchor="middle" dy="2.05">500</text><text class="cc" transform="translate(221.73 258.41) rotate(72.8)" text-anchor="middle" dy="2.05">500</text>
<text class="cmh" transform="translate(222.60 259.65) rotate(73.1)" text-anchor="middle" dy="2.05">480</text><text class="cc" transform="translate(222.60 259.65) rotate(73.1)" text-anchor="middle" dy="2.05">480</text>
<text class="cmh" transform="translate(221.49 260.89) rotate(73.5)" text-anchor="middle" dy="2.05">460</text><text class="cc" transform="translate(221.49 260.89) rotate(73.5)" text-anchor="middle" dy="2.05">460</text>
<text class="cmh" transform="translate(222.41 262.13) rotate(73.8)" text-anchor="middle" dy="2.05">440</text><text class="cc" transform="translate(222.41 262.13) rotate(73.8)" text-anchor="middle" dy="2.05">440</text>
<text class="cmh" transform="translate(221.35 263.37) rotate(74.2)" text-anchor="middle" dy="2.05">420</text><text class="cc" transform="translate(221.35 263.37) rotate(74.2)" text-anchor="middle" dy="2.05">420</text>
<text class="cmh" transform="translate(222.31 264.61) rotate(74.5)" text-anchor="middle" dy="2.05">400</text><text class="cc" transform="translate(222.31 264.61) rotate(74.5)" text-anchor="middle" dy="2.05">400</text>
<text class="cmh" transform="translate(221.30 265.85) rotate(74.9)" text-anchor="middle" dy="2.05">380</text><text class="cc" transform="translate(221.30 265.85) rotate(74.9)" text-anchor="middle" dy="2.05">380</text>
<text class="cmh" transform="translate(222.32 267.09) rotate(75.2)" text-anchor="middle" dy="2.05">360</text><text class="cc" transform="translate(222.32 267.09) rotate(75.2)" text-anchor="middle" dy="2.05">360</text>
<text class="cmh" transform="translate(221.36 268.33) rotate(75.6)" text-anchor="middle" dy="2.05">340</text><text class="cc" transform="translate(221.36 268.33) rotate(75.6)" text-anchor="middle" dy="2.05">340</text>
<text class="cmh" transform="translate(222.42 269.57) rotate(75.9)" text-anchor="middle" dy="2.05">320</text><text class="cc" transform="translate(222.42 269.57) rotate(75.9)" text-anchor="middle" dy="2.05">320</text>
<text class="cmh" transform="translate(221.51 270.80) rotate(76.3)" text-anchor="middle" dy="2.05">300</text><text class="cc" transform="translate(221.51 270.80) rotate(76.3)" text-anchor="middle" dy="2.05">300</text>
<text class="cmh" transform="translate(222.62 272.04) rotate(76.6)" text-anchor="middle" dy="2.05">280</text><text class="cc" transform="translate(222.62 272.04) rotate(76.6)" text-anchor="middle" dy="2.05">280</text>
<text class="cmh" transform="translate(221.76 273.28) rotate(77.0)" text-anchor="middle" dy="2.05">260</text><text class="cc" transform="translate(221.76 273.28) rotate(77.0)" text-anchor="middle" dy="2.05">260</text>
<text class="cmh" transform="translate(222.91 274.52) rotate(77.3)" text-anchor="middle" dy="2.05">240</text><text class="cc" transform="translate(222.91 274.52) rotate(77.3)" text-anchor="middle" dy="2.05">240</text>
<text class="cmh" transform="translate(222.08 275.76) rotate(77.7)" text-anchor="middle" dy="2.05">220</text><text class="cc" transform="translate(222.08 275.76) rotate(77.7)" text-anchor="middle" dy="2.05">220</text>
<text class="cmh" transform="translate(223.27 277.00) rotate(78.0)" text-anchor="middle" dy="2.05">200</text><text class="cc" transform="translate(223.27 277.00) rotate(78.0)" text-anchor="middle" dy="2.05">200</text>
<rect class="ax" x="26.40" y="235.15" width="203.20" height="154.10"/>
<path class="ax" d="M47.24 389.25v-2.0M47.24 235.15v2.0M73.29 389.25v-2.0M73.29 235.15v2.0M99.34 389.25v-2.0M99.34 235.15v2.0M125.39 389.25v-2.0M125.39 235.15v2.0M151.45 389.25v-2.0M151.45 235.15v2.0M177.50 389.25v-2.0M177.50 235.15v2.0M203.55 389.25v-2.0M203.55 235.15v2.0M229.60 389.25v-2.0M229.60 235.15v2.0M26.40 389.25h2.0M229.60 389.25h-2.0M26.40 357.15h2.0M229.60 357.15h-2.0M26.40 325.04h2.0M229.60 325.04h-2.0M26.40 292.94h2.0M229.60 292.94h-2.0M26.40 260.83h2.0M229.60 260.83h-2.0"/>
<text class="tk" x="47.24" y="401.05" text-anchor="middle">1</text>
<text class="tk" x="73.29" y="401.05" text-anchor="middle">2</text>
<text class="tk" x="99.34" y="401.05" text-anchor="middle">3</text>
<text class="tk" x="125.39" y="401.05" text-anchor="middle">4</text>
<text class="tk" x="151.45" y="401.05" text-anchor="middle">5</text>
<text class="tk" x="177.50" y="401.05" text-anchor="middle">6</text>
<text class="tk" x="203.55" y="401.05" text-anchor="middle">7</text>
<text class="tk" x="229.60" y="401.05" text-anchor="middle">8</text>
<text class="tk" x="23.40" y="392.45" text-anchor="end">0</text>
<text class="tk" x="23.40" y="360.35" text-anchor="end">1</text>
<text class="tk" x="23.40" y="328.24" text-anchor="end">2</text>
<text class="tk" x="23.40" y="296.14" text-anchor="end">3</text>
<text class="tk" x="23.40" y="264.03" text-anchor="end">4</text>
<text class="tk" x="128.00" y="413.35" text-anchor="middle" style="font-size:10px">X/m</text>
<text class="tk" transform="translate(14.50 312.50) rotate(-90)" text-anchor="middle" style="font-size:10px">Y/m</text>
<text class="tk" x="229.20" y="415.45" text-anchor="end" style="font-size:9.4px"><tspan style="font-size:10.5px" dy="0.6">×</tspan><tspan dx="1.2" dy="-0.6">10</tspan><tspan dy="-4.0" dx="0.1" style="font-size:7.6px">5</tspan></text>
<text class="tk" x="27.30" y="233.15" style="font-size:9.4px"><tspan style="font-size:10.5px" dy="0.6">×</tspan><tspan dx="1.2" dy="-0.6">10</tspan><tspan dy="-4.0" dx="0.1" style="font-size:7.6px">5</tspan></text>
<path d="M21.80 327.92L31.00 327.92L26.40 319.92Z" fill="#000"/>
<path d="M120.79 327.92L129.99 327.92L125.39 319.92Z" fill="#000"/>
<path d="M225.00 327.92L234.20 327.92L229.60 319.92Z" fill="#000"/>
<circle cx="68.08" cy="344.30" r="3.9" fill="#000"/>
<circle cx="182.71" cy="344.30" r="3.9" fill="#000"/>
<rect x="155.70" y="359.95" width="71.6" height="27.2" fill="#fff" stroke="#262626" stroke-width="0.6" stroke-opacity=".62"/>
<path d="M159.70 370.34L169.70 370.34L164.70 362.04Z" fill="#000"/>
<circle cx="164.60" cy="379.45" r="4.0" fill="#000"/>
<text class="lg" x="173.30" y="370.95">Transmitter</text>
<text class="lg" x="173.30" y="383.55">Receiver</text>
<text class="cap" x="135.10" y="435.25" text-anchor="middle">(<tspan font-weight="bold">c</tspan>)</text>
</g>
<g id="panel-d">
<clipPath id="clip-d"><rect x="335.30" y="235.15" width="203.20" height="83.47"/></clipPath>
<g clip-path="url(#clip-d)">
<path d="M357.00 235.15L354.94 237.33L352.46 240.16L349.95 243.30L347.52 246.66L345.21 250.19L343.06 253.87L341.07 257.67L339.25 261.58L337.60 265.60L336.11 269.70L334.76 273.89L333.56 278.15L333.55 274.15L334.64 270.28L335.85 266.49L337.19 262.76L338.67 259.12L340.29 255.58L342.06 252.13L343.96 248.79L346.00 245.59L348.14 242.54L350.34 239.69L352.51 237.13L354.30 235.15Z" fill="#1cb8c4" fill-opacity="0.06"/>
<path d="M354.30 235.15L352.51 237.13L350.34 239.69L348.14 242.54L346.00 245.59L343.96 248.79L342.06 252.13L340.29 255.58L338.67 259.12L337.19 262.76L335.85 266.49L334.64 270.28L333.55 274.15L333.52 270.15L334.50 266.68L335.59 263.27L336.80 259.93L338.12 256.67L339.55 253.48L341.12 250.38L342.79 247.39L344.58 244.52L346.45 241.78L348.36 239.23L350.24 236.92L351.79 235.15Z" fill="#23bcb9" fill-opacity="0.07"/>
<path d="M351.79 235.15L350.24 236.92L348.36 239.23L346.45 241.78L344.58 244.52L342.79 247.39L341.12 250.38L339.55 253.48L338.12 256.67L336.80 259.93L335.59 263.27L334.50 266.68L333.52 270.15L333.46 266.15L334.35 263.08L335.33 260.06L336.40 257.10L337.58 254.21L338.85 251.39L340.22 248.64L341.69 245.99L343.24 243.44L344.86 241.02L346.51 238.76L348.13 236.72L349.46 235.15Z" fill="#2ac0ae" fill-opacity="0.07"/>
<path d="M349.46 235.15L348.13 236.72L346.51 238.76L344.86 241.02L343.24 243.44L341.69 245.99L340.22 248.64L338.85 251.39L337.58 254.21L336.40 257.10L335.33 260.06L334.35 263.08L333.46 266.15L333.38 262.15L334.18 259.47L335.05 256.84L336.01 254.27L337.04 251.75L338.16 249.29L339.36 246.90L340.63 244.59L341.98 242.37L343.37 240.27L344.79 238.29L346.16 236.52L347.29 235.15Z" fill="#33c69e" fill-opacity="0.07"/>
<path d="M347.29 235.15L346.16 236.52L344.79 238.29L343.37 240.27L341.98 242.37L340.63 244.59L339.36 246.90L338.16 249.29L337.04 251.75L336.01 254.27L335.05 256.84L334.18 259.47L333.38 262.15L333.39 259.15L334.09 256.77L334.85 254.43L335.67 252.14L336.56 249.90L337.52 247.72L338.55 245.60L339.63 243.54L340.78 241.57L341.96 239.70L343.16 237.95L344.32 236.37L345.28 235.15Z" fill="#48c889" fill-opacity="0.07"/>
<path d="M345.28 235.15L344.32 236.37L343.16 237.95L341.96 239.70L340.78 241.57L339.63 243.54L338.55 245.60L337.52 247.72L336.56 249.90L335.67 252.14L334.85 254.43L334.09 256.77L333.39 259.15L333.40 256.15L334.00 254.07L334.65 252.02L335.35 250.02L336.10 248.06L336.92 246.15L337.78 244.29L338.70 242.49L339.65 240.77L340.64 239.13L341.64 237.60L342.61 236.21L343.40 235.15Z" fill="#65c772" fill-opacity="0.07"/>
<path d="M343.40 235.15L342.61 236.21L341.64 237.60L340.64 239.13L339.65 240.77L338.70 242.49L337.78 244.29L336.92 246.15L336.10 248.06L335.35 250.02L334.65 252.02L334.00 254.07L333.40 256.15L333.38 253.15L333.89 251.37L334.44 249.61L335.03 247.90L335.66 246.22L336.34 244.58L337.05 242.98L337.81 241.45L338.60 239.97L339.41 238.56L340.22 237.25L341.01 236.06L341.65 235.15Z" fill="#82c75a" fill-opacity="0.07"/>
<path d="M341.65 235.15L341.01 236.06L340.22 237.25L339.41 238.56L338.60 239.97L337.81 241.45L337.05 242.98L336.34 244.58L335.66 246.22L335.03 247.90L334.44 249.61L333.89 251.37L333.38 253.15L333.58 251.15L333.98 249.56L334.40 248.01L334.86 246.48L335.36 244.99L335.88 243.53L336.44 242.11L337.03 240.75L337.65 239.43L338.28 238.18L338.92 237.01L339.53 235.96L340.03 235.15Z" fill="#a0c742" fill-opacity="0.07"/>
<path d="M340.03 235.15L339.53 235.96L338.92 237.01L338.28 238.18L337.65 239.43L337.03 240.75L336.44 242.11L335.88 243.53L335.36 244.99L334.86 246.48L334.40 248.01L333.98 249.56L333.58 251.15L333.83 249.15L334.12 247.76L334.43 246.40L334.76 245.06L335.12 243.76L335.50 242.48L335.91 241.24L336.34 240.05L336.79 238.90L337.25 237.80L337.71 236.78L338.16 235.86L338.52 235.15Z" fill="#b8c639" fill-opacity="0.07"/>
<path d="M338.52 235.15L338.16 235.86L337.71 236.78L337.25 237.80L336.79 238.90L336.34 240.05L335.91 241.24L335.50 242.48L335.12 243.76L334.76 245.06L334.43 246.40L334.12 247.76L333.83 249.15L334.19 247.15L334.37 245.96L334.56 244.79L334.77 243.65L335.00 242.53L335.23 241.43L335.49 240.37L335.76 239.35L336.03 238.36L336.32 237.42L336.61 236.55L336.89 235.76L337.12 235.15Z" fill="#cdc539" fill-opacity="0.07"/>
<path d="M337.12 235.15L336.89 235.76L336.61 236.55L336.32 237.42L336.03 238.36L335.76 239.35L335.49 240.37L335.23 241.43L335.00 242.53L334.77 243.65L334.56 244.79L334.37 245.96L334.19 247.15L334.93 245.98L334.98 244.91L335.03 243.85L335.10 242.82L335.16 241.81L335.23 240.82L335.31 239.87L335.39 238.94L335.48 238.05L335.56 237.20L335.65 236.41L335.74 235.70L335.81 235.15Z" fill="#e2c438" fill-opacity="0.07"/>
<path d="M335.81 235.15L335.74 235.70L335.65 236.41L335.56 237.20L335.48 238.05L335.39 238.94L335.31 239.87L335.23 240.82L335.16 241.81L335.10 242.82L335.03 243.85L334.98 244.91L334.93 245.98L332.30 245.98L332.30 235.15Z" fill="#fdd42d" fill-opacity="0.10"/>
<path class="ct" d="M359.90 235.15C359.51 235.56 358.40 236.65 357.54 237.58C356.67 238.52 355.65 239.63 354.70 240.74C353.75 241.85 352.78 243.04 351.84 244.24C350.91 245.45 349.98 246.71 349.09 247.99C348.19 249.28 347.32 250.60 346.49 251.94C345.65 253.28 344.85 254.65 344.08 256.04C343.30 257.44 342.57 258.85 341.86 260.29C341.16 261.72 340.49 263.18 339.85 264.66C339.21 266.13 338.60 267.63 338.03 269.14C337.45 270.65 336.91 272.18 336.39 273.72C335.88 275.26 335.39 276.82 334.93 278.39C334.47 279.96 333.85 282.36 333.63 283.15" stroke="#16b4cf"/>
<path class="ct" d="M357.00 235.15C356.66 235.51 355.70 236.50 354.94 237.33C354.18 238.16 353.29 239.16 352.46 240.16C351.63 241.15 350.78 242.21 349.95 243.30C349.13 244.38 348.31 245.51 347.52 246.66C346.73 247.80 345.95 248.99 345.21 250.19C344.47 251.39 343.75 252.62 343.06 253.87C342.37 255.11 341.71 256.38 341.07 257.67C340.44 258.96 339.83 260.26 339.25 261.58C338.68 262.90 338.13 264.24 337.60 265.60C337.08 266.95 336.58 268.32 336.11 269.70C335.63 271.08 335.19 272.48 334.76 273.89C334.34 275.29 333.76 277.44 333.56 278.15" stroke="#1cb8c4"/>
<path class="ct" d="M354.30 235.15C354.00 235.48 353.17 236.37 352.51 237.13C351.85 237.88 351.07 238.79 350.34 239.69C349.61 240.59 348.86 241.56 348.14 242.54C347.42 243.52 346.70 244.54 346.00 245.59C345.30 246.63 344.62 247.70 343.96 248.79C343.31 249.88 342.67 250.99 342.06 252.13C341.45 253.26 340.86 254.41 340.29 255.58C339.73 256.74 339.19 257.93 338.67 259.12C338.16 260.32 337.66 261.54 337.19 262.76C336.72 263.99 336.28 265.23 335.85 266.49C335.42 267.74 335.02 269.01 334.64 270.28C334.25 271.56 333.73 273.51 333.55 274.15" stroke="#23bcb9"/>
<path class="ct" d="M351.79 235.15C351.54 235.45 350.81 236.24 350.24 236.92C349.67 237.60 348.99 238.42 348.36 239.23C347.73 240.04 347.08 240.90 346.45 241.78C345.82 242.66 345.19 243.58 344.58 244.52C343.97 245.45 343.37 246.41 342.79 247.39C342.22 248.37 341.65 249.37 341.12 250.38C340.58 251.40 340.05 252.43 339.55 253.48C339.05 254.53 338.58 255.59 338.12 256.67C337.66 257.74 337.22 258.83 336.80 259.93C336.38 261.03 335.98 262.15 335.59 263.27C335.21 264.40 334.85 265.53 334.50 266.68C334.16 267.83 333.68 269.57 333.52 270.15" stroke="#2ac0ae" stroke-opacity="0.72"/>
<path class="ct" d="M349.46 235.15C349.24 235.41 348.62 236.12 348.13 236.72C347.64 237.32 347.06 238.04 346.51 238.76C345.97 239.48 345.41 240.24 344.86 241.02C344.31 241.80 343.77 242.62 343.24 243.44C342.71 244.27 342.19 245.13 341.69 245.99C341.18 246.86 340.69 247.74 340.22 248.64C339.75 249.54 339.29 250.46 338.85 251.39C338.41 252.31 337.98 253.25 337.58 254.21C337.17 255.16 336.78 256.12 336.40 257.10C336.03 258.08 335.67 259.06 335.33 260.06C334.99 261.05 334.66 262.06 334.35 263.08C334.04 264.09 333.61 265.64 333.46 266.15" stroke="#33c69e" stroke-opacity="0.69"/>
<path class="ct" d="M347.29 235.15C347.10 235.38 346.58 235.99 346.16 236.52C345.74 237.04 345.25 237.67 344.79 238.29C344.32 238.92 343.84 239.59 343.37 240.27C342.90 240.95 342.43 241.65 341.98 242.37C341.52 243.10 341.07 243.84 340.63 244.59C340.20 245.35 339.77 246.12 339.36 246.90C338.95 247.69 338.55 248.48 338.16 249.29C337.77 250.10 337.40 250.92 337.04 251.75C336.68 252.58 336.34 253.42 336.01 254.27C335.68 255.12 335.36 255.98 335.05 256.84C334.75 257.71 334.46 258.59 334.18 259.47C333.90 260.36 333.51 261.70 333.38 262.15" stroke="#48c889" stroke-opacity="0.66"/>
<path class="ct" d="M345.28 235.15C345.12 235.35 344.67 235.90 344.32 236.37C343.97 236.83 343.55 237.39 343.16 237.95C342.77 238.50 342.36 239.09 341.96 239.70C341.56 240.30 341.17 240.93 340.78 241.57C340.39 242.21 340.01 242.87 339.63 243.54C339.26 244.21 338.90 244.90 338.55 245.60C338.19 246.29 337.85 247.00 337.52 247.72C337.19 248.44 336.87 249.17 336.56 249.90C336.26 250.64 335.96 251.39 335.67 252.14C335.39 252.90 335.11 253.66 334.85 254.43C334.58 255.20 334.33 255.98 334.09 256.77C333.85 257.56 333.51 258.75 333.39 259.15" stroke="#65c772" stroke-opacity="0.62"/>
<path class="ct" d="M343.40 235.15C343.27 235.33 342.90 235.81 342.61 236.21C342.32 236.62 341.97 237.11 341.64 237.60C341.31 238.08 340.97 238.60 340.64 239.13C340.31 239.66 339.98 240.21 339.65 240.77C339.33 241.33 339.01 241.91 338.70 242.49C338.38 243.08 338.08 243.68 337.78 244.29C337.48 244.90 337.20 245.52 336.92 246.15C336.64 246.78 336.37 247.41 336.10 248.06C335.84 248.70 335.59 249.36 335.35 250.02C335.10 250.68 334.87 251.35 334.65 252.02C334.42 252.70 334.20 253.38 334.00 254.07C333.79 254.76 333.50 255.80 333.40 256.15" stroke="#82c75a" stroke-opacity="0.59"/>
<path class="ct" d="M341.65 235.15C341.55 235.30 341.25 235.71 341.01 236.06C340.77 236.41 340.49 236.83 340.22 237.25C339.96 237.66 339.68 238.11 339.41 238.56C339.14 239.01 338.86 239.49 338.60 239.97C338.33 240.45 338.07 240.94 337.81 241.45C337.55 241.95 337.30 242.46 337.05 242.98C336.81 243.51 336.57 244.04 336.34 244.58C336.10 245.12 335.88 245.66 335.66 246.22C335.44 246.77 335.23 247.33 335.03 247.90C334.82 248.46 334.63 249.03 334.44 249.61C334.25 250.19 334.06 250.78 333.89 251.37C333.71 251.95 333.47 252.85 333.38 253.15" stroke="#a0c742" stroke-opacity="0.56"/>
<path class="ct" d="M340.03 235.15C339.95 235.29 339.72 235.65 339.53 235.96C339.34 236.27 339.12 236.64 338.92 237.01C338.71 237.38 338.49 237.78 338.28 238.18C338.07 238.58 337.85 239.00 337.65 239.43C337.44 239.86 337.23 240.30 337.03 240.75C336.83 241.19 336.63 241.65 336.44 242.11C336.25 242.58 336.06 243.05 335.88 243.53C335.70 244.01 335.53 244.49 335.36 244.99C335.19 245.48 335.02 245.98 334.86 246.48C334.70 246.98 334.55 247.49 334.40 248.01C334.26 248.52 334.11 249.04 333.98 249.56C333.84 250.09 333.65 250.89 333.58 251.15" stroke="#b8c639" stroke-opacity="0.53"/>
<path class="ct" d="M338.52 235.15C338.46 235.27 338.29 235.59 338.16 235.86C338.02 236.13 337.86 236.46 337.71 236.78C337.56 237.10 337.40 237.45 337.25 237.80C337.09 238.16 336.94 238.52 336.79 238.90C336.64 239.27 336.49 239.66 336.34 240.05C336.19 240.44 336.05 240.84 335.91 241.24C335.77 241.65 335.64 242.06 335.50 242.48C335.37 242.90 335.25 243.33 335.12 243.76C335.00 244.19 334.88 244.62 334.76 245.06C334.65 245.50 334.54 245.95 334.43 246.40C334.32 246.85 334.22 247.30 334.12 247.76C334.02 248.22 333.88 248.92 333.83 249.15" stroke="#cdc539" stroke-opacity="0.50"/>
<path class="ct" d="M337.12 235.15C337.08 235.25 336.98 235.53 336.89 235.76C336.81 235.99 336.71 236.27 336.61 236.55C336.52 236.83 336.42 237.12 336.32 237.42C336.23 237.73 336.13 238.04 336.03 238.36C335.94 238.68 335.85 239.01 335.76 239.35C335.66 239.68 335.57 240.03 335.49 240.37C335.40 240.72 335.32 241.08 335.23 241.43C335.15 241.79 335.07 242.16 335.00 242.53C334.92 242.90 334.84 243.27 334.77 243.65C334.70 244.02 334.63 244.41 334.56 244.79C334.50 245.18 334.43 245.57 334.37 245.96C334.31 246.35 334.22 246.95 334.19 247.15" stroke="#e2c438" stroke-opacity="0.46"/>
<path class="ct" d="M335.81 235.15C335.80 235.24 335.77 235.49 335.74 235.70C335.72 235.91 335.68 236.16 335.65 236.41C335.63 236.66 335.59 236.93 335.56 237.20C335.54 237.48 335.51 237.76 335.48 238.05C335.45 238.34 335.42 238.64 335.39 238.94C335.36 239.24 335.34 239.55 335.31 239.87C335.28 240.18 335.26 240.50 335.23 240.82C335.21 241.15 335.19 241.48 335.16 241.81C335.14 242.14 335.12 242.48 335.10 242.82C335.07 243.16 335.05 243.51 335.03 243.85C335.02 244.20 335.00 244.55 334.98 244.91C334.96 245.26 334.94 245.80 334.93 245.98" stroke="#f7c438" stroke-opacity="0.43"/>
<path d="M510.90 235.15L513.65 237.99L516.92 241.67L520.18 245.76L523.30 250.13L526.21 254.74L528.87 259.53L531.28 264.48L533.45 269.58L535.39 274.80L537.10 280.15L538.62 285.60L539.94 291.15L539.89 286.15L538.73 281.09L537.42 276.13L535.94 271.26L534.26 266.50L532.39 261.86L530.31 257.35L528.01 252.99L525.51 248.80L522.83 244.81L520.02 241.09L517.22 237.74L514.86 235.15Z" fill="#1cb8c4" fill-opacity="0.06"/>
<path d="M514.86 235.15L517.22 237.74L520.02 241.09L522.83 244.81L525.51 248.80L528.01 252.99L530.31 257.35L532.39 261.86L534.26 266.50L535.94 271.26L537.42 276.13L538.73 281.09L539.89 286.15L539.84 281.15L538.84 276.59L537.72 272.11L536.44 267.72L535.01 263.43L533.41 259.24L531.63 255.17L529.67 251.24L527.54 247.46L525.26 243.87L522.88 240.51L520.50 237.48L518.50 235.15Z" fill="#23bcb9" fill-opacity="0.07"/>
<path d="M518.50 235.15L520.50 237.48L522.88 240.51L525.26 243.87L527.54 247.46L529.67 251.24L531.63 255.17L533.41 259.24L535.01 263.43L536.44 267.72L537.72 272.11L538.84 276.59L539.84 281.15L539.79 276.15L538.95 272.08L537.99 268.09L536.91 264.18L535.70 260.35L534.35 256.62L532.85 253.00L531.20 249.49L529.41 246.12L527.50 242.92L525.50 239.93L523.51 237.23L521.84 235.15Z" fill="#2ac0ae" fill-opacity="0.07"/>
<path d="M521.84 235.15L523.51 237.23L525.50 239.93L527.50 242.92L529.41 246.12L531.20 249.49L532.85 253.00L534.35 256.62L535.70 260.35L536.91 264.18L537.99 268.09L538.95 272.08L539.79 276.15L539.75 271.15L539.04 267.58L538.24 264.08L537.34 260.64L536.34 257.28L535.21 254.00L533.97 250.82L532.61 247.74L531.14 244.78L529.56 241.97L527.92 239.34L526.29 236.98L524.92 235.15Z" fill="#33c69e" fill-opacity="0.07"/>
<path d="M524.92 235.15L526.29 236.98L527.92 239.34L529.56 241.97L531.14 244.78L532.61 247.74L533.97 250.82L535.21 254.00L536.34 257.28L537.34 260.64L538.24 264.08L539.04 267.58L539.75 271.15L539.63 267.15L539.07 263.98L538.44 260.86L537.72 257.81L536.92 254.82L536.02 251.91L535.03 249.08L533.94 246.34L532.75 243.71L531.49 241.21L530.17 238.88L528.86 236.77L527.76 235.15Z" fill="#48c889" fill-opacity="0.07"/>
<path d="M527.76 235.15L528.86 236.77L530.17 238.88L531.49 241.21L532.75 243.71L533.94 246.34L535.03 249.08L536.02 251.91L536.92 254.82L537.72 257.81L538.44 260.86L539.07 263.98L539.63 267.15L539.51 263.15L539.08 260.37L538.60 257.65L538.05 254.98L537.43 252.36L536.74 249.81L535.98 247.34L535.14 244.94L534.23 242.64L533.26 240.46L532.24 238.41L531.22 236.57L530.37 235.15Z" fill="#65c772" fill-opacity="0.07"/>
<path d="M530.37 235.15L531.22 236.57L532.24 238.41L533.26 240.46L534.23 242.64L535.14 244.94L535.98 247.34L536.74 249.81L537.43 252.36L538.05 254.98L538.60 257.65L539.08 260.37L539.51 263.15L539.36 259.15L539.06 256.77L538.71 254.43L538.32 252.14L537.88 249.90L537.39 247.72L536.84 245.60L536.23 243.54L535.57 241.57L534.87 239.70L534.13 237.95L533.39 236.37L532.76 235.15Z" fill="#82c75a" fill-opacity="0.07"/>
<path d="M532.76 235.15L533.39 236.37L534.13 237.95L534.87 239.70L535.57 241.57L536.23 243.54L536.84 245.60L537.39 247.72L537.88 249.90L538.32 252.14L538.71 254.43L539.06 256.77L539.36 259.15L539.10 256.15L538.92 254.07L538.72 252.02L538.48 250.02L538.22 248.06L537.91 246.15L537.57 244.29L537.20 242.49L536.78 240.77L536.33 239.13L535.86 237.60L535.38 236.21L534.97 235.15Z" fill="#a0c742" fill-opacity="0.07"/>
<path d="M534.97 235.15L535.38 236.21L535.86 237.60L536.33 239.13L536.78 240.77L537.20 242.49L537.57 244.29L537.91 246.15L538.22 248.06L538.48 250.02L538.72 252.02L538.92 254.07L539.10 256.15L538.79 253.15L538.72 251.37L538.64 249.61L538.55 247.90L538.44 246.22L538.31 244.58L538.17 242.98L538.00 241.45L537.82 239.97L537.62 238.56L537.41 237.25L537.19 236.06L537.00 235.15Z" fill="#b8c639" fill-opacity="0.07"/>
<path d="M537.00 235.15L537.19 236.06L537.41 237.25L537.62 238.56L537.82 239.97L538.00 241.45L538.17 242.98L538.31 244.58L538.44 246.22L538.55 247.90L538.64 249.61L538.72 251.37L538.79 253.15L541.50 253.15L541.50 235.15Z" fill="#fdd42d" fill-opacity="0.10"/>
<path class="ct" d="M506.60 235.15C507.13 235.67 508.63 237.09 509.80 238.29C510.97 239.50 512.33 240.94 513.59 242.37C514.86 243.81 516.14 245.34 517.37 246.90C518.61 248.46 519.82 250.08 520.97 251.74C522.13 253.40 523.25 255.10 524.32 256.83C525.39 258.57 526.41 260.34 527.38 262.14C528.35 263.93 529.27 265.77 530.14 267.62C531.01 269.48 531.83 271.36 532.61 273.26C533.39 275.17 534.12 277.10 534.81 279.05C535.50 281.00 536.15 282.97 536.75 284.97C537.36 286.96 537.93 288.97 538.46 291.00C538.99 293.03 539.71 296.13 539.95 297.15" stroke="#16b4cf"/>
<path class="ct" d="M510.90 235.15C511.36 235.62 512.65 236.90 513.65 237.99C514.65 239.08 515.83 240.38 516.92 241.67C518.01 242.97 519.12 244.35 520.18 245.76C521.25 247.17 522.30 248.64 523.30 250.13C524.31 251.63 525.28 253.17 526.21 254.74C527.13 256.30 528.02 257.90 528.87 259.53C529.72 261.15 530.52 262.80 531.28 264.48C532.05 266.15 532.77 267.85 533.45 269.58C534.14 271.30 534.78 273.04 535.39 274.80C536.00 276.56 536.57 278.35 537.10 280.15C537.64 281.94 538.14 283.76 538.62 285.60C539.09 287.43 539.72 290.22 539.94 291.15" stroke="#1cb8c4"/>
<path class="ct" d="M514.86 235.15C515.25 235.58 516.35 236.75 517.22 237.74C518.08 238.73 519.09 239.91 520.02 241.09C520.96 242.27 521.91 243.53 522.83 244.81C523.74 246.10 524.64 247.43 525.51 248.80C526.37 250.16 527.21 251.56 528.01 252.99C528.81 254.41 529.58 255.87 530.31 257.35C531.04 258.83 531.73 260.33 532.39 261.86C533.05 263.39 533.67 264.93 534.26 266.50C534.85 268.07 535.41 269.66 535.94 271.26C536.46 272.87 536.96 274.49 537.42 276.13C537.89 277.77 538.32 279.42 538.73 281.09C539.15 282.76 539.70 285.31 539.89 286.15" stroke="#23bcb9"/>
<path class="ct" d="M518.50 235.15C518.83 235.54 519.77 236.59 520.50 237.48C521.23 238.38 522.08 239.44 522.88 240.51C523.67 241.57 524.48 242.71 525.26 243.87C526.04 245.02 526.80 246.23 527.54 247.46C528.27 248.69 528.99 249.95 529.67 251.24C530.35 252.52 531.00 253.84 531.63 255.17C532.25 256.51 532.84 257.87 533.41 259.24C533.97 260.62 534.50 262.01 535.01 263.43C535.52 264.84 535.99 266.27 536.44 267.72C536.89 269.17 537.32 270.63 537.72 272.11C538.12 273.59 538.49 275.08 538.84 276.59C539.20 278.10 539.67 280.39 539.84 281.15" stroke="#2ac0ae" stroke-opacity="0.72"/>
<path class="ct" d="M521.84 235.15C522.12 235.50 522.90 236.43 523.51 237.23C524.12 238.02 524.84 238.98 525.50 239.93C526.17 240.87 526.85 241.89 527.50 242.92C528.15 243.95 528.79 245.03 529.41 246.12C530.03 247.22 530.63 248.34 531.20 249.49C531.77 250.64 532.32 251.81 532.85 253.00C533.37 254.19 533.87 255.40 534.35 256.62C534.82 257.85 535.27 259.09 535.70 260.35C536.13 261.61 536.53 262.89 536.91 264.18C537.29 265.47 537.65 266.78 537.99 268.09C538.33 269.41 538.65 270.74 538.95 272.08C539.25 273.43 539.65 275.47 539.79 276.15" stroke="#33c69e" stroke-opacity="0.69"/>
<path class="ct" d="M524.92 235.15C525.15 235.45 525.79 236.28 526.29 236.98C526.79 237.67 527.38 238.51 527.92 239.34C528.47 240.18 529.03 241.06 529.56 241.97C530.10 242.88 530.63 243.82 531.14 244.78C531.64 245.74 532.14 246.73 532.61 247.74C533.08 248.75 533.54 249.78 533.97 250.82C534.41 251.86 534.82 252.93 535.21 254.00C535.61 255.08 535.98 256.17 536.34 257.28C536.69 258.39 537.03 259.51 537.34 260.64C537.66 261.77 537.96 262.92 538.24 264.08C538.53 265.23 538.79 266.40 539.04 267.58C539.29 268.76 539.63 270.56 539.75 271.15" stroke="#48c889" stroke-opacity="0.66"/>
<path class="ct" d="M527.76 235.15C527.94 235.42 528.46 236.15 528.86 236.77C529.26 237.39 529.73 238.14 530.17 238.88C530.61 239.62 531.06 240.41 531.49 241.21C531.92 242.02 532.35 242.86 532.75 243.71C533.16 244.57 533.56 245.45 533.94 246.34C534.32 247.24 534.68 248.15 535.03 249.08C535.37 250.01 535.70 250.95 536.02 251.91C536.33 252.87 536.63 253.84 536.92 254.82C537.20 255.80 537.47 256.80 537.72 257.81C537.97 258.81 538.21 259.83 538.44 260.86C538.66 261.89 538.87 262.93 539.07 263.98C539.27 265.03 539.54 266.62 539.63 267.15" stroke="#65c772" stroke-opacity="0.62"/>
<path class="ct" d="M530.37 235.15C530.51 235.39 530.91 236.03 531.22 236.57C531.53 237.11 531.90 237.76 532.24 238.41C532.58 239.06 532.92 239.75 533.26 240.46C533.59 241.16 533.92 241.89 534.23 242.64C534.55 243.39 534.85 244.16 535.14 244.94C535.43 245.73 535.71 246.53 535.98 247.34C536.25 248.15 536.50 248.98 536.74 249.81C536.99 250.65 537.22 251.50 537.43 252.36C537.65 253.22 537.85 254.09 538.05 254.98C538.24 255.86 538.42 256.75 538.60 257.65C538.77 258.55 538.93 259.46 539.08 260.37C539.23 261.29 539.44 262.69 539.51 263.15" stroke="#82c75a" stroke-opacity="0.59"/>
<path class="ct" d="M532.76 235.15C532.87 235.35 533.16 235.90 533.39 236.37C533.61 236.83 533.88 237.39 534.13 237.95C534.37 238.50 534.62 239.09 534.87 239.70C535.11 240.30 535.34 240.93 535.57 241.57C535.80 242.21 536.02 242.87 536.23 243.54C536.44 244.21 536.64 244.90 536.84 245.60C537.03 246.29 537.21 247.00 537.39 247.72C537.56 248.44 537.72 249.17 537.88 249.90C538.04 250.64 538.18 251.39 538.32 252.14C538.46 252.90 538.59 253.66 538.71 254.43C538.84 255.20 538.95 255.98 539.06 256.77C539.17 257.56 539.31 258.75 539.36 259.15" stroke="#a0c742" stroke-opacity="0.56"/>
<path class="ct" d="M534.97 235.15C535.04 235.33 535.23 235.81 535.38 236.21C535.52 236.62 535.70 237.11 535.86 237.60C536.01 238.08 536.18 238.60 536.33 239.13C536.48 239.66 536.64 240.21 536.78 240.77C536.92 241.33 537.06 241.91 537.20 242.49C537.33 243.08 537.45 243.68 537.57 244.29C537.69 244.90 537.81 245.52 537.91 246.15C538.02 246.78 538.12 247.41 538.22 248.06C538.31 248.70 538.40 249.36 538.48 250.02C538.57 250.68 538.64 251.35 538.72 252.02C538.79 252.70 538.86 253.38 538.92 254.07C538.99 254.76 539.07 255.80 539.10 256.15" stroke="#b8c639" stroke-opacity="0.53"/>
<path class="ct" d="M537.00 235.15C537.03 235.30 537.12 235.71 537.19 236.06C537.26 236.41 537.34 236.83 537.41 237.25C537.48 237.66 537.55 238.11 537.62 238.56C537.69 239.01 537.76 239.49 537.82 239.97C537.88 240.45 537.95 240.94 538.00 241.45C538.06 241.95 538.12 242.46 538.17 242.98C538.22 243.51 538.27 244.04 538.31 244.58C538.36 245.12 538.40 245.66 538.44 246.22C538.48 246.77 538.51 247.33 538.55 247.90C538.58 248.46 538.61 249.03 538.64 249.61C538.67 250.19 538.70 250.78 538.72 251.37C538.75 251.95 538.78 252.85 538.79 253.15" stroke="#cdc539" stroke-opacity="0.50"/>
<path class="ct" d="M412.30 319.40C412.02 318.33 410.70 315.17 410.60 313.00C410.50 310.83 410.68 308.62 411.70 306.40C412.72 304.18 414.57 301.55 416.70 299.70C418.83 297.85 421.72 296.32 424.50 295.30C427.28 294.28 431.37 293.88 433.40 293.60C435.43 293.32 435.05 293.32 436.70 293.60C438.35 293.88 441.27 294.47 443.30 295.30C445.33 296.13 447.15 297.48 448.90 298.60C450.65 299.72 452.33 300.52 453.80 302.00C455.27 303.48 456.87 305.67 457.70 307.50C458.53 309.33 458.98 311.02 458.80 313.00C458.62 314.98 456.97 318.33 456.60 319.40" stroke="#3e26a8"/>
<path class="ct" d="M387.40 319.40C387.40 317.97 387.13 313.70 387.40 310.80C387.67 307.90 388.18 304.97 389.00 302.00C389.82 299.03 390.82 296.15 392.30 293.00C393.78 289.85 396.05 286.00 397.90 283.10C399.75 280.20 401.10 277.85 403.40 275.60C405.70 273.35 409.30 271.33 411.70 269.60C414.10 267.87 415.48 266.40 417.80 265.20C420.12 264.00 422.82 263.00 425.60 262.40C428.38 261.80 431.55 261.58 434.50 261.60C437.45 261.62 440.43 261.90 443.30 262.50C446.17 263.10 449.20 264.02 451.70 265.20C454.20 266.38 456.33 268.05 458.30 269.60C460.27 271.15 461.75 272.85 463.50 274.50C465.25 276.15 466.98 277.52 468.80 279.50C470.62 281.48 472.92 283.95 474.40 286.40C475.88 288.85 476.78 291.88 477.70 294.20C478.62 296.52 479.17 298.08 479.90 300.30C480.63 302.52 481.63 304.32 482.10 307.50C482.57 310.68 482.60 317.42 482.70 319.40" stroke="#4135c1"/>
<path class="ct" d="M380.70 319.40C380.70 317.97 380.42 313.53 380.70 310.80C380.98 308.07 381.67 305.77 382.40 303.00C383.13 300.23 384.03 297.28 385.10 294.20C386.17 291.12 387.65 287.53 388.80 284.50C389.95 281.47 390.85 279.00 392.00 276.00C393.15 273.00 394.17 269.60 395.70 266.50C397.23 263.40 399.17 260.03 401.20 257.40C403.23 254.77 405.50 252.63 407.90 250.70C410.30 248.77 412.83 247.08 415.60 245.80C418.37 244.52 421.53 243.62 424.50 243.00C427.47 242.38 430.65 242.10 433.40 242.10C436.15 242.10 437.95 242.38 441.00 243.00C444.05 243.62 448.82 244.52 451.70 245.80C454.58 247.08 456.27 248.77 458.30 250.70C460.33 252.63 462.23 254.98 463.90 257.40C465.57 259.82 466.85 262.60 468.30 265.20C469.75 267.80 471.07 270.62 472.60 273.00C474.13 275.38 475.93 277.17 477.50 279.50C479.07 281.83 480.67 284.17 482.00 287.00C483.33 289.83 484.42 293.00 485.50 296.50C486.58 300.00 487.75 304.68 488.50 308.00C489.25 311.32 489.75 314.50 490.00 316.40C490.25 318.30 490.00 318.90 490.00 319.40" stroke="#4443da"/>
<path class="ct" d="M375.10 319.40C375.02 317.97 374.40 313.70 374.60 310.80C374.80 307.90 375.47 304.97 376.30 302.00C377.13 299.03 378.32 296.15 379.60 293.00C380.88 289.85 382.50 286.35 384.00 283.10C385.50 279.85 387.03 276.85 388.60 273.50C390.17 270.15 391.67 265.95 393.40 263.00C395.13 260.05 396.58 258.77 399.00 255.80C401.42 252.83 405.50 247.88 407.90 245.20C410.30 242.52 411.80 241.47 413.40 239.70C415.00 237.93 416.82 235.45 417.50 234.60" stroke="#4751f3"/>
<path class="ct" d="M455.00 234.60C455.92 235.82 458.47 239.02 460.50 241.90C462.53 244.78 465.13 248.58 467.20 251.90C469.27 255.22 471.02 258.62 472.90 261.80C474.78 264.98 476.52 267.63 478.50 271.00C480.48 274.37 482.92 278.68 484.80 282.00C486.68 285.32 488.63 288.48 489.80 290.90C490.97 293.32 491.12 294.28 491.80 296.50C492.48 298.72 493.37 301.63 493.90 304.20C494.43 306.77 494.82 309.37 495.00 311.90C495.18 314.43 495.00 318.15 495.00 319.40" stroke="#4751f3"/>
<path class="ct" d="M369.60 319.40C369.50 317.97 368.82 313.53 369.00 310.80C369.18 308.07 369.87 305.77 370.70 303.00C371.53 300.23 372.70 297.33 374.00 294.20C375.30 291.07 376.92 287.53 378.50 284.20C380.08 280.87 381.75 277.83 383.50 274.20C385.25 270.57 387.17 265.67 389.00 262.40C390.83 259.13 392.47 257.28 394.50 254.60C396.53 251.92 399.17 248.60 401.20 246.30C403.23 244.00 405.02 242.75 406.70 240.80C408.38 238.85 410.53 235.63 411.30 234.60" stroke="#3e65f5"/>
<path class="ct" d="M460.50 234.60C461.43 236.00 464.07 239.93 466.10 243.00C468.13 246.07 470.63 249.67 472.70 253.00C474.77 256.33 476.45 259.75 478.50 263.00C480.55 266.25 483.12 269.33 485.00 272.50C486.88 275.67 488.30 278.93 489.80 282.00C491.30 285.07 492.83 288.40 494.00 290.90C495.17 293.40 495.98 294.78 496.80 297.00C497.62 299.22 498.37 301.90 498.90 304.20C499.43 306.50 499.92 308.27 500.00 310.80C500.08 313.33 499.50 317.97 499.40 319.40" stroke="#3e65f5"/>
<path class="ct" d="M335.00 316.00C335.58 315.32 337.45 312.85 338.50 311.90C339.55 310.95 339.72 310.02 341.30 310.30C342.88 310.58 345.87 312.50 348.00 313.60C350.13 314.70 352.77 315.93 354.10 316.90C355.43 317.87 355.68 318.98 356.00 319.40" stroke="#3e65f5"/>
<path class="ct" d="M516.60 319.40C516.97 318.52 517.68 315.62 518.80 314.10C519.92 312.58 521.45 310.75 523.30 310.30C525.15 309.85 527.87 310.57 529.90 311.40C531.93 312.23 534.02 314.03 535.50 315.30C536.98 316.57 538.25 318.38 538.80 319.00" stroke="#3e65f5"/>
<path class="ct" d="M335.00 305.60C335.58 304.90 337.25 302.47 338.50 301.40C339.75 300.33 341.10 299.67 342.50 299.20C343.90 298.73 344.78 298.23 346.90 298.60C349.02 298.97 352.90 300.75 355.20 301.40C357.50 302.05 359.03 302.97 360.70 302.50C362.37 302.03 363.72 300.53 365.20 298.60C366.68 296.67 368.08 293.67 369.60 290.90C371.12 288.13 372.57 285.07 374.30 282.00C376.03 278.93 378.05 275.75 380.00 272.50C381.95 269.25 384.17 265.58 386.00 262.50C387.83 259.42 389.62 256.25 391.00 254.00C392.38 251.75 392.78 251.08 394.30 249.00C395.82 246.92 398.27 243.90 400.10 241.50C401.93 239.10 404.43 235.75 405.30 234.60" stroke="#347af6"/>
<path class="ct" d="M466.60 234.60C467.43 235.82 469.75 239.40 471.60 241.90C473.45 244.40 475.85 247.02 477.70 249.60C479.55 252.18 480.93 254.43 482.70 257.40C484.47 260.37 486.67 264.55 488.30 267.40C489.93 270.25 491.12 272.25 492.50 274.50C493.88 276.75 495.17 278.37 496.60 280.90C498.03 283.43 499.62 286.93 501.10 289.70C502.58 292.47 504.03 295.55 505.50 297.50C506.97 299.45 508.42 300.85 509.90 301.40C511.38 301.95 512.73 301.53 514.40 300.80C516.07 300.07 518.05 297.83 519.90 297.00C521.75 296.17 523.47 294.88 525.50 295.80C527.53 296.72 530.25 300.37 532.10 302.50C533.95 304.63 535.45 306.85 536.60 308.60C537.75 310.35 538.60 312.27 539.00 313.00" stroke="#347af6"/>
<path class="ct" d="M335.00 292.30C335.58 291.32 336.98 288.03 338.50 286.40C340.02 284.77 342.07 283.33 344.10 282.50C346.13 281.67 348.48 281.40 350.70 281.40C352.92 281.40 355.55 282.22 357.40 282.50C359.25 282.78 360.13 283.55 361.80 283.10C363.47 282.65 365.62 281.40 367.40 279.80C369.18 278.20 370.82 275.72 372.50 273.50C374.18 271.28 375.87 268.82 377.50 266.50C379.13 264.18 380.80 261.77 382.30 259.60C383.80 257.43 385.13 255.68 386.50 253.50C387.87 251.32 389.17 248.75 390.50 246.50C391.83 244.25 393.17 241.98 394.50 240.00C395.83 238.02 397.83 235.50 398.50 234.60" stroke="#2a8df2"/>
<path class="ct" d="M472.20 234.60C473.22 236.00 476.37 240.12 478.30 243.00C480.23 245.88 481.95 248.95 483.80 251.90C485.65 254.85 487.55 257.75 489.40 260.70C491.25 263.65 493.47 267.62 494.90 269.60C496.33 271.58 496.78 271.47 498.00 272.60C499.22 273.73 500.58 275.20 502.20 276.40C503.82 277.60 505.85 279.15 507.70 279.80C509.55 280.45 511.63 280.30 513.30 280.30C514.97 280.30 515.85 279.25 517.70 279.80C519.55 280.35 522.37 282.13 524.40 283.60C526.43 285.07 528.25 286.83 529.90 288.60C531.55 290.37 533.00 292.53 534.30 294.20C535.60 295.87 536.83 297.47 537.70 298.60C538.57 299.73 539.20 300.60 539.50 301.00" stroke="#2a8df2"/>
<path class="ct" d="M335.00 284.00C335.58 283.00 337.17 280.00 338.50 278.00C339.83 276.00 341.42 273.80 343.00 272.00C344.58 270.20 346.40 268.40 348.00 267.20C349.60 266.00 351.10 265.43 352.60 264.80C354.10 264.17 355.42 263.77 357.00 263.40C358.58 263.03 360.33 262.67 362.10 262.60C363.87 262.53 365.95 263.27 367.60 263.00C369.25 262.73 370.55 262.00 372.00 261.00C373.45 260.00 374.77 258.43 376.30 257.00C377.83 255.57 379.55 254.18 381.20 252.40C382.85 250.62 384.62 248.42 386.20 246.30C387.78 244.18 389.47 241.65 390.70 239.70C391.93 237.75 393.12 235.45 393.60 234.60" stroke="#1f9de6"/>
<path class="ct" d="M477.20 234.60C477.67 235.37 478.62 237.43 480.00 239.20C481.38 240.97 483.65 243.08 485.50 245.20C487.35 247.32 489.25 249.68 491.10 251.90C492.95 254.12 494.75 256.85 496.60 258.50C498.45 260.15 500.17 261.15 502.20 261.80C504.23 262.45 506.58 261.83 508.80 262.40C511.02 262.97 513.47 263.82 515.50 265.20C517.53 266.58 519.52 269.05 521.00 270.70C522.48 272.35 523.23 273.22 524.40 275.10C525.57 276.98 526.82 279.52 528.00 282.00C529.18 284.48 530.33 287.50 531.50 290.00C532.67 292.50 533.92 295.00 535.00 297.00C536.08 299.00 537.17 300.67 538.00 302.00C538.83 303.33 539.67 304.50 540.00 305.00" stroke="#1f9de6"/>
<path class="ct" d="M335.00 279.00C335.42 278.17 336.42 275.83 337.50 274.00C338.58 272.17 340.00 269.92 341.50 268.00C343.00 266.08 344.83 264.37 346.50 262.50C348.17 260.63 349.78 258.58 351.50 256.80C353.22 255.02 354.97 253.27 356.80 251.80C358.63 250.33 360.72 248.87 362.50 248.00C364.28 247.13 365.95 246.87 367.50 246.60C369.05 246.33 370.15 246.82 371.80 246.40C373.45 245.98 375.73 245.07 377.40 244.10C379.07 243.13 380.32 242.18 381.80 240.60C383.28 239.02 385.55 235.60 386.30 234.60" stroke="#19a6df"/>
<path class="ct" d="M483.00 234.60C483.62 235.27 484.80 237.10 486.70 238.60C488.60 240.10 491.82 242.13 494.40 243.60C496.98 245.07 499.60 246.02 502.20 247.40C504.80 248.78 507.60 250.05 510.00 251.90C512.40 253.75 514.58 256.10 516.60 258.50C518.62 260.90 520.62 264.27 522.10 266.30C523.58 268.33 524.35 268.58 525.50 270.70C526.65 272.82 527.83 276.28 529.00 279.00C530.17 281.72 531.33 284.50 532.50 287.00C533.67 289.50 534.75 292.00 536.00 294.00C537.25 296.00 539.33 298.17 540.00 299.00" stroke="#19a6df"/>
<path class="ct" d="M335.00 274.00C335.42 273.08 336.42 270.47 337.50 268.50C338.58 266.53 340.03 264.37 341.50 262.20C342.97 260.03 344.62 257.62 346.30 255.50C347.98 253.38 349.82 251.17 351.60 249.50C353.38 247.83 355.18 247.12 357.00 245.50C358.82 243.88 360.78 241.62 362.50 239.80C364.22 237.98 366.50 235.47 367.30 234.60" stroke="#13afd8"/>
<path class="ct" d="M501.10 234.60C502.38 235.82 506.22 239.40 508.80 241.90C511.38 244.40 514.38 247.20 516.60 249.60C518.82 252.00 520.53 254.07 522.10 256.30C523.67 258.53 524.77 260.38 526.00 263.00C527.23 265.62 528.33 269.00 529.50 272.00C530.67 275.00 531.83 278.17 533.00 281.00C534.17 283.83 535.33 286.83 536.50 289.00C537.67 291.17 539.42 293.17 540.00 294.00" stroke="#13afd8"/>
</g>
<text class="clh" transform="translate(357.00 244.40) rotate(-38.0)" text-anchor="middle" dy="2.05">220</text><text class="cc" transform="translate(357.00 244.40) rotate(-38.0)" text-anchor="middle" dy="2.05">220</text>
<text class="clh" transform="translate(371.80 246.90) rotate(-30.0)" text-anchor="middle" dy="2.05">200</text><text class="cc" transform="translate(371.80 246.90) rotate(-30.0)" text-anchor="middle" dy="2.05">200</text>
<text class="clh" transform="translate(381.20 252.40) rotate(-50.0)" text-anchor="middle" dy="2.05">180</text><text class="cc" transform="translate(381.20 252.40) rotate(-50.0)" text-anchor="middle" dy="2.05">180</text>
<text class="clh" transform="translate(385.70 254.60) rotate(-50.0)" text-anchor="middle" dy="2.05">160</text><text class="cc" transform="translate(385.70 254.60) rotate(-50.0)" text-anchor="middle" dy="2.05">160</text>
<text class="clh" transform="translate(394.50 254.60) rotate(-52.0)" text-anchor="middle" dy="2.05">120</text><text class="cc" transform="translate(394.50 254.60) rotate(-52.0)" text-anchor="middle" dy="2.05">120</text>
<text class="clh" transform="translate(401.20 253.50) rotate(-50.0)" text-anchor="middle" dy="2.05">100</text><text class="cc" transform="translate(401.20 253.50) rotate(-50.0)" text-anchor="middle" dy="2.05">100</text>
<text class="clh" transform="translate(438.90 243.00) rotate(5.0)" text-anchor="middle" dy="2.05">80</text><text class="cc" transform="translate(438.90 243.00) rotate(5.0)" text-anchor="middle" dy="2.05">80</text>
<text class="clh" transform="translate(411.70 269.60) rotate(-45.0)" text-anchor="middle" dy="2.05">60</text><text class="cc" transform="translate(411.70 269.60) rotate(-45.0)" text-anchor="middle" dy="2.05">60</text>
<text class="clh" transform="translate(346.90 298.60) rotate(0.0)" text-anchor="middle" dy="2.05">140</text><text class="cc" transform="translate(346.90 298.60) rotate(0.0)" text-anchor="middle" dy="2.05">140</text>
<text class="clh" transform="translate(348.00 313.60) rotate(25.0)" text-anchor="middle" dy="2.05">120</text><text class="cc" transform="translate(348.00 313.60) rotate(25.0)" text-anchor="middle" dy="2.05">120</text>
<text class="clh" transform="translate(382.40 303.00) rotate(-80.0)" text-anchor="middle" dy="2.05">80</text><text class="cc" transform="translate(382.40 303.00) rotate(-80.0)" text-anchor="middle" dy="2.05">80</text>
<text class="clh" transform="translate(453.80 302.00) rotate(50.0)" text-anchor="middle" dy="2.05">40</text><text class="cc" transform="translate(453.80 302.00) rotate(50.0)" text-anchor="middle" dy="2.05">40</text>
<text class="clh" transform="translate(479.90 300.30) rotate(82.0)" text-anchor="middle" dy="2.05">60</text><text class="cc" transform="translate(479.90 300.30) rotate(82.0)" text-anchor="middle" dy="2.05">60</text>
<text class="clh" transform="translate(488.90 309.20) rotate(82.0)" text-anchor="middle" dy="2.05">80</text><text class="cc" transform="translate(488.90 309.20) rotate(82.0)" text-anchor="middle" dy="2.05">80</text>
<text class="clh" transform="translate(491.60 295.80) rotate(68.0)" text-anchor="middle" dy="2.05">100</text><text class="cc" transform="translate(491.60 295.80) rotate(68.0)" text-anchor="middle" dy="2.05">100</text>
<text class="clh" transform="translate(496.60 295.80) rotate(68.0)" text-anchor="middle" dy="2.05">120</text><text class="cc" transform="translate(496.60 295.80) rotate(68.0)" text-anchor="middle" dy="2.05">120</text>
<text class="clh" transform="translate(477.70 249.60) rotate(55.0)" text-anchor="middle" dy="2.05">140</text><text class="cc" transform="translate(477.70 249.60) rotate(55.0)" text-anchor="middle" dy="2.05">140</text>
<text class="clh" transform="translate(524.40 283.60) rotate(40.0)" text-anchor="middle" dy="2.05">160</text><text class="cc" transform="translate(524.40 283.60) rotate(40.0)" text-anchor="middle" dy="2.05">160</text>
<text class="clh" transform="translate(532.10 302.50) rotate(50.0)" text-anchor="middle" dy="2.05">140</text><text class="cc" transform="translate(532.10 302.50) rotate(50.0)" text-anchor="middle" dy="2.05">140</text>
<text class="clh" transform="translate(529.90 311.40) rotate(30.0)" text-anchor="middle" dy="2.05">120</text><text class="cc" transform="translate(529.90 311.40) rotate(30.0)" text-anchor="middle" dy="2.05">120</text>
<text class="cmh" transform="translate(344.40 247.10) rotate(-48.0)" text-anchor="middle" dy="2.05">420</text><text class="cc" transform="translate(344.40 247.10) rotate(-48.0)" text-anchor="middle" dy="2.05">420</text>
<text class="cmh" transform="translate(345.02 248.48) rotate(-47.3)" text-anchor="middle" dy="2.05">400</text><text class="cc" transform="translate(345.02 248.48) rotate(-47.3)" text-anchor="middle" dy="2.05">400</text>
<text class="cmh" transform="translate(345.64 246.26) rotate(-46.7)" text-anchor="middle" dy="2.05">380</text><text class="cc" transform="translate(345.64 246.26) rotate(-46.7)" text-anchor="middle" dy="2.05">380</text>
<text class="cmh" transform="translate(346.27 247.63) rotate(-46.0)" text-anchor="middle" dy="2.05">360</text><text class="cc" transform="translate(346.27 247.63) rotate(-46.0)" text-anchor="middle" dy="2.05">360</text>
<text class="cmh" transform="translate(346.89 245.41) rotate(-45.3)" text-anchor="middle" dy="2.05">340</text><text class="cc" transform="translate(346.89 245.41) rotate(-45.3)" text-anchor="middle" dy="2.05">340</text>
<text class="cmh" transform="translate(347.51 246.79) rotate(-44.7)" text-anchor="middle" dy="2.05">320</text><text class="cc" transform="translate(347.51 246.79) rotate(-44.7)" text-anchor="middle" dy="2.05">320</text>
<text class="cmh" transform="translate(348.13 244.57) rotate(-44.0)" text-anchor="middle" dy="2.05">300</text><text class="cc" transform="translate(348.13 244.57) rotate(-44.0)" text-anchor="middle" dy="2.05">300</text>
<text class="cmh" transform="translate(348.76 245.94) rotate(-43.3)" text-anchor="middle" dy="2.05">280</text><text class="cc" transform="translate(348.76 245.94) rotate(-43.3)" text-anchor="middle" dy="2.05">280</text>
<text class="cmh" transform="translate(349.38 243.72) rotate(-42.7)" text-anchor="middle" dy="2.05">260</text><text class="cc" transform="translate(349.38 243.72) rotate(-42.7)" text-anchor="middle" dy="2.05">260</text>
<text class="cmh" transform="translate(350.00 245.10) rotate(-42.0)" text-anchor="middle" dy="2.05">240</text><text class="cc" transform="translate(350.00 245.10) rotate(-42.0)" text-anchor="middle" dy="2.05">240</text>
<text class="cmh" transform="translate(531.10 247.50) rotate(74.0)" text-anchor="middle" dy="2.05">660</text><text class="cc" transform="translate(531.10 247.50) rotate(74.0)" text-anchor="middle" dy="2.05">660</text>
<text class="cmh" transform="translate(531.94 248.74) rotate(73.7)" text-anchor="middle" dy="2.05">640</text><text class="cc" transform="translate(531.94 248.74) rotate(73.7)" text-anchor="middle" dy="2.05">640</text>
<text class="cmh" transform="translate(530.79 249.98) rotate(73.5)" text-anchor="middle" dy="2.05">620</text><text class="cc" transform="translate(530.79 249.98) rotate(73.5)" text-anchor="middle" dy="2.05">620</text>
<text class="cmh" transform="translate(531.63 251.22) rotate(73.2)" text-anchor="middle" dy="2.05">600</text><text class="cc" transform="translate(531.63 251.22) rotate(73.2)" text-anchor="middle" dy="2.05">600</text>
<text class="cmh" transform="translate(530.47 252.46) rotate(73.0)" text-anchor="middle" dy="2.05">580</text><text class="cc" transform="translate(530.47 252.46) rotate(73.0)" text-anchor="middle" dy="2.05">580</text>
<text class="cmh" transform="translate(531.32 253.70) rotate(72.7)" text-anchor="middle" dy="2.05">560</text><text class="cc" transform="translate(531.32 253.70) rotate(72.7)" text-anchor="middle" dy="2.05">560</text>
<text class="cmh" transform="translate(530.16 254.93) rotate(72.4)" text-anchor="middle" dy="2.05">540</text><text class="cc" transform="translate(530.16 254.93) rotate(72.4)" text-anchor="middle" dy="2.05">540</text>
<text class="cmh" transform="translate(531.00 256.17) rotate(72.2)" text-anchor="middle" dy="2.05">520</text><text class="cc" transform="translate(531.00 256.17) rotate(72.2)" text-anchor="middle" dy="2.05">520</text>
<text class="cmh" transform="translate(529.85 257.41) rotate(71.9)" text-anchor="middle" dy="2.05">500</text><text class="cc" transform="translate(529.85 257.41) rotate(71.9)" text-anchor="middle" dy="2.05">500</text>
<text class="cmh" transform="translate(530.69 258.65) rotate(71.7)" text-anchor="middle" dy="2.05">480</text><text class="cc" transform="translate(530.69 258.65) rotate(71.7)" text-anchor="middle" dy="2.05">480</text>
<text class="cmh" transform="translate(529.53 259.89) rotate(71.4)" text-anchor="middle" dy="2.05">460</text><text class="cc" transform="translate(529.53 259.89) rotate(71.4)" text-anchor="middle" dy="2.05">460</text>
<text class="cmh" transform="translate(530.38 261.13) rotate(71.1)" text-anchor="middle" dy="2.05">440</text><text class="cc" transform="translate(530.38 261.13) rotate(71.1)" text-anchor="middle" dy="2.05">440</text>
<text class="cmh" transform="translate(529.22 262.37) rotate(70.9)" text-anchor="middle" dy="2.05">420</text><text class="cc" transform="translate(529.22 262.37) rotate(70.9)" text-anchor="middle" dy="2.05">420</text>
<text class="cmh" transform="translate(530.07 263.61) rotate(70.6)" text-anchor="middle" dy="2.05">400</text><text class="cc" transform="translate(530.07 263.61) rotate(70.6)" text-anchor="middle" dy="2.05">400</text>
<text class="cmh" transform="translate(528.91 264.85) rotate(70.3)" text-anchor="middle" dy="2.05">380</text><text class="cc" transform="translate(528.91 264.85) rotate(70.3)" text-anchor="middle" dy="2.05">380</text>
<text class="cmh" transform="translate(529.75 266.09) rotate(70.1)" text-anchor="middle" dy="2.05">360</text><text class="cc" transform="translate(529.75 266.09) rotate(70.1)" text-anchor="middle" dy="2.05">360</text>
<text class="cmh" transform="translate(528.60 267.33) rotate(69.8)" text-anchor="middle" dy="2.05">340</text><text class="cc" transform="translate(528.60 267.33) rotate(69.8)" text-anchor="middle" dy="2.05">340</text>
<text class="cmh" transform="translate(529.44 268.57) rotate(69.6)" text-anchor="middle" dy="2.05">320</text><text class="cc" transform="translate(529.44 268.57) rotate(69.6)" text-anchor="middle" dy="2.05">320</text>
<text class="cmh" transform="translate(528.28 269.80) rotate(69.3)" text-anchor="middle" dy="2.05">300</text><text class="cc" transform="translate(528.28 269.80) rotate(69.3)" text-anchor="middle" dy="2.05">300</text>
<text class="cmh" transform="translate(529.13 271.04) rotate(69.0)" text-anchor="middle" dy="2.05">280</text><text class="cc" transform="translate(529.13 271.04) rotate(69.0)" text-anchor="middle" dy="2.05">280</text>
<text class="cmh" transform="translate(527.97 272.28) rotate(68.8)" text-anchor="middle" dy="2.05">260</text><text class="cc" transform="translate(527.97 272.28) rotate(68.8)" text-anchor="middle" dy="2.05">260</text>
<text class="cmh" transform="translate(528.81 273.52) rotate(68.5)" text-anchor="middle" dy="2.05">240</text><text class="cc" transform="translate(528.81 273.52) rotate(68.5)" text-anchor="middle" dy="2.05">240</text>
<text class="cmh" transform="translate(527.66 274.76) rotate(68.3)" text-anchor="middle" dy="2.05">220</text><text class="cc" transform="translate(527.66 274.76) rotate(68.3)" text-anchor="middle" dy="2.05">220</text>
<text class="cmh" transform="translate(528.50 276.00) rotate(68.0)" text-anchor="middle" dy="2.05">200</text><text class="cc" transform="translate(528.50 276.00) rotate(68.0)" text-anchor="middle" dy="2.05">200</text>
<rect class="ax" x="335.30" y="235.15" width="203.20" height="154.10"/>
<path class="ax" d="M356.14 389.25v-2.0M356.14 235.15v2.0M382.19 389.25v-2.0M382.19 235.15v2.0M408.24 389.25v-2.0M408.24 235.15v2.0M434.29 389.25v-2.0M434.29 235.15v2.0M460.35 389.25v-2.0M460.35 235.15v2.0M486.40 389.25v-2.0M486.40 235.15v2.0M512.45 389.25v-2.0M512.45 235.15v2.0M538.50 389.25v-2.0M538.50 235.15v2.0M335.30 389.25h2.0M538.50 389.25h-2.0M335.30 357.15h2.0M538.50 357.15h-2.0M335.30 325.04h2.0M538.50 325.04h-2.0M335.30 292.94h2.0M538.50 292.94h-2.0M335.30 260.83h2.0M538.50 260.83h-2.0"/>
<text class="tk" x="356.14" y="401.05" text-anchor="middle">1</text>
<text class="tk" x="382.19" y="401.05" text-anchor="middle">2</text>
<text class="tk" x="408.24" y="401.05" text-anchor="middle">3</text>
<text class="tk" x="434.29" y="401.05" text-anchor="middle">4</text>
<text class="tk" x="460.35" y="401.05" text-anchor="middle">5</text>
<text class="tk" x="486.40" y="401.05" text-anchor="middle">6</text>
<text class="tk" x="512.45" y="401.05" text-anchor="middle">7</text>
<text class="tk" x="538.50" y="401.05" text-anchor="middle">8</text>
<text class="tk" x="332.30" y="392.45" text-anchor="end">0</text>
<text class="tk" x="332.30" y="360.35" text-anchor="end">1</text>
<text class="tk" x="332.30" y="328.24" text-anchor="end">2</text>
<text class="tk" x="332.30" y="296.14" text-anchor="end">3</text>
<text class="tk" x="332.30" y="264.03" text-anchor="end">4</text>
<text class="tk" x="436.90" y="413.35" text-anchor="middle" style="font-size:10px">X/m</text>
<text class="tk" transform="translate(323.40 312.50) rotate(-90)" text-anchor="middle" style="font-size:10px">Y/m</text>
<text class="tk" x="538.10" y="415.45" text-anchor="end" style="font-size:9.4px"><tspan style="font-size:10.5px" dy="0.6">×</tspan><tspan dx="1.2" dy="-0.6">10</tspan><tspan dy="-4.0" dx="0.1" style="font-size:7.6px">5</tspan></text>
<text class="tk" x="336.20" y="233.15" style="font-size:9.4px"><tspan style="font-size:10.5px" dy="0.6">×</tspan><tspan dx="1.2" dy="-0.6">10</tspan><tspan dy="-4.0" dx="0.1" style="font-size:7.6px">5</tspan></text>
<path d="M330.70 347.18L339.90 347.18L335.30 339.18Z" fill="#000"/>
<path d="M429.69 347.18L438.89 347.18L434.29 339.18Z" fill="#000"/>
<path d="M533.90 347.18L543.10 347.18L538.50 339.18Z" fill="#000"/>
<circle cx="376.98" cy="325.04" r="3.9" fill="#000"/>
<circle cx="491.61" cy="325.04" r="3.9" fill="#000"/>
<rect x="464.60" y="359.95" width="71.6" height="27.2" fill="#fff" stroke="#262626" stroke-width="0.6" stroke-opacity=".62"/>
<path d="M468.60 370.34L478.60 370.34L473.60 362.04Z" fill="#000"/>
<circle cx="473.50" cy="379.45" r="4.0" fill="#000"/>
<text class="lg" x="482.20" y="370.95">Transmitter</text>
<text class="lg" x="482.20" y="383.55">Receiver</text>
<text class="cap" x="444.00" y="435.25" text-anchor="middle">(<tspan font-weight="bold">d</tspan>)</text>
</g>
</svg></body></html>
